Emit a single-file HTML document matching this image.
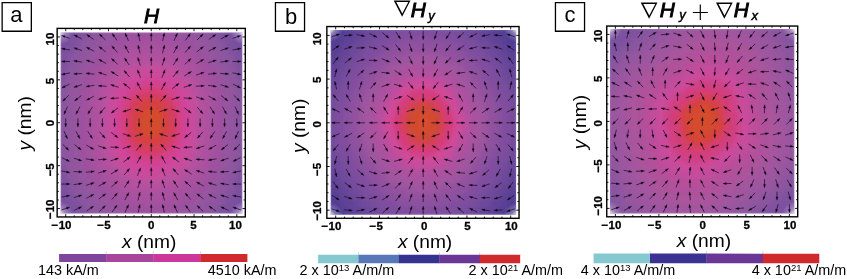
<!DOCTYPE html>
<html><head><meta charset="utf-8"><style>html,body{margin:0;padding:0;background:#fff;overflow:hidden}svg{display:block}</style></head>
<body><svg width="847" height="279" viewBox="0 0 847 279">
<style>
text{font-family:'Liberation Sans',sans-serif;fill:#000}
.tl{font-size:11.5px;font-weight:bold;stroke:#000;stroke-width:0.3px}
.ax{font-size:19.2px}
.cb{font-size:14.4px}
.lt{font-size:22px}
.ti{font-size:20.8px;font-style:italic;stroke:#000;stroke-width:0.95px}
.sub{font-size:13px;stroke-width:0.5px}
.pl{font-family:'DejaVu Sans',sans-serif;font-weight:200;font-size:24px}
.nab{font-family:IPAGothic,sans-serif;font-size:21.2px}
.sh{stroke:#1e0828;stroke-width:1.0;fill:none;stroke-opacity:0.72}
.hd{fill:#0a0010;stroke:#0a0010;stroke-width:0.3;stroke-linejoin:round}
</style>
<rect width="847" height="279" fill="#fff"/>
<defs>
<clipPath id="ca"><rect x="60.7" y="32.5" width="181.6" height="181"/></clipPath>
<filter id="fa" x="-0.1" y="-0.1" width="1.2" height="1.2"><feGaussianBlur stdDeviation="1.8"/></filter>
<clipPath id="cb"><rect x="330.75" y="29.9" width="185.35" height="184.9"/></clipPath>
<filter id="fb" x="-0.1" y="-0.1" width="1.2" height="1.2"><feGaussianBlur stdDeviation="1.8"/></filter>
<clipPath id="cc"><rect x="610" y="29" width="184.3" height="184.4"/></clipPath>
<filter id="fc" x="-0.1" y="-0.1" width="1.2" height="1.2"><feGaussianBlur stdDeviation="1.8"/></filter>
<radialGradient id="cw"><stop offset="0" stop-color="#fff" stop-opacity="0.8"/><stop offset="0.35" stop-color="#fff" stop-opacity="0.3"/><stop offset="1" stop-color="#fff" stop-opacity="0"/></radialGradient>
<linearGradient id="ew" x1="0" y1="0" x2="1" y2="0"><stop offset="0" stop-color="#fff" stop-opacity="0.1"/><stop offset="1" stop-color="#fff" stop-opacity="0"/></linearGradient>
<linearGradient id="ewv" x1="0" y1="0" x2="0" y2="1"><stop offset="0" stop-color="#fff" stop-opacity="0.1"/><stop offset="1" stop-color="#fff" stop-opacity="0"/></linearGradient><linearGradient id="ewv2" x1="0" y1="1" x2="0" y2="0"><stop offset="0" stop-color="#fff" stop-opacity="0.1"/><stop offset="1" stop-color="#fff" stop-opacity="0"/></linearGradient>
</defs>
<g clip-path="url(#ca)"><g filter="url(#fa)"><g transform="translate(48.59 19.79) scale(4.28 4.29)" shape-rendering="crispEdges"><path fill="#754e9f" d="M0 0h7v1h-7zM41 0h7v1h-7zM0 1h6v1h-6zM42 1h6v1h-6zM0 2h5v1h-5zM43 2h5v1h-5zM0 3h4v1h-4zM44 3h4v1h-4zM0 4h4v1h-4zM44 4h4v1h-4zM0 5h3v1h-3zM45 5h3v1h-3zM0 6h3v1h-3zM45 6h3v1h-3zM0 7h2v1h-2zM46 7h2v1h-2zM0 8h2v1h-2zM46 8h2v1h-2zM0 9h1v1h-1zM47 9h1v1h-1zM0 10h1v1h-1zM47 10h1v1h-1zM0 11h1v1h-1zM47 11h1v1h-1zM0 12h1v1h-1zM47 12h1v1h-1zM0 35h1v1h-1zM47 35h1v1h-1zM0 36h1v1h-1zM47 36h1v1h-1zM0 37h1v1h-1zM47 37h1v1h-1zM0 38h1v1h-1zM47 38h1v1h-1zM0 39h2v1h-2zM46 39h2v1h-2zM0 40h2v1h-2zM46 40h2v1h-2zM0 41h3v1h-3zM45 41h3v1h-3zM0 42h3v1h-3zM45 42h3v1h-3zM0 43h4v1h-4zM44 43h4v1h-4zM0 44h4v1h-4zM44 44h4v1h-4zM0 45h5v1h-5zM43 45h5v1h-5zM0 46h6v1h-6zM42 46h6v1h-6zM0 47h7v1h-7zM41 47h7v1h-7z"/><path fill="#784e9f" d="M7 0h2v1h-2zM39 0h2v1h-2zM6 1h2v1h-2zM40 1h2v1h-2zM5 2h2v1h-2zM41 2h2v1h-2zM4 3h2v1h-2zM42 3h2v1h-2zM4 4h1v1h-1zM43 4h1v1h-1zM3 5h1v1h-1zM44 5h1v1h-1zM3 6h1v1h-1zM44 6h1v1h-1zM2 7h1v1h-1zM45 7h1v1h-1zM2 8h1v1h-1zM45 8h1v1h-1zM1 9h2v1h-2zM45 9h2v1h-2zM1 10h1v1h-1zM46 10h1v1h-1zM1 11h1v1h-1zM46 11h1v1h-1zM1 12h1v1h-1zM46 12h1v1h-1zM0 13h1v1h-1zM47 13h1v1h-1zM0 14h1v1h-1zM47 14h1v1h-1zM0 15h1v1h-1zM47 15h1v1h-1zM0 16h1v1h-1zM47 16h1v1h-1zM0 17h1v1h-1zM47 17h1v1h-1zM0 18h1v1h-1zM47 18h1v1h-1zM0 19h1v1h-1zM47 19h1v1h-1zM0 20h1v1h-1zM47 20h1v1h-1zM0 21h1v1h-1zM47 21h1v1h-1zM0 22h1v1h-1zM47 22h1v1h-1zM0 23h1v1h-1zM47 23h1v1h-1zM0 24h1v1h-1zM47 24h1v1h-1zM0 25h1v1h-1zM47 25h1v1h-1zM0 26h1v1h-1zM47 26h1v1h-1zM0 27h1v1h-1zM47 27h1v1h-1zM0 28h1v1h-1zM47 28h1v1h-1zM0 29h1v1h-1zM47 29h1v1h-1zM0 30h1v1h-1zM47 30h1v1h-1zM0 31h1v1h-1zM47 31h1v1h-1zM0 32h1v1h-1zM47 32h1v1h-1zM0 33h1v1h-1zM47 33h1v1h-1zM0 34h1v1h-1zM47 34h1v1h-1zM1 35h1v1h-1zM46 35h1v1h-1zM1 36h1v1h-1zM46 36h1v1h-1zM1 37h1v1h-1zM46 37h1v1h-1zM1 38h2v1h-2zM45 38h2v1h-2zM2 39h1v1h-1zM45 39h1v1h-1zM2 40h1v1h-1zM45 40h1v1h-1zM3 41h1v1h-1zM44 41h1v1h-1zM3 42h1v1h-1zM44 42h1v1h-1zM4 43h1v1h-1zM43 43h1v1h-1zM4 44h2v1h-2zM42 44h2v1h-2zM5 45h2v1h-2zM41 45h2v1h-2zM6 46h2v1h-2zM40 46h2v1h-2zM7 47h2v1h-2zM39 47h2v1h-2z"/><path fill="#7b519f" d="M9 0h1v1h-1zM38 0h1v1h-1zM8 1h1v1h-1zM39 1h1v1h-1zM7 2h1v1h-1zM40 2h1v1h-1zM6 3h1v1h-1zM41 3h1v1h-1zM5 4h1v1h-1zM42 4h1v1h-1zM5 5h1v1h-1zM42 5h1v1h-1zM4 6h1v1h-1zM43 6h1v1h-1zM3 8h1v1h-1zM44 8h1v1h-1zM3 9h1v1h-1zM44 9h1v1h-1zM2 10h1v1h-1zM45 10h1v1h-1zM2 11h1v1h-1zM45 11h1v1h-1zM2 12h1v1h-1zM45 12h1v1h-1zM1 14h1v1h-1zM46 14h1v1h-1zM1 15h1v1h-1zM46 15h1v1h-1zM1 16h1v1h-1zM46 16h1v1h-1zM1 17h1v1h-1zM46 17h1v1h-1zM1 18h1v1h-1zM46 18h1v1h-1zM1 19h1v1h-1zM46 19h1v1h-1zM1 20h1v1h-1zM46 20h1v1h-1zM1 21h1v1h-1zM46 21h1v1h-1zM1 22h1v1h-1zM46 22h1v1h-1zM1 23h1v1h-1zM46 23h1v1h-1zM1 24h1v1h-1zM46 24h1v1h-1zM1 25h1v1h-1zM46 25h1v1h-1zM1 26h1v1h-1zM46 26h1v1h-1zM1 27h1v1h-1zM46 27h1v1h-1zM1 28h1v1h-1zM46 28h1v1h-1zM1 29h1v1h-1zM46 29h1v1h-1zM1 30h1v1h-1zM46 30h1v1h-1zM1 31h1v1h-1zM46 31h1v1h-1zM1 32h1v1h-1zM46 32h1v1h-1zM1 33h1v1h-1zM46 33h1v1h-1zM2 35h1v1h-1zM45 35h1v1h-1zM2 36h1v1h-1zM45 36h1v1h-1zM2 37h1v1h-1zM45 37h1v1h-1zM3 38h1v1h-1zM44 38h1v1h-1zM3 39h1v1h-1zM44 39h1v1h-1zM4 41h1v1h-1zM43 41h1v1h-1zM5 42h1v1h-1zM42 42h1v1h-1zM5 43h1v1h-1zM42 43h1v1h-1zM6 44h1v1h-1zM41 44h1v1h-1zM7 45h1v1h-1zM40 45h1v1h-1zM8 46h1v1h-1zM39 46h1v1h-1zM9 47h1v1h-1zM38 47h1v1h-1z"/><path fill="#7e519f" d="M10 0h1v1h-1zM37 0h1v1h-1zM9 1h1v1h-1zM38 1h1v1h-1zM8 2h1v1h-1zM39 2h1v1h-1zM7 3h1v1h-1zM40 3h1v1h-1zM6 4h1v1h-1zM41 4h1v1h-1zM5 6h1v1h-1zM42 6h1v1h-1zM4 7h1v1h-1zM43 7h1v1h-1zM3 10h1v1h-1zM44 10h1v1h-1zM2 13h1v1h-1zM45 13h1v1h-1zM2 14h1v1h-1zM45 14h1v1h-1zM2 33h1v1h-1zM45 33h1v1h-1zM2 34h1v1h-1zM45 34h1v1h-1zM3 37h1v1h-1zM44 37h1v1h-1zM4 40h1v1h-1zM43 40h1v1h-1zM5 41h1v1h-1zM42 41h1v1h-1zM6 43h1v1h-1zM41 43h1v1h-1zM7 44h1v1h-1zM40 44h1v1h-1zM8 45h1v1h-1zM39 45h1v1h-1zM9 46h1v1h-1zM38 46h1v1h-1zM10 47h1v1h-1zM37 47h1v1h-1z"/><path fill="#81519f" d="M11 0h1v1h-1zM36 0h1v1h-1zM10 1h1v1h-1zM37 1h1v1h-1zM6 5h1v1h-1zM41 5h1v1h-1zM4 8h1v1h-1zM43 8h1v1h-1zM3 11h1v1h-1zM44 11h1v1h-1zM2 15h1v1h-1zM45 15h1v1h-1zM2 16h1v1h-1zM45 16h1v1h-1zM2 17h1v1h-1zM45 17h1v1h-1zM2 30h1v1h-1zM45 30h1v1h-1zM2 31h1v1h-1zM45 31h1v1h-1zM2 32h1v1h-1zM45 32h1v1h-1zM3 36h1v1h-1zM44 36h1v1h-1zM4 39h1v1h-1zM43 39h1v1h-1zM6 42h1v1h-1zM41 42h1v1h-1zM10 46h1v1h-1zM37 46h1v1h-1zM11 47h1v1h-1zM36 47h1v1h-1z"/><path fill="#84519f" d="M12 0h1v1h-1zM35 0h1v1h-1zM9 2h1v1h-1zM38 2h1v1h-1zM8 3h1v1h-1zM39 3h1v1h-1zM7 4h1v1h-1zM40 4h1v1h-1zM6 6h1v1h-1zM41 6h1v1h-1zM5 7h1v1h-1zM42 7h1v1h-1zM4 9h1v1h-1zM43 9h1v1h-1zM3 12h1v1h-1zM44 12h1v1h-1zM3 13h1v1h-1zM44 13h1v1h-1zM2 18h1v1h-1zM45 18h1v1h-1zM2 19h1v1h-1zM45 19h1v1h-1zM2 20h1v1h-1zM45 20h1v1h-1zM2 21h1v1h-1zM45 21h1v1h-1zM2 22h1v1h-1zM45 22h1v1h-1zM2 23h1v1h-1zM45 23h1v1h-1zM2 24h1v1h-1zM45 24h1v1h-1zM2 25h1v1h-1zM45 25h1v1h-1zM2 26h1v1h-1zM45 26h1v1h-1zM2 27h1v1h-1zM45 27h1v1h-1zM2 28h1v1h-1zM45 28h1v1h-1zM2 29h1v1h-1zM45 29h1v1h-1zM3 34h1v1h-1zM44 34h1v1h-1zM3 35h1v1h-1zM44 35h1v1h-1zM4 38h1v1h-1zM43 38h1v1h-1zM5 40h1v1h-1zM42 40h1v1h-1zM6 41h1v1h-1zM41 41h1v1h-1zM7 43h1v1h-1zM40 43h1v1h-1zM8 44h1v1h-1zM39 44h1v1h-1zM9 45h1v1h-1zM38 45h1v1h-1zM12 47h1v1h-1zM35 47h1v1h-1z"/><path fill="#87549f" d="M13 0h1v1h-1zM34 0h1v1h-1zM11 1h1v1h-1zM36 1h1v1h-1zM10 2h1v1h-1zM37 2h1v1h-1zM9 3h1v1h-1zM38 3h1v1h-1zM8 4h1v1h-1zM39 4h1v1h-1zM7 5h1v1h-1zM40 5h1v1h-1zM5 8h1v1h-1zM42 8h1v1h-1zM4 11h1v1h-1zM43 11h1v1h-1zM3 14h1v1h-1zM44 14h1v1h-1zM3 15h1v1h-1zM44 15h1v1h-1zM3 32h1v1h-1zM44 32h1v1h-1zM3 33h1v1h-1zM44 33h1v1h-1zM4 36h1v1h-1zM43 36h1v1h-1zM5 39h1v1h-1zM42 39h1v1h-1zM7 42h1v1h-1zM40 42h1v1h-1zM8 43h1v1h-1zM39 43h1v1h-1zM9 44h1v1h-1zM38 44h1v1h-1zM10 45h1v1h-1zM37 45h1v1h-1zM11 46h1v1h-1zM36 46h1v1h-1zM13 47h1v1h-1zM34 47h1v1h-1z"/><path fill="#8a549f" d="M14 0h1v1h-1zM33 0h1v1h-1zM12 1h1v1h-1zM35 1h1v1h-1zM7 6h1v1h-1zM40 6h1v1h-1zM6 7h1v1h-1zM41 7h1v1h-1zM5 9h1v1h-1zM42 9h1v1h-1zM4 12h1v1h-1zM43 12h1v1h-1zM3 16h1v1h-1zM44 16h1v1h-1zM3 17h1v1h-1zM44 17h1v1h-1zM3 18h1v1h-1zM44 18h1v1h-1zM3 19h1v1h-1zM44 19h1v1h-1zM3 20h1v1h-1zM44 20h1v1h-1zM3 21h1v1h-1zM44 21h1v1h-1zM3 22h1v1h-1zM44 22h1v1h-1zM3 23h1v1h-1zM44 23h1v1h-1zM3 24h1v1h-1zM44 24h1v1h-1zM3 25h1v1h-1zM44 25h1v1h-1zM3 26h1v1h-1zM44 26h1v1h-1zM3 27h1v1h-1zM44 27h1v1h-1zM3 28h1v1h-1zM44 28h1v1h-1zM3 29h1v1h-1zM44 29h1v1h-1zM3 30h1v1h-1zM44 30h1v1h-1zM3 31h1v1h-1zM44 31h1v1h-1zM4 35h1v1h-1zM43 35h1v1h-1zM5 38h1v1h-1zM42 38h1v1h-1zM6 40h1v1h-1zM41 40h1v1h-1zM7 41h1v1h-1zM40 41h1v1h-1zM12 46h1v1h-1zM35 46h1v1h-1zM14 47h1v1h-1zM33 47h1v1h-1z"/><path fill="#8d549f" d="M15 0h2v1h-2zM31 0h2v1h-2zM13 1h1v1h-1zM34 1h1v1h-1zM11 2h2v1h-2zM35 2h2v1h-2zM10 3h2v1h-2zM36 3h2v1h-2zM9 4h1v1h-1zM38 4h1v1h-1zM8 5h1v1h-1zM39 5h1v1h-1zM8 6h1v1h-1zM39 6h1v1h-1zM7 7h1v1h-1zM40 7h1v1h-1zM6 8h1v1h-1zM41 8h1v1h-1zM6 9h1v1h-1zM41 9h1v1h-1zM5 10h1v1h-1zM42 10h1v1h-1zM5 11h1v1h-1zM42 11h1v1h-1zM4 13h1v1h-1zM43 13h1v1h-1zM4 14h1v1h-1zM43 14h1v1h-1zM4 15h1v1h-1zM43 15h1v1h-1zM4 32h1v1h-1zM43 32h1v1h-1zM4 33h1v1h-1zM43 33h1v1h-1zM4 34h1v1h-1zM43 34h1v1h-1zM5 36h1v1h-1zM42 36h1v1h-1zM5 37h1v1h-1zM42 37h1v1h-1zM6 38h1v1h-1zM41 38h1v1h-1zM6 39h1v1h-1zM41 39h1v1h-1zM7 40h1v1h-1zM40 40h1v1h-1zM8 41h1v1h-1zM39 41h1v1h-1zM8 42h1v1h-1zM39 42h1v1h-1zM9 43h1v1h-1zM38 43h1v1h-1zM10 44h2v1h-2zM36 44h2v1h-2zM11 45h2v1h-2zM35 45h2v1h-2zM13 46h1v1h-1zM34 46h1v1h-1zM15 47h2v1h-2zM31 47h2v1h-2z"/><path fill="#90549f" d="M17 0h3v1h-3zM28 0h3v1h-3zM14 1h3v1h-3zM31 1h3v1h-3zM13 2h2v1h-2zM33 2h2v1h-2zM12 3h1v1h-1zM35 3h1v1h-1zM10 4h2v1h-2zM36 4h2v1h-2zM9 5h2v1h-2zM37 5h2v1h-2zM9 6h1v1h-1zM38 6h1v1h-1zM8 7h1v1h-1zM39 7h1v1h-1zM7 8h1v1h-1zM40 8h1v1h-1zM7 9h1v1h-1zM40 9h1v1h-1zM6 10h1v1h-1zM41 10h1v1h-1zM6 11h1v1h-1zM41 11h1v1h-1zM5 12h1v1h-1zM42 12h1v1h-1zM5 13h1v1h-1zM42 13h1v1h-1zM5 14h1v1h-1zM42 14h1v1h-1zM4 16h1v1h-1zM43 16h1v1h-1zM4 17h1v1h-1zM43 17h1v1h-1zM4 18h1v1h-1zM43 18h1v1h-1zM4 19h1v1h-1zM43 19h1v1h-1zM4 20h1v1h-1zM43 20h1v1h-1zM4 21h1v1h-1zM43 21h1v1h-1zM4 22h1v1h-1zM43 22h1v1h-1zM4 23h1v1h-1zM43 23h1v1h-1zM4 24h1v1h-1zM43 24h1v1h-1zM4 25h1v1h-1zM43 25h1v1h-1zM4 26h1v1h-1zM43 26h1v1h-1zM4 27h1v1h-1zM43 27h1v1h-1zM4 28h1v1h-1zM43 28h1v1h-1zM4 29h1v1h-1zM43 29h1v1h-1zM4 30h1v1h-1zM43 30h1v1h-1zM4 31h1v1h-1zM43 31h1v1h-1zM5 33h1v1h-1zM42 33h1v1h-1zM5 34h1v1h-1zM42 34h1v1h-1zM5 35h1v1h-1zM42 35h1v1h-1zM6 36h1v1h-1zM41 36h1v1h-1zM6 37h1v1h-1zM41 37h1v1h-1zM7 38h1v1h-1zM40 38h1v1h-1zM7 39h1v1h-1zM40 39h1v1h-1zM8 40h1v1h-1zM39 40h1v1h-1zM9 41h1v1h-1zM38 41h1v1h-1zM9 42h2v1h-2zM37 42h2v1h-2zM10 43h2v1h-2zM36 43h2v1h-2zM12 44h1v1h-1zM35 44h1v1h-1zM13 45h2v1h-2zM33 45h2v1h-2zM14 46h3v1h-3zM31 46h3v1h-3zM17 47h3v1h-3zM28 47h3v1h-3z"/><path fill="#93549f" d="M20 0h8v1h-8zM17 1h2v1h-2zM29 1h2v1h-2zM15 2h2v1h-2zM31 2h2v1h-2zM13 3h2v1h-2zM33 3h2v1h-2zM12 4h1v1h-1zM35 4h1v1h-1zM11 5h1v1h-1zM36 5h1v1h-1zM10 6h1v1h-1zM37 6h1v1h-1zM9 7h1v1h-1zM38 7h1v1h-1zM8 8h1v1h-1zM39 8h1v1h-1zM8 9h1v1h-1zM39 9h1v1h-1zM7 10h1v1h-1zM40 10h1v1h-1zM6 12h1v1h-1zM41 12h1v1h-1zM6 13h1v1h-1zM41 13h1v1h-1zM5 15h1v1h-1zM42 15h1v1h-1zM5 16h1v1h-1zM42 16h1v1h-1zM5 17h1v1h-1zM42 17h1v1h-1zM5 18h1v1h-1zM42 18h1v1h-1zM5 19h1v1h-1zM42 19h1v1h-1zM5 20h1v1h-1zM42 20h1v1h-1zM5 21h1v1h-1zM42 21h1v1h-1zM5 22h1v1h-1zM42 22h1v1h-1zM5 23h1v1h-1zM42 23h1v1h-1zM5 24h1v1h-1zM42 24h1v1h-1zM5 25h1v1h-1zM42 25h1v1h-1zM5 26h1v1h-1zM42 26h1v1h-1zM5 27h1v1h-1zM42 27h1v1h-1zM5 28h1v1h-1zM42 28h1v1h-1zM5 29h1v1h-1zM42 29h1v1h-1zM5 30h1v1h-1zM42 30h1v1h-1zM5 31h1v1h-1zM42 31h1v1h-1zM5 32h1v1h-1zM42 32h1v1h-1zM6 34h1v1h-1zM41 34h1v1h-1zM6 35h1v1h-1zM41 35h1v1h-1zM7 37h1v1h-1zM40 37h1v1h-1zM8 38h1v1h-1zM39 38h1v1h-1zM8 39h1v1h-1zM39 39h1v1h-1zM9 40h1v1h-1zM38 40h1v1h-1zM10 41h1v1h-1zM37 41h1v1h-1zM11 42h1v1h-1zM36 42h1v1h-1zM12 43h1v1h-1zM35 43h1v1h-1zM13 44h2v1h-2zM33 44h2v1h-2zM15 45h2v1h-2zM31 45h2v1h-2zM17 46h2v1h-2zM29 46h2v1h-2zM20 47h8v1h-8z"/><path fill="#96549f" d="M19 1h10v1h-10zM17 2h2v1h-2zM29 2h2v1h-2zM15 3h2v1h-2zM31 3h2v1h-2zM13 4h2v1h-2zM33 4h2v1h-2zM12 5h1v1h-1zM35 5h1v1h-1zM11 6h1v1h-1zM36 6h1v1h-1zM10 7h1v1h-1zM37 7h1v1h-1zM9 8h1v1h-1zM38 8h1v1h-1zM9 9h1v1h-1zM38 9h1v1h-1zM8 10h1v1h-1zM39 10h1v1h-1zM7 11h1v1h-1zM40 11h1v1h-1zM7 12h1v1h-1zM40 12h1v1h-1zM7 13h1v1h-1zM40 13h1v1h-1zM6 14h1v1h-1zM41 14h1v1h-1zM6 15h1v1h-1zM41 15h1v1h-1zM6 16h1v1h-1zM41 16h1v1h-1zM6 17h1v1h-1zM41 17h1v1h-1zM6 18h1v1h-1zM41 18h1v1h-1zM6 29h1v1h-1zM41 29h1v1h-1zM6 30h1v1h-1zM41 30h1v1h-1zM6 31h1v1h-1zM41 31h1v1h-1zM6 32h1v1h-1zM41 32h1v1h-1zM6 33h1v1h-1zM41 33h1v1h-1zM7 34h1v1h-1zM40 34h1v1h-1zM7 35h1v1h-1zM40 35h1v1h-1zM7 36h1v1h-1zM40 36h1v1h-1zM8 37h1v1h-1zM39 37h1v1h-1zM9 38h1v1h-1zM38 38h1v1h-1zM9 39h1v1h-1zM38 39h1v1h-1zM10 40h1v1h-1zM37 40h1v1h-1zM11 41h1v1h-1zM36 41h1v1h-1zM12 42h1v1h-1zM35 42h1v1h-1zM13 43h2v1h-2zM33 43h2v1h-2zM15 44h2v1h-2zM31 44h2v1h-2zM17 45h2v1h-2zM29 45h2v1h-2zM19 46h10v1h-10z"/><path fill="#99549f" d="M19 2h4v1h-4zM25 2h4v1h-4zM17 3h1v1h-1zM30 3h1v1h-1zM15 4h1v1h-1zM32 4h1v1h-1zM13 5h1v1h-1zM34 5h1v1h-1zM12 6h1v1h-1zM35 6h1v1h-1zM11 7h1v1h-1zM36 7h1v1h-1zM10 8h1v1h-1zM37 8h1v1h-1zM9 10h1v1h-1zM38 10h1v1h-1zM8 11h1v1h-1zM39 11h1v1h-1zM8 12h1v1h-1zM39 12h1v1h-1zM7 14h1v1h-1zM40 14h1v1h-1zM7 15h1v1h-1zM40 15h1v1h-1zM6 19h1v1h-1zM41 19h1v1h-1zM6 20h1v1h-1zM41 20h1v1h-1zM6 21h1v1h-1zM41 21h1v1h-1zM6 22h1v1h-1zM41 22h1v1h-1zM6 23h1v1h-1zM41 23h1v1h-1zM6 24h1v1h-1zM41 24h1v1h-1zM6 25h1v1h-1zM41 25h1v1h-1zM6 26h1v1h-1zM41 26h1v1h-1zM6 27h1v1h-1zM41 27h1v1h-1zM6 28h1v1h-1zM41 28h1v1h-1zM7 32h1v1h-1zM40 32h1v1h-1zM7 33h1v1h-1zM40 33h1v1h-1zM8 35h1v1h-1zM39 35h1v1h-1zM8 36h1v1h-1zM39 36h1v1h-1zM9 37h1v1h-1zM38 37h1v1h-1zM10 39h1v1h-1zM37 39h1v1h-1zM11 40h1v1h-1zM36 40h1v1h-1zM12 41h1v1h-1zM35 41h1v1h-1zM13 42h1v1h-1zM34 42h1v1h-1zM15 43h1v1h-1zM32 43h1v1h-1zM17 44h1v1h-1zM30 44h1v1h-1zM19 45h4v1h-4zM25 45h4v1h-4z"/><path fill="#99519f" d="M23 2h2v1h-2zM18 3h1v1h-1zM29 3h1v1h-1zM16 4h1v1h-1zM31 4h1v1h-1zM14 5h1v1h-1zM33 5h1v1h-1zM10 9h1v1h-1zM37 9h1v1h-1zM7 16h1v1h-1zM40 16h1v1h-1zM7 31h1v1h-1zM40 31h1v1h-1zM10 38h1v1h-1zM37 38h1v1h-1zM14 42h1v1h-1zM33 42h1v1h-1zM16 43h1v1h-1zM31 43h1v1h-1zM18 44h1v1h-1zM29 44h1v1h-1zM23 45h2v1h-2z"/><path fill="#9c519f" d="M19 3h10v1h-10zM17 4h2v1h-2zM29 4h2v1h-2zM15 5h2v1h-2zM31 5h2v1h-2zM13 6h2v1h-2zM33 6h2v1h-2zM12 7h2v1h-2zM34 7h2v1h-2zM11 8h2v1h-2zM35 8h2v1h-2zM11 9h1v1h-1zM36 9h1v1h-1zM10 10h1v1h-1zM37 10h1v1h-1zM9 11h1v1h-1zM38 11h1v1h-1zM9 12h1v1h-1zM38 12h1v1h-1zM8 13h1v1h-1zM39 13h1v1h-1zM8 14h1v1h-1zM39 14h1v1h-1zM8 15h1v1h-1zM39 15h1v1h-1zM7 17h1v1h-1zM40 17h1v1h-1zM7 18h1v1h-1zM40 18h1v1h-1zM7 19h1v1h-1zM40 19h1v1h-1zM7 20h1v1h-1zM40 20h1v1h-1zM7 21h1v1h-1zM40 21h1v1h-1zM7 22h1v1h-1zM40 22h1v1h-1zM7 23h1v1h-1zM40 23h1v1h-1zM7 24h1v1h-1zM40 24h1v1h-1zM7 25h1v1h-1zM40 25h1v1h-1zM7 26h1v1h-1zM40 26h1v1h-1zM7 27h1v1h-1zM40 27h1v1h-1zM7 28h1v1h-1zM40 28h1v1h-1zM7 29h1v1h-1zM40 29h1v1h-1zM7 30h1v1h-1zM40 30h1v1h-1zM8 32h1v1h-1zM39 32h1v1h-1zM8 33h1v1h-1zM39 33h1v1h-1zM8 34h1v1h-1zM39 34h1v1h-1zM9 35h1v1h-1zM38 35h1v1h-1zM9 36h1v1h-1zM38 36h1v1h-1zM10 37h1v1h-1zM37 37h1v1h-1zM11 38h1v1h-1zM36 38h1v1h-1zM11 39h2v1h-2zM35 39h2v1h-2zM12 40h2v1h-2zM34 40h2v1h-2zM13 41h2v1h-2zM33 41h2v1h-2zM15 42h2v1h-2zM31 42h2v1h-2zM17 43h2v1h-2zM29 43h2v1h-2zM19 44h10v1h-10z"/><path fill="#9f519f" d="M19 4h4v1h-4zM25 4h4v1h-4zM17 5h1v1h-1zM30 5h1v1h-1zM15 6h1v1h-1zM32 6h1v1h-1zM14 7h1v1h-1zM33 7h1v1h-1zM13 8h1v1h-1zM34 8h1v1h-1zM12 9h1v1h-1zM35 9h1v1h-1zM11 10h1v1h-1zM36 10h1v1h-1zM10 11h1v1h-1zM37 11h1v1h-1zM9 13h1v1h-1zM38 13h1v1h-1zM9 14h1v1h-1zM38 14h1v1h-1zM8 16h1v1h-1zM39 16h1v1h-1zM8 17h1v1h-1zM39 17h1v1h-1zM8 18h1v1h-1zM39 18h1v1h-1zM8 19h1v1h-1zM39 19h1v1h-1zM8 20h1v1h-1zM39 20h1v1h-1zM8 21h1v1h-1zM39 21h1v1h-1zM8 22h1v1h-1zM39 22h1v1h-1zM8 23h1v1h-1zM39 23h1v1h-1zM8 24h1v1h-1zM39 24h1v1h-1zM8 25h1v1h-1zM39 25h1v1h-1zM8 26h1v1h-1zM39 26h1v1h-1zM8 27h1v1h-1zM39 27h1v1h-1zM8 28h1v1h-1zM39 28h1v1h-1zM8 29h1v1h-1zM39 29h1v1h-1zM8 30h1v1h-1zM39 30h1v1h-1zM8 31h1v1h-1zM39 31h1v1h-1zM9 33h1v1h-1zM38 33h1v1h-1zM9 34h1v1h-1zM38 34h1v1h-1zM10 36h1v1h-1zM37 36h1v1h-1zM11 37h1v1h-1zM36 37h1v1h-1zM12 38h1v1h-1zM35 38h1v1h-1zM13 39h1v1h-1zM34 39h1v1h-1zM14 40h1v1h-1zM33 40h1v1h-1zM15 41h1v1h-1zM32 41h1v1h-1zM17 42h1v1h-1zM30 42h1v1h-1zM19 43h4v1h-4zM25 43h4v1h-4z"/><path fill="#a2519f" d="M23 4h2v1h-2zM18 5h3v1h-3zM27 5h3v1h-3zM16 6h2v1h-2zM30 6h2v1h-2zM15 7h1v1h-1zM32 7h1v1h-1zM14 8h1v1h-1zM33 8h1v1h-1zM13 9h1v1h-1zM34 9h1v1h-1zM12 10h1v1h-1zM35 10h1v1h-1zM11 11h1v1h-1zM36 11h1v1h-1zM10 12h1v1h-1zM37 12h1v1h-1zM10 13h1v1h-1zM37 13h1v1h-1zM9 15h1v1h-1zM38 15h1v1h-1zM9 16h1v1h-1zM38 16h1v1h-1zM9 31h1v1h-1zM38 31h1v1h-1zM9 32h1v1h-1zM38 32h1v1h-1zM10 34h1v1h-1zM37 34h1v1h-1zM10 35h1v1h-1zM37 35h1v1h-1zM11 36h1v1h-1zM36 36h1v1h-1zM12 37h1v1h-1zM35 37h1v1h-1zM13 38h1v1h-1zM34 38h1v1h-1zM14 39h1v1h-1zM33 39h1v1h-1zM15 40h1v1h-1zM32 40h1v1h-1zM16 41h2v1h-2zM30 41h2v1h-2zM18 42h3v1h-3zM27 42h3v1h-3zM23 43h2v1h-2z"/><path fill="#7b4e9f" d="M4 5h1v1h-1zM43 5h1v1h-1zM3 7h1v1h-1zM44 7h1v1h-1zM1 13h1v1h-1zM46 13h1v1h-1zM1 34h1v1h-1zM46 34h1v1h-1zM3 40h1v1h-1zM44 40h1v1h-1zM4 42h1v1h-1zM43 42h1v1h-1z"/><path fill="#a5519f" d="M21 5h6v1h-6zM18 6h2v1h-2zM28 6h2v1h-2zM16 7h2v1h-2zM30 7h2v1h-2zM15 8h1v1h-1zM32 8h1v1h-1zM14 9h1v1h-1zM33 9h1v1h-1zM13 10h1v1h-1zM34 10h1v1h-1zM12 11h1v1h-1zM35 11h1v1h-1zM11 12h1v1h-1zM36 12h1v1h-1zM10 14h1v1h-1zM37 14h1v1h-1zM10 15h1v1h-1zM37 15h1v1h-1zM9 17h1v1h-1zM38 17h1v1h-1zM9 18h1v1h-1zM38 18h1v1h-1zM9 19h1v1h-1zM38 19h1v1h-1zM9 20h1v1h-1zM38 20h1v1h-1zM9 21h1v1h-1zM38 21h1v1h-1zM9 22h1v1h-1zM38 22h1v1h-1zM9 23h1v1h-1zM38 23h1v1h-1zM9 24h1v1h-1zM38 24h1v1h-1zM9 25h1v1h-1zM38 25h1v1h-1zM9 26h1v1h-1zM38 26h1v1h-1zM9 27h1v1h-1zM38 27h1v1h-1zM9 28h1v1h-1zM38 28h1v1h-1zM9 29h1v1h-1zM38 29h1v1h-1zM9 30h1v1h-1zM38 30h1v1h-1zM10 32h1v1h-1zM37 32h1v1h-1zM10 33h1v1h-1zM37 33h1v1h-1zM11 35h1v1h-1zM36 35h1v1h-1zM12 36h1v1h-1zM35 36h1v1h-1zM13 37h1v1h-1zM34 37h1v1h-1zM14 38h1v1h-1zM33 38h1v1h-1zM15 39h1v1h-1zM32 39h1v1h-1zM16 40h2v1h-2zM30 40h2v1h-2zM18 41h2v1h-2zM28 41h2v1h-2zM21 42h6v1h-6z"/><path fill="#a8519f" d="M20 6h8v1h-8zM18 7h1v1h-1zM29 7h1v1h-1zM16 8h1v1h-1zM31 8h1v1h-1zM15 9h1v1h-1zM32 9h1v1h-1zM14 10h1v1h-1zM33 10h1v1h-1zM13 11h1v1h-1zM34 11h1v1h-1zM12 12h1v1h-1zM35 12h1v1h-1zM11 13h1v1h-1zM36 13h1v1h-1zM11 14h1v1h-1zM36 14h1v1h-1zM10 16h1v1h-1zM37 16h1v1h-1zM10 17h1v1h-1zM37 17h1v1h-1zM10 18h1v1h-1zM37 18h1v1h-1zM10 29h1v1h-1zM37 29h1v1h-1zM10 30h1v1h-1zM37 30h1v1h-1zM10 31h1v1h-1zM37 31h1v1h-1zM11 33h1v1h-1zM36 33h1v1h-1zM11 34h1v1h-1zM36 34h1v1h-1zM12 35h1v1h-1zM35 35h1v1h-1zM13 36h1v1h-1zM34 36h1v1h-1zM14 37h1v1h-1zM33 37h1v1h-1zM15 38h1v1h-1zM32 38h1v1h-1zM16 39h1v1h-1zM31 39h1v1h-1zM18 40h1v1h-1zM29 40h1v1h-1zM20 41h8v1h-8z"/><path fill="#ab519f" d="M19 7h10v1h-10zM17 8h2v1h-2zM29 8h2v1h-2zM16 9h1v1h-1zM31 9h1v1h-1zM15 10h1v1h-1zM32 10h1v1h-1zM14 11h1v1h-1zM33 11h1v1h-1zM13 12h1v1h-1zM34 12h1v1h-1zM12 13h1v1h-1zM35 13h1v1h-1zM11 15h1v1h-1zM36 15h1v1h-1zM11 16h1v1h-1zM36 16h1v1h-1zM10 19h1v1h-1zM37 19h1v1h-1zM10 20h1v1h-1zM37 20h1v1h-1zM10 21h1v1h-1zM37 21h1v1h-1zM10 22h1v1h-1zM37 22h1v1h-1zM10 23h1v1h-1zM37 23h1v1h-1zM10 24h1v1h-1zM37 24h1v1h-1zM10 25h1v1h-1zM37 25h1v1h-1zM10 26h1v1h-1zM37 26h1v1h-1zM10 27h1v1h-1zM37 27h1v1h-1zM10 28h1v1h-1zM37 28h1v1h-1zM11 31h1v1h-1zM36 31h1v1h-1zM11 32h1v1h-1zM36 32h1v1h-1zM12 34h1v1h-1zM35 34h1v1h-1zM13 35h1v1h-1zM34 35h1v1h-1zM14 36h1v1h-1zM33 36h1v1h-1zM15 37h1v1h-1zM32 37h1v1h-1zM16 38h1v1h-1zM31 38h1v1h-1zM17 39h2v1h-2zM29 39h2v1h-2zM19 40h10v1h-10z"/><path fill="#ae519f" d="M19 8h3v1h-3zM26 8h3v1h-3zM17 9h2v1h-2zM29 9h2v1h-2zM16 10h1v1h-1zM31 10h1v1h-1zM15 11h1v1h-1zM32 11h1v1h-1zM14 12h1v1h-1zM33 12h1v1h-1zM13 13h1v1h-1zM34 13h1v1h-1zM12 14h1v1h-1zM35 14h1v1h-1zM12 15h1v1h-1zM35 15h1v1h-1zM11 17h1v1h-1zM36 17h1v1h-1zM11 18h1v1h-1zM36 18h1v1h-1zM11 19h1v1h-1zM36 19h1v1h-1zM11 20h1v1h-1zM36 20h1v1h-1zM11 21h1v1h-1zM36 21h1v1h-1zM11 22h1v1h-1zM36 22h1v1h-1zM11 23h1v1h-1zM36 23h1v1h-1zM11 24h1v1h-1zM36 24h1v1h-1zM11 25h1v1h-1zM36 25h1v1h-1zM11 26h1v1h-1zM36 26h1v1h-1zM11 27h1v1h-1zM36 27h1v1h-1zM11 28h1v1h-1zM36 28h1v1h-1zM11 29h1v1h-1zM36 29h1v1h-1zM11 30h1v1h-1zM36 30h1v1h-1zM12 32h1v1h-1zM35 32h1v1h-1zM12 33h1v1h-1zM35 33h1v1h-1zM13 34h1v1h-1zM34 34h1v1h-1zM14 35h1v1h-1zM33 35h1v1h-1zM15 36h1v1h-1zM32 36h1v1h-1zM16 37h1v1h-1zM31 37h1v1h-1zM17 38h2v1h-2zM29 38h2v1h-2zM19 39h3v1h-3zM26 39h3v1h-3z"/><path fill="#b1519f" d="M22 8h4v1h-4zM19 9h1v1h-1zM28 9h1v1h-1zM17 10h1v1h-1zM30 10h1v1h-1zM16 11h1v1h-1zM31 11h1v1h-1zM15 12h1v1h-1zM32 12h1v1h-1zM14 13h1v1h-1zM33 13h1v1h-1zM13 14h1v1h-1zM34 14h1v1h-1zM12 16h1v1h-1zM35 16h1v1h-1zM12 17h1v1h-1zM35 17h1v1h-1zM12 30h1v1h-1zM35 30h1v1h-1zM12 31h1v1h-1zM35 31h1v1h-1zM13 33h1v1h-1zM34 33h1v1h-1zM14 34h1v1h-1zM33 34h1v1h-1zM15 35h1v1h-1zM32 35h1v1h-1zM16 36h1v1h-1zM31 36h1v1h-1zM17 37h1v1h-1zM30 37h1v1h-1zM19 38h1v1h-1zM28 38h1v1h-1zM22 39h4v1h-4z"/><path fill="#b4519f" d="M20 9h3v1h-3zM25 9h3v1h-3zM18 10h1v1h-1zM29 10h1v1h-1zM13 15h1v1h-1zM34 15h1v1h-1zM12 18h1v1h-1zM35 18h1v1h-1zM12 19h1v1h-1zM35 19h1v1h-1zM12 28h1v1h-1zM35 28h1v1h-1zM12 29h1v1h-1zM35 29h1v1h-1zM13 32h1v1h-1zM34 32h1v1h-1zM18 37h1v1h-1zM29 37h1v1h-1zM20 38h3v1h-3zM25 38h3v1h-3z"/><path fill="#b7519f" d="M23 9h2v1h-2zM19 10h1v1h-1zM28 10h1v1h-1zM17 11h1v1h-1zM30 11h1v1h-1zM16 12h1v1h-1zM31 12h1v1h-1zM15 13h1v1h-1zM32 13h1v1h-1zM14 14h1v1h-1zM33 14h1v1h-1zM13 16h1v1h-1zM34 16h1v1h-1zM12 20h1v1h-1zM35 20h1v1h-1zM12 21h1v1h-1zM35 21h1v1h-1zM12 22h1v1h-1zM35 22h1v1h-1zM12 23h1v1h-1zM35 23h1v1h-1zM12 24h1v1h-1zM35 24h1v1h-1zM12 25h1v1h-1zM35 25h1v1h-1zM12 26h1v1h-1zM35 26h1v1h-1zM12 27h1v1h-1zM35 27h1v1h-1zM13 31h1v1h-1zM34 31h1v1h-1zM14 33h1v1h-1zM33 33h1v1h-1zM15 34h1v1h-1zM32 34h1v1h-1zM16 35h1v1h-1zM31 35h1v1h-1zM17 36h1v1h-1zM30 36h1v1h-1zM19 37h1v1h-1zM28 37h1v1h-1zM23 38h2v1h-2z"/><path fill="#87519f" d="M4 10h1v1h-1zM43 10h1v1h-1zM4 37h1v1h-1zM43 37h1v1h-1z"/><path fill="#ba519f" d="M20 10h2v1h-2zM26 10h2v1h-2zM18 11h1v1h-1zM29 11h1v1h-1zM14 15h1v1h-1zM33 15h1v1h-1zM13 17h1v1h-1zM34 17h1v1h-1zM13 18h1v1h-1zM34 18h1v1h-1zM13 29h1v1h-1zM34 29h1v1h-1zM13 30h1v1h-1zM34 30h1v1h-1zM14 32h1v1h-1zM33 32h1v1h-1zM18 36h1v1h-1zM29 36h1v1h-1zM20 37h2v1h-2zM26 37h2v1h-2z"/><path fill="#bd519f" d="M22 10h4v1h-4zM19 11h1v1h-1zM28 11h1v1h-1zM17 12h1v1h-1zM30 12h1v1h-1zM16 13h1v1h-1zM31 13h1v1h-1zM15 14h1v1h-1zM32 14h1v1h-1zM13 19h1v1h-1zM34 19h1v1h-1zM13 28h1v1h-1zM34 28h1v1h-1zM15 33h1v1h-1zM32 33h1v1h-1zM16 34h1v1h-1zM31 34h1v1h-1zM17 35h1v1h-1zM30 35h1v1h-1zM19 36h1v1h-1zM28 36h1v1h-1zM22 37h4v1h-4z"/><path fill="#c04e9f" d="M20 11h1v1h-1zM27 11h1v1h-1zM18 12h1v1h-1zM29 12h1v1h-1zM13 21h1v1h-1zM34 21h1v1h-1zM13 22h1v1h-1zM34 22h1v1h-1zM13 23h1v1h-1zM34 23h1v1h-1zM13 24h1v1h-1zM34 24h1v1h-1zM13 25h1v1h-1zM34 25h1v1h-1zM13 26h1v1h-1zM34 26h1v1h-1zM18 35h1v1h-1zM29 35h1v1h-1zM20 36h1v1h-1zM27 36h1v1h-1z"/><path fill="#c34e9c" d="M21 11h1v1h-1zM26 11h1v1h-1zM16 14h1v1h-1zM31 14h1v1h-1zM16 33h1v1h-1zM31 33h1v1h-1zM21 36h1v1h-1zM26 36h1v1h-1z"/><path fill="#c64e9c" d="M22 11h4v1h-4zM19 12h1v1h-1zM28 12h1v1h-1zM14 18h1v1h-1zM33 18h1v1h-1zM14 29h1v1h-1zM33 29h1v1h-1zM19 35h1v1h-1zM28 35h1v1h-1zM22 36h4v1h-4z"/><path fill="#c94b9c" d="M20 12h2v1h-2zM26 12h2v1h-2zM18 13h2v1h-2zM28 13h2v1h-2zM17 14h1v1h-1zM30 14h1v1h-1zM16 15h1v1h-1zM31 15h1v1h-1zM15 17h1v1h-1zM32 17h1v1h-1zM14 19h1v1h-1zM33 19h1v1h-1zM14 20h1v1h-1zM33 20h1v1h-1zM14 21h1v1h-1zM33 21h1v1h-1zM14 22h1v1h-1zM33 22h1v1h-1zM14 23h1v1h-1zM33 23h1v1h-1zM14 24h1v1h-1zM33 24h1v1h-1zM14 25h1v1h-1zM33 25h1v1h-1zM14 26h1v1h-1zM33 26h1v1h-1zM14 27h1v1h-1zM33 27h1v1h-1zM14 28h1v1h-1zM33 28h1v1h-1zM15 30h1v1h-1zM32 30h1v1h-1zM16 32h1v1h-1zM31 32h1v1h-1zM17 33h1v1h-1zM30 33h1v1h-1zM18 34h2v1h-2zM28 34h2v1h-2zM20 35h2v1h-2zM26 35h2v1h-2z"/><path fill="#cc489c" d="M22 12h4v1h-4zM20 13h2v1h-2zM26 13h2v1h-2zM18 14h1v1h-1zM29 14h1v1h-1zM17 15h1v1h-1zM30 15h1v1h-1zM16 16h1v1h-1zM31 16h1v1h-1zM16 17h1v1h-1zM31 17h1v1h-1zM15 18h1v1h-1zM32 18h1v1h-1zM15 19h1v1h-1zM32 19h1v1h-1zM15 20h1v1h-1zM32 20h1v1h-1zM15 27h1v1h-1zM32 27h1v1h-1zM15 28h1v1h-1zM32 28h1v1h-1zM15 29h1v1h-1zM32 29h1v1h-1zM16 30h1v1h-1zM31 30h1v1h-1zM16 31h1v1h-1zM31 31h1v1h-1zM17 32h1v1h-1zM30 32h1v1h-1zM18 33h1v1h-1zM29 33h1v1h-1zM20 34h2v1h-2zM26 34h2v1h-2zM22 35h4v1h-4z"/><path fill="#c34e9f" d="M17 13h1v1h-1zM30 13h1v1h-1zM15 15h1v1h-1zM32 15h1v1h-1zM14 17h1v1h-1zM33 17h1v1h-1zM14 30h1v1h-1zM33 30h1v1h-1zM15 32h1v1h-1zM32 32h1v1h-1zM17 34h1v1h-1zM30 34h1v1h-1z"/><path fill="#cf4599" d="M22 13h4v1h-4zM20 14h2v1h-2zM26 14h2v1h-2zM18 15h2v1h-2zM28 15h2v1h-2zM17 16h1v1h-1zM30 16h1v1h-1zM17 17h1v1h-1zM30 17h1v1h-1zM16 18h1v1h-1zM31 18h1v1h-1zM16 19h1v1h-1zM31 19h1v1h-1zM16 28h1v1h-1zM31 28h1v1h-1zM16 29h1v1h-1zM31 29h1v1h-1zM17 30h1v1h-1zM30 30h1v1h-1zM17 31h1v1h-1zM30 31h1v1h-1zM18 32h2v1h-2zM28 32h2v1h-2zM20 33h2v1h-2zM26 33h2v1h-2zM22 34h4v1h-4z"/><path fill="#cf459c" d="M19 14h1v1h-1zM28 14h1v1h-1zM15 21h1v1h-1zM32 21h1v1h-1zM15 22h1v1h-1zM32 22h1v1h-1zM15 23h1v1h-1zM32 23h1v1h-1zM15 24h1v1h-1zM32 24h1v1h-1zM15 25h1v1h-1zM32 25h1v1h-1zM15 26h1v1h-1zM32 26h1v1h-1zM19 33h1v1h-1zM28 33h1v1h-1z"/><path fill="#d24293" d="M22 14h4v1h-4zM16 21h1v1h-1zM31 21h1v1h-1zM16 22h1v1h-1zM31 22h1v1h-1zM16 23h1v1h-1zM31 23h1v1h-1zM16 24h1v1h-1zM31 24h1v1h-1zM16 25h1v1h-1zM31 25h1v1h-1zM16 26h1v1h-1zM31 26h1v1h-1zM22 33h4v1h-4z"/><path fill="#d24290" d="M20 15h1v1h-1zM27 15h1v1h-1zM17 18h1v1h-1zM30 18h1v1h-1zM17 29h1v1h-1zM30 29h1v1h-1zM20 32h1v1h-1zM27 32h1v1h-1z"/><path fill="#d2428a" d="M21 15h1v1h-1zM26 15h1v1h-1zM17 19h1v1h-1zM30 19h1v1h-1zM17 28h1v1h-1zM30 28h1v1h-1zM21 32h1v1h-1zM26 32h1v1h-1z"/><path fill="#d24287" d="M22 15h4v1h-4zM17 20h1v1h-1zM30 20h1v1h-1zM17 27h1v1h-1zM30 27h1v1h-1zM22 32h4v1h-4z"/><path fill="#bd4e9f" d="M14 16h1v1h-1zM33 16h1v1h-1zM13 20h1v1h-1zM34 20h1v1h-1zM13 27h1v1h-1zM34 27h1v1h-1zM14 31h1v1h-1zM33 31h1v1h-1z"/><path fill="#c64b9c" d="M15 16h1v1h-1zM32 16h1v1h-1zM15 31h1v1h-1zM32 31h1v1h-1z"/><path fill="#d24296" d="M18 16h1v1h-1zM29 16h1v1h-1zM16 20h1v1h-1zM31 20h1v1h-1zM16 27h1v1h-1zM31 27h1v1h-1zM18 31h1v1h-1zM29 31h1v1h-1z"/><path fill="#d2428d" d="M19 16h1v1h-1zM28 16h1v1h-1zM18 17h1v1h-1zM29 17h1v1h-1zM18 30h1v1h-1zM29 30h1v1h-1zM19 31h1v1h-1zM28 31h1v1h-1z"/><path fill="#d24284" d="M20 16h1v1h-1zM27 16h1v1h-1zM18 18h1v1h-1zM29 18h1v1h-1zM18 29h1v1h-1zM29 29h1v1h-1zM20 31h1v1h-1zM27 31h1v1h-1z"/><path fill="#d53f7e" d="M21 16h1v1h-1zM26 16h1v1h-1zM21 31h1v1h-1zM26 31h1v1h-1z"/><path fill="#d53f78" d="M22 16h1v1h-1zM25 16h1v1h-1zM22 31h1v1h-1zM25 31h1v1h-1z"/><path fill="#d53c75" d="M23 16h2v1h-2zM19 18h1v1h-1zM28 18h1v1h-1zM19 29h1v1h-1zM28 29h1v1h-1zM23 31h2v1h-2z"/><path fill="#d53f84" d="M19 17h1v1h-1zM28 17h1v1h-1zM17 21h1v1h-1zM30 21h1v1h-1zM17 26h1v1h-1zM30 26h1v1h-1zM19 30h1v1h-1zM28 30h1v1h-1z"/><path fill="#d53f75" d="M20 17h1v1h-1zM27 17h1v1h-1zM20 30h1v1h-1zM27 30h1v1h-1z"/><path fill="#d53c6c" d="M21 17h1v1h-1zM26 17h1v1h-1zM18 21h1v1h-1zM29 21h1v1h-1zM18 26h1v1h-1zM29 26h1v1h-1zM21 30h1v1h-1zM26 30h1v1h-1z"/><path fill="#d53c66" d="M22 17h1v1h-1zM25 17h1v1h-1zM20 18h1v1h-1zM27 18h1v1h-1zM20 29h1v1h-1zM27 29h1v1h-1zM22 30h1v1h-1zM25 30h1v1h-1z"/><path fill="#d53c63" d="M23 17h2v1h-2zM23 30h2v1h-2z"/><path fill="#d53c5d" d="M21 18h1v1h-1zM26 18h1v1h-1zM21 29h1v1h-1zM26 29h1v1h-1z"/><path fill="#d53f57" d="M22 18h1v1h-1zM25 18h1v1h-1zM19 22h1v1h-1zM28 22h1v1h-1zM19 25h1v1h-1zM28 25h1v1h-1zM22 29h1v1h-1zM25 29h1v1h-1z"/><path fill="#d53f51" d="M23 18h2v1h-2zM20 20h1v1h-1zM27 20h1v1h-1zM20 27h1v1h-1zM27 27h1v1h-1zM23 29h2v1h-2z"/><path fill="#d53f7b" d="M18 19h1v1h-1zM29 19h1v1h-1zM18 28h1v1h-1zM29 28h1v1h-1z"/><path fill="#d53c69" d="M19 19h1v1h-1zM28 19h1v1h-1zM18 22h1v1h-1zM29 22h1v1h-1zM18 23h1v1h-1zM29 23h1v1h-1zM18 24h1v1h-1zM29 24h1v1h-1zM18 25h1v1h-1zM29 25h1v1h-1zM19 28h1v1h-1zM28 28h1v1h-1z"/><path fill="#d53c5a" d="M20 19h1v1h-1zM27 19h1v1h-1zM19 21h1v1h-1zM28 21h1v1h-1zM19 26h1v1h-1zM28 26h1v1h-1zM20 28h1v1h-1zM27 28h1v1h-1z"/><path fill="#d53f4e" d="M21 19h1v1h-1zM26 19h1v1h-1zM21 28h1v1h-1zM26 28h1v1h-1z"/><path fill="#d53f45" d="M22 19h1v1h-1zM25 19h1v1h-1zM22 28h1v1h-1zM25 28h1v1h-1z"/><path fill="#d53f42" d="M23 19h2v1h-2zM21 20h1v1h-1zM26 20h1v1h-1zM20 22h1v1h-1zM27 22h1v1h-1zM20 23h1v1h-1zM27 23h1v1h-1zM20 24h1v1h-1zM27 24h1v1h-1zM20 25h1v1h-1zM27 25h1v1h-1zM21 27h1v1h-1zM26 27h1v1h-1zM23 28h2v1h-2z"/><path fill="#d53c72" d="M18 20h1v1h-1zM29 20h1v1h-1zM18 27h1v1h-1zM29 27h1v1h-1z"/><path fill="#d53c60" d="M19 20h1v1h-1zM28 20h1v1h-1zM19 27h1v1h-1zM28 27h1v1h-1z"/><path fill="#d5423c" d="M22 20h1v1h-1zM25 20h1v1h-1zM21 21h1v1h-1zM26 21h1v1h-1zM21 26h1v1h-1zM26 26h1v1h-1zM22 27h1v1h-1zM25 27h1v1h-1z"/><path fill="#d54539" d="M23 20h2v1h-2zM23 27h2v1h-2z"/><path fill="#d53f48" d="M20 21h1v1h-1zM27 21h1v1h-1zM20 26h1v1h-1zM27 26h1v1h-1z"/><path fill="#d54833" d="M22 21h1v1h-1zM25 21h1v1h-1zM21 23h1v1h-1zM26 23h1v1h-1zM21 24h1v1h-1zM26 24h1v1h-1zM22 26h1v1h-1zM25 26h1v1h-1z"/><path fill="#d54b2d" d="M23 21h2v1h-2zM22 22h4v1h-4zM22 23h4v1h-4zM22 24h4v1h-4zM22 25h4v1h-4zM23 26h2v1h-2z"/><path fill="#d53f81" d="M17 22h1v1h-1zM30 22h1v1h-1zM17 23h1v1h-1zM30 23h1v1h-1zM17 24h1v1h-1zM30 24h1v1h-1zM17 25h1v1h-1zM30 25h1v1h-1z"/><path fill="#d54536" d="M21 22h1v1h-1zM26 22h1v1h-1zM21 25h1v1h-1zM26 25h1v1h-1z"/><path fill="#d53f54" d="M19 23h1v1h-1zM28 23h1v1h-1zM19 24h1v1h-1zM28 24h1v1h-1z"/></g></g>
<rect x="60.7" y="32.5" width="2.2" height="181" fill="url(#ew)"/>
<rect x="240.1" y="32.5" width="2.2" height="181" fill="url(#ew)" transform="rotate(180 241.2 123)"/>
<rect x="60.7" y="32.5" width="181.6" height="2.2" fill="url(#ewv)"/>
<rect x="60.7" y="211.3" width="181.6" height="2.2" fill="url(#ewv2)"/>
<circle cx="60.7" cy="32.5" r="12" fill="url(#cw)"/>
<circle cx="242.3" cy="32.5" r="12" fill="url(#cw)"/>
<circle cx="60.7" cy="213.5" r="12" fill="url(#cw)"/>
<circle cx="242.3" cy="213.5" r="12" fill="url(#cw)"/>
</g>
<g clip-path="url(#cb)"><g filter="url(#fb)"><g transform="translate(318.2 17.92) scale(4.38 4.37)" shape-rendering="crispEdges"><path fill="#513c93" d="M0 0h8v1h-8zM40 0h8v1h-8zM0 1h7v1h-7zM41 1h7v1h-7zM0 2h6v1h-6zM42 2h6v1h-6zM0 3h6v1h-6zM42 3h6v1h-6zM0 4h5v1h-5zM43 4h5v1h-5zM0 5h4v1h-4zM44 5h4v1h-4zM0 6h3v1h-3zM45 6h3v1h-3zM0 7h3v1h-3zM45 7h3v1h-3zM0 8h2v1h-2zM46 8h2v1h-2zM0 9h2v1h-2zM46 9h2v1h-2zM0 10h1v1h-1zM47 10h1v1h-1zM0 37h1v1h-1zM47 37h1v1h-1zM0 38h2v1h-2zM46 38h2v1h-2zM0 39h2v1h-2zM46 39h2v1h-2zM0 40h3v1h-3zM45 40h3v1h-3zM0 41h3v1h-3zM45 41h3v1h-3zM0 42h4v1h-4zM44 42h4v1h-4zM0 43h5v1h-5zM43 43h5v1h-5zM0 44h6v1h-6zM42 44h6v1h-6zM0 45h6v1h-6zM42 45h6v1h-6zM0 46h7v1h-7zM41 46h7v1h-7zM0 47h8v1h-8zM40 47h8v1h-8z"/><path fill="#543c93" d="M8 0h1v1h-1zM39 0h1v1h-1zM7 1h1v1h-1zM40 1h1v1h-1zM6 2h1v1h-1zM41 2h1v1h-1zM4 5h1v1h-1zM43 5h1v1h-1zM3 6h1v1h-1zM44 6h1v1h-1zM2 8h1v1h-1zM45 8h1v1h-1zM1 10h1v1h-1zM46 10h1v1h-1zM0 11h1v1h-1zM47 11h1v1h-1zM0 12h1v1h-1zM47 12h1v1h-1zM0 35h1v1h-1zM47 35h1v1h-1zM0 36h1v1h-1zM47 36h1v1h-1zM1 37h1v1h-1zM46 37h1v1h-1zM2 39h1v1h-1zM45 39h1v1h-1zM3 41h1v1h-1zM44 41h1v1h-1zM4 42h1v1h-1zM43 42h1v1h-1zM6 45h1v1h-1zM41 45h1v1h-1zM7 46h1v1h-1zM40 46h1v1h-1zM8 47h1v1h-1zM39 47h1v1h-1z"/><path fill="#573f93" d="M9 0h1v1h-1zM38 0h1v1h-1zM8 1h1v1h-1zM39 1h1v1h-1zM7 2h1v1h-1zM40 2h1v1h-1zM6 3h1v1h-1zM41 3h1v1h-1zM5 4h1v1h-1zM42 4h1v1h-1zM4 6h1v1h-1zM43 6h1v1h-1zM3 7h1v1h-1zM44 7h1v1h-1zM2 9h1v1h-1zM45 9h1v1h-1zM1 11h1v1h-1zM46 11h1v1h-1zM0 13h1v1h-1zM47 13h1v1h-1zM0 34h1v1h-1zM47 34h1v1h-1zM1 36h1v1h-1zM46 36h1v1h-1zM2 38h1v1h-1zM45 38h1v1h-1zM3 40h1v1h-1zM44 40h1v1h-1zM4 41h1v1h-1zM43 41h1v1h-1zM5 43h1v1h-1zM42 43h1v1h-1zM6 44h1v1h-1zM41 44h1v1h-1zM7 45h1v1h-1zM40 45h1v1h-1zM8 46h1v1h-1zM39 46h1v1h-1zM9 47h1v1h-1zM38 47h1v1h-1z"/><path fill="#5a3f93" d="M10 0h1v1h-1zM37 0h1v1h-1zM5 5h1v1h-1zM42 5h1v1h-1zM3 8h1v1h-1zM44 8h1v1h-1zM2 10h1v1h-1zM45 10h1v1h-1zM0 14h1v1h-1zM47 14h1v1h-1zM0 33h1v1h-1zM47 33h1v1h-1zM2 37h1v1h-1zM45 37h1v1h-1zM3 39h1v1h-1zM44 39h1v1h-1zM5 42h1v1h-1zM42 42h1v1h-1zM10 47h1v1h-1zM37 47h1v1h-1z"/><path fill="#5d4296" d="M11 0h1v1h-1zM36 0h1v1h-1zM10 1h1v1h-1zM37 1h1v1h-1zM6 5h1v1h-1zM41 5h1v1h-1zM5 6h1v1h-1zM42 6h1v1h-1zM4 8h1v1h-1zM43 8h1v1h-1zM3 9h1v1h-1zM44 9h1v1h-1zM2 11h1v1h-1zM45 11h1v1h-1zM1 13h1v1h-1zM46 13h1v1h-1zM0 15h1v1h-1zM47 15h1v1h-1zM0 32h1v1h-1zM47 32h1v1h-1zM1 34h1v1h-1zM46 34h1v1h-1zM2 36h1v1h-1zM45 36h1v1h-1zM3 38h1v1h-1zM44 38h1v1h-1zM4 39h1v1h-1zM43 39h1v1h-1zM5 41h1v1h-1zM42 41h1v1h-1zM6 42h1v1h-1zM41 42h1v1h-1zM10 46h1v1h-1zM37 46h1v1h-1zM11 47h1v1h-1zM36 47h1v1h-1z"/><path fill="#604296" d="M12 0h1v1h-1zM35 0h1v1h-1zM9 2h1v1h-1zM38 2h1v1h-1zM8 3h1v1h-1zM39 3h1v1h-1zM7 4h1v1h-1zM40 4h1v1h-1zM5 7h1v1h-1zM42 7h1v1h-1zM3 10h1v1h-1zM44 10h1v1h-1zM2 12h1v1h-1zM45 12h1v1h-1zM1 14h1v1h-1zM46 14h1v1h-1zM0 16h1v1h-1zM47 16h1v1h-1zM0 17h1v1h-1zM47 17h1v1h-1zM0 30h1v1h-1zM47 30h1v1h-1zM0 31h1v1h-1zM47 31h1v1h-1zM1 33h1v1h-1zM46 33h1v1h-1zM2 35h1v1h-1zM45 35h1v1h-1zM3 37h1v1h-1zM44 37h1v1h-1zM5 40h1v1h-1zM42 40h1v1h-1zM7 43h1v1h-1zM40 43h1v1h-1zM8 44h1v1h-1zM39 44h1v1h-1zM9 45h1v1h-1zM38 45h1v1h-1zM12 47h1v1h-1zM35 47h1v1h-1z"/><path fill="#634596" d="M13 0h1v1h-1zM34 0h1v1h-1zM10 2h1v1h-1zM37 2h1v1h-1zM9 3h1v1h-1zM38 3h1v1h-1zM8 4h1v1h-1zM39 4h1v1h-1zM5 8h1v1h-1zM42 8h1v1h-1zM1 16h1v1h-1zM46 16h1v1h-1zM0 19h1v1h-1zM47 19h1v1h-1zM0 28h1v1h-1zM47 28h1v1h-1zM1 31h1v1h-1zM46 31h1v1h-1zM5 39h1v1h-1zM42 39h1v1h-1zM8 43h1v1h-1zM39 43h1v1h-1zM9 44h1v1h-1zM38 44h1v1h-1zM10 45h1v1h-1zM37 45h1v1h-1zM13 47h1v1h-1zM34 47h1v1h-1z"/><path fill="#664599" d="M14 0h1v1h-1zM33 0h1v1h-1zM12 1h1v1h-1zM35 1h1v1h-1zM11 2h1v1h-1zM36 2h1v1h-1zM10 3h1v1h-1zM37 3h1v1h-1zM9 4h1v1h-1zM38 4h1v1h-1zM8 5h1v1h-1zM39 5h1v1h-1zM7 6h1v1h-1zM40 6h1v1h-1zM6 7h1v1h-1zM41 7h1v1h-1zM5 9h1v1h-1zM42 9h1v1h-1zM4 11h1v1h-1zM43 11h1v1h-1zM3 12h1v1h-1zM44 12h1v1h-1zM2 14h1v1h-1zM45 14h1v1h-1zM2 15h1v1h-1zM45 15h1v1h-1zM1 17h1v1h-1zM46 17h1v1h-1zM0 20h1v1h-1zM47 20h1v1h-1zM0 21h1v1h-1zM47 21h1v1h-1zM0 22h1v1h-1zM47 22h1v1h-1zM0 23h1v1h-1zM47 23h1v1h-1zM0 24h1v1h-1zM47 24h1v1h-1zM0 25h1v1h-1zM47 25h1v1h-1zM0 26h1v1h-1zM47 26h1v1h-1zM0 27h1v1h-1zM47 27h1v1h-1zM1 30h1v1h-1zM46 30h1v1h-1zM2 32h1v1h-1zM45 32h1v1h-1zM2 33h1v1h-1zM45 33h1v1h-1zM3 35h1v1h-1zM44 35h1v1h-1zM4 36h1v1h-1zM43 36h1v1h-1zM5 38h1v1h-1zM42 38h1v1h-1zM6 40h1v1h-1zM41 40h1v1h-1zM7 41h1v1h-1zM40 41h1v1h-1zM8 42h1v1h-1zM39 42h1v1h-1zM9 43h1v1h-1zM38 43h1v1h-1zM10 44h1v1h-1zM37 44h1v1h-1zM11 45h1v1h-1zM36 45h1v1h-1zM12 46h1v1h-1zM35 46h1v1h-1zM14 47h1v1h-1zM33 47h1v1h-1z"/><path fill="#694599" d="M15 0h1v1h-1zM32 0h1v1h-1zM13 1h1v1h-1zM34 1h1v1h-1zM6 8h1v1h-1zM41 8h1v1h-1zM3 13h1v1h-1zM44 13h1v1h-1zM1 18h1v1h-1zM46 18h1v1h-1zM1 29h1v1h-1zM46 29h1v1h-1zM3 34h1v1h-1zM44 34h1v1h-1zM6 39h1v1h-1zM41 39h1v1h-1zM13 46h1v1h-1zM34 46h1v1h-1zM15 47h1v1h-1zM32 47h1v1h-1z"/><path fill="#694899" d="M16 0h1v1h-1zM31 0h1v1h-1zM12 2h1v1h-1zM35 2h1v1h-1zM7 7h1v1h-1zM40 7h1v1h-1zM5 10h1v1h-1zM42 10h1v1h-1zM4 12h1v1h-1zM43 12h1v1h-1zM3 14h1v1h-1zM44 14h1v1h-1zM2 16h1v1h-1zM45 16h1v1h-1zM1 19h1v1h-1zM46 19h1v1h-1zM1 28h1v1h-1zM46 28h1v1h-1zM2 31h1v1h-1zM45 31h1v1h-1zM3 33h1v1h-1zM44 33h1v1h-1zM4 35h1v1h-1zM43 35h1v1h-1zM5 37h1v1h-1zM42 37h1v1h-1zM7 40h1v1h-1zM40 40h1v1h-1zM12 45h1v1h-1zM35 45h1v1h-1zM16 47h1v1h-1zM31 47h1v1h-1z"/><path fill="#6c4899" d="M17 0h1v1h-1zM30 0h1v1h-1zM14 1h2v1h-2zM32 1h2v1h-2zM13 2h1v1h-1zM34 2h1v1h-1zM11 3h1v1h-1zM36 3h1v1h-1zM10 4h1v1h-1zM37 4h1v1h-1zM9 5h1v1h-1zM38 5h1v1h-1zM8 6h1v1h-1zM39 6h1v1h-1zM7 8h1v1h-1zM40 8h1v1h-1zM6 9h1v1h-1zM41 9h1v1h-1zM5 11h1v1h-1zM42 11h1v1h-1zM4 13h1v1h-1zM43 13h1v1h-1zM3 15h1v1h-1zM44 15h1v1h-1zM2 17h1v1h-1zM45 17h1v1h-1zM1 20h1v1h-1zM46 20h1v1h-1zM1 21h1v1h-1zM46 21h1v1h-1zM1 22h1v1h-1zM46 22h1v1h-1zM1 23h1v1h-1zM46 23h1v1h-1zM1 24h1v1h-1zM46 24h1v1h-1zM1 25h1v1h-1zM46 25h1v1h-1zM1 26h1v1h-1zM46 26h1v1h-1zM1 27h1v1h-1zM46 27h1v1h-1zM2 30h1v1h-1zM45 30h1v1h-1zM3 32h1v1h-1zM44 32h1v1h-1zM4 34h1v1h-1zM43 34h1v1h-1zM5 36h1v1h-1zM42 36h1v1h-1zM6 38h1v1h-1zM41 38h1v1h-1zM7 39h1v1h-1zM40 39h1v1h-1zM8 41h1v1h-1zM39 41h1v1h-1zM9 42h1v1h-1zM38 42h1v1h-1zM10 43h1v1h-1zM37 43h1v1h-1zM11 44h1v1h-1zM36 44h1v1h-1zM13 45h1v1h-1zM34 45h1v1h-1zM14 46h2v1h-2zM32 46h2v1h-2zM17 47h1v1h-1zM30 47h1v1h-1z"/><path fill="#6f4899" d="M18 0h1v1h-1zM29 0h1v1h-1zM12 3h1v1h-1zM35 3h1v1h-1zM8 7h1v1h-1zM39 7h1v1h-1zM2 18h1v1h-1zM45 18h1v1h-1zM2 29h1v1h-1zM45 29h1v1h-1zM8 40h1v1h-1zM39 40h1v1h-1zM12 44h1v1h-1zM35 44h1v1h-1zM18 47h1v1h-1zM29 47h1v1h-1z"/><path fill="#6f489c" d="M19 0h1v1h-1zM28 0h1v1h-1zM16 1h1v1h-1zM31 1h1v1h-1zM14 2h1v1h-1zM33 2h1v1h-1zM11 4h1v1h-1zM36 4h1v1h-1zM10 5h1v1h-1zM37 5h1v1h-1zM9 6h1v1h-1zM38 6h1v1h-1zM6 10h1v1h-1zM41 10h1v1h-1zM5 12h1v1h-1zM42 12h1v1h-1zM4 14h1v1h-1zM43 14h1v1h-1zM3 16h1v1h-1zM44 16h1v1h-1zM2 19h1v1h-1zM45 19h1v1h-1zM2 28h1v1h-1zM45 28h1v1h-1zM3 31h1v1h-1zM44 31h1v1h-1zM4 33h1v1h-1zM43 33h1v1h-1zM5 35h1v1h-1zM42 35h1v1h-1zM6 37h1v1h-1zM41 37h1v1h-1zM9 41h1v1h-1zM38 41h1v1h-1zM10 42h1v1h-1zM37 42h1v1h-1zM11 43h1v1h-1zM36 43h1v1h-1zM14 45h1v1h-1zM33 45h1v1h-1zM16 46h1v1h-1zM31 46h1v1h-1zM19 47h1v1h-1zM28 47h1v1h-1z"/><path fill="#6f4b9c" d="M20 0h1v1h-1zM27 0h1v1h-1zM7 9h1v1h-1zM40 9h1v1h-1zM2 20h1v1h-1zM45 20h1v1h-1zM2 27h1v1h-1zM45 27h1v1h-1zM7 38h1v1h-1zM40 38h1v1h-1zM20 47h1v1h-1zM27 47h1v1h-1z"/><path fill="#724b9c" d="M21 0h6v1h-6zM17 1h2v1h-2zM29 1h2v1h-2zM15 2h1v1h-1zM32 2h1v1h-1zM13 3h1v1h-1zM34 3h1v1h-1zM12 4h1v1h-1zM35 4h1v1h-1zM11 5h1v1h-1zM36 5h1v1h-1zM10 6h1v1h-1zM37 6h1v1h-1zM9 7h1v1h-1zM38 7h1v1h-1zM8 8h1v1h-1zM39 8h1v1h-1zM6 11h1v1h-1zM41 11h1v1h-1zM5 13h1v1h-1zM42 13h1v1h-1zM4 15h1v1h-1zM43 15h1v1h-1zM3 17h1v1h-1zM44 17h1v1h-1zM3 18h1v1h-1zM44 18h1v1h-1zM2 21h1v1h-1zM45 21h1v1h-1zM2 22h1v1h-1zM45 22h1v1h-1zM2 23h1v1h-1zM45 23h1v1h-1zM2 24h1v1h-1zM45 24h1v1h-1zM2 25h1v1h-1zM45 25h1v1h-1zM2 26h1v1h-1zM45 26h1v1h-1zM3 29h1v1h-1zM44 29h1v1h-1zM3 30h1v1h-1zM44 30h1v1h-1zM4 32h1v1h-1zM43 32h1v1h-1zM5 34h1v1h-1zM42 34h1v1h-1zM6 36h1v1h-1zM41 36h1v1h-1zM8 39h1v1h-1zM39 39h1v1h-1zM9 40h1v1h-1zM38 40h1v1h-1zM10 41h1v1h-1zM37 41h1v1h-1zM11 42h1v1h-1zM36 42h1v1h-1zM12 43h1v1h-1zM35 43h1v1h-1zM13 44h1v1h-1zM34 44h1v1h-1zM15 45h1v1h-1zM32 45h1v1h-1zM17 46h2v1h-2zM29 46h2v1h-2zM21 47h6v1h-6z"/><path fill="#5a3f96" d="M9 1h1v1h-1zM38 1h1v1h-1zM8 2h1v1h-1zM39 2h1v1h-1zM7 3h1v1h-1zM40 3h1v1h-1zM6 4h1v1h-1zM41 4h1v1h-1zM4 7h1v1h-1zM43 7h1v1h-1zM1 12h1v1h-1zM46 12h1v1h-1zM1 35h1v1h-1zM46 35h1v1h-1zM4 40h1v1h-1zM43 40h1v1h-1zM6 43h1v1h-1zM41 43h1v1h-1zM7 44h1v1h-1zM40 44h1v1h-1zM8 45h1v1h-1zM39 45h1v1h-1zM9 46h1v1h-1zM38 46h1v1h-1z"/><path fill="#634296" d="M11 1h1v1h-1zM36 1h1v1h-1zM7 5h1v1h-1zM40 5h1v1h-1zM6 6h1v1h-1zM41 6h1v1h-1zM4 9h1v1h-1zM43 9h1v1h-1zM3 11h1v1h-1zM44 11h1v1h-1zM2 13h1v1h-1zM45 13h1v1h-1zM1 15h1v1h-1zM46 15h1v1h-1zM0 18h1v1h-1zM47 18h1v1h-1zM0 29h1v1h-1zM47 29h1v1h-1zM1 32h1v1h-1zM46 32h1v1h-1zM2 34h1v1h-1zM45 34h1v1h-1zM3 36h1v1h-1zM44 36h1v1h-1zM4 38h1v1h-1zM43 38h1v1h-1zM6 41h1v1h-1zM41 41h1v1h-1zM7 42h1v1h-1zM40 42h1v1h-1zM11 46h1v1h-1zM36 46h1v1h-1z"/><path fill="#754b9c" d="M19 1h2v1h-2zM27 1h2v1h-2zM16 2h2v1h-2zM30 2h2v1h-2zM14 3h1v1h-1zM33 3h1v1h-1zM13 4h1v1h-1zM34 4h1v1h-1zM9 8h1v1h-1zM38 8h1v1h-1zM8 9h1v1h-1zM39 9h1v1h-1zM7 10h1v1h-1zM40 10h1v1h-1zM6 12h1v1h-1zM41 12h1v1h-1zM5 14h1v1h-1zM42 14h1v1h-1zM4 16h1v1h-1zM43 16h1v1h-1zM3 19h1v1h-1zM44 19h1v1h-1zM3 20h1v1h-1zM44 20h1v1h-1zM3 27h1v1h-1zM44 27h1v1h-1zM3 28h1v1h-1zM44 28h1v1h-1zM4 31h1v1h-1zM43 31h1v1h-1zM5 33h1v1h-1zM42 33h1v1h-1zM6 35h1v1h-1zM41 35h1v1h-1zM7 37h1v1h-1zM40 37h1v1h-1zM8 38h1v1h-1zM39 38h1v1h-1zM9 39h1v1h-1zM38 39h1v1h-1zM13 43h1v1h-1zM34 43h1v1h-1zM14 44h1v1h-1zM33 44h1v1h-1zM16 45h2v1h-2zM30 45h2v1h-2zM19 46h2v1h-2zM27 46h2v1h-2z"/><path fill="#784b9c" d="M21 1h1v1h-1zM26 1h1v1h-1zM7 11h1v1h-1zM40 11h1v1h-1zM7 36h1v1h-1zM40 36h1v1h-1zM21 46h1v1h-1zM26 46h1v1h-1z"/><path fill="#784e9c" d="M22 1h4v1h-4zM18 2h1v1h-1zM29 2h1v1h-1zM15 3h1v1h-1zM32 3h1v1h-1zM12 5h1v1h-1zM35 5h1v1h-1zM11 6h1v1h-1zM36 6h1v1h-1zM10 7h1v1h-1zM37 7h1v1h-1zM6 13h1v1h-1zM41 13h1v1h-1zM5 15h1v1h-1zM42 15h1v1h-1zM4 17h1v1h-1zM43 17h1v1h-1zM3 21h1v1h-1zM44 21h1v1h-1zM3 22h1v1h-1zM44 22h1v1h-1zM3 23h1v1h-1zM44 23h1v1h-1zM3 24h1v1h-1zM44 24h1v1h-1zM3 25h1v1h-1zM44 25h1v1h-1zM3 26h1v1h-1zM44 26h1v1h-1zM4 30h1v1h-1zM43 30h1v1h-1zM5 32h1v1h-1zM42 32h1v1h-1zM6 34h1v1h-1zM41 34h1v1h-1zM10 40h1v1h-1zM37 40h1v1h-1zM11 41h1v1h-1zM36 41h1v1h-1zM12 42h1v1h-1zM35 42h1v1h-1zM15 44h1v1h-1zM32 44h1v1h-1zM18 45h1v1h-1zM29 45h1v1h-1zM22 46h4v1h-4z"/><path fill="#7b4e9f" d="M19 2h10v1h-10zM17 3h1v1h-1zM30 3h1v1h-1zM15 4h1v1h-1zM32 4h1v1h-1zM13 5h1v1h-1zM34 5h1v1h-1zM12 6h1v1h-1zM35 6h1v1h-1zM11 7h1v1h-1zM36 7h1v1h-1zM10 8h1v1h-1zM37 8h1v1h-1zM9 9h1v1h-1zM38 9h1v1h-1zM8 11h1v1h-1zM39 11h1v1h-1zM7 12h1v1h-1zM40 12h1v1h-1zM7 13h1v1h-1zM40 13h1v1h-1zM6 14h1v1h-1zM41 14h1v1h-1zM6 15h1v1h-1zM41 15h1v1h-1zM5 16h1v1h-1zM42 16h1v1h-1zM5 17h1v1h-1zM42 17h1v1h-1zM4 19h1v1h-1zM43 19h1v1h-1zM4 20h1v1h-1zM43 20h1v1h-1zM4 27h1v1h-1zM43 27h1v1h-1zM4 28h1v1h-1zM43 28h1v1h-1zM5 30h1v1h-1zM42 30h1v1h-1zM5 31h1v1h-1zM42 31h1v1h-1zM6 32h1v1h-1zM41 32h1v1h-1zM6 33h1v1h-1zM41 33h1v1h-1zM7 34h1v1h-1zM40 34h1v1h-1zM7 35h1v1h-1zM40 35h1v1h-1zM8 36h1v1h-1zM39 36h1v1h-1zM9 38h1v1h-1zM38 38h1v1h-1zM10 39h1v1h-1zM37 39h1v1h-1zM11 40h1v1h-1zM36 40h1v1h-1zM12 41h1v1h-1zM35 41h1v1h-1zM13 42h1v1h-1zM34 42h1v1h-1zM15 43h1v1h-1zM32 43h1v1h-1zM17 44h1v1h-1zM30 44h1v1h-1zM19 45h10v1h-10z"/><path fill="#784e9f" d="M16 3h1v1h-1zM31 3h1v1h-1zM14 4h1v1h-1zM33 4h1v1h-1zM8 10h1v1h-1zM39 10h1v1h-1zM4 18h1v1h-1zM43 18h1v1h-1zM4 29h1v1h-1zM43 29h1v1h-1zM8 37h1v1h-1zM39 37h1v1h-1zM14 43h1v1h-1zM33 43h1v1h-1zM16 44h1v1h-1zM31 44h1v1h-1z"/><path fill="#7e4e9f" d="M18 3h2v1h-2zM28 3h2v1h-2zM16 4h1v1h-1zM31 4h1v1h-1zM14 5h1v1h-1zM33 5h1v1h-1zM13 6h1v1h-1zM34 6h1v1h-1zM12 7h1v1h-1zM35 7h1v1h-1zM11 8h1v1h-1zM36 8h1v1h-1zM10 9h1v1h-1zM37 9h1v1h-1zM9 10h1v1h-1zM38 10h1v1h-1zM8 12h1v1h-1zM39 12h1v1h-1zM7 14h1v1h-1zM40 14h1v1h-1zM6 16h1v1h-1zM41 16h1v1h-1zM5 18h1v1h-1zM42 18h1v1h-1zM5 19h1v1h-1zM42 19h1v1h-1zM4 21h1v1h-1zM43 21h1v1h-1zM4 22h1v1h-1zM43 22h1v1h-1zM4 23h1v1h-1zM43 23h1v1h-1zM4 24h1v1h-1zM43 24h1v1h-1zM4 25h1v1h-1zM43 25h1v1h-1zM4 26h1v1h-1zM43 26h1v1h-1zM5 28h1v1h-1zM42 28h1v1h-1zM5 29h1v1h-1zM42 29h1v1h-1zM6 31h1v1h-1zM41 31h1v1h-1zM7 33h1v1h-1zM40 33h1v1h-1zM8 35h1v1h-1zM39 35h1v1h-1zM9 37h1v1h-1zM38 37h1v1h-1zM10 38h1v1h-1zM37 38h1v1h-1zM11 39h1v1h-1zM36 39h1v1h-1zM12 40h1v1h-1zM35 40h1v1h-1zM13 41h1v1h-1zM34 41h1v1h-1zM14 42h1v1h-1zM33 42h1v1h-1zM16 43h1v1h-1zM31 43h1v1h-1zM18 44h2v1h-2zM28 44h2v1h-2z"/><path fill="#814e9f" d="M20 3h8v1h-8zM17 4h2v1h-2zM29 4h2v1h-2zM15 5h2v1h-2zM31 5h2v1h-2zM14 6h1v1h-1zM33 6h1v1h-1zM13 7h1v1h-1zM34 7h1v1h-1zM12 8h1v1h-1zM35 8h1v1h-1zM11 9h1v1h-1zM36 9h1v1h-1zM10 10h1v1h-1zM37 10h1v1h-1zM9 11h1v1h-1zM38 11h1v1h-1zM8 13h1v1h-1zM39 13h1v1h-1zM7 15h1v1h-1zM40 15h1v1h-1zM6 17h1v1h-1zM41 17h1v1h-1zM5 20h1v1h-1zM42 20h1v1h-1zM5 21h1v1h-1zM42 21h1v1h-1zM5 22h1v1h-1zM42 22h1v1h-1zM5 25h1v1h-1zM42 25h1v1h-1zM5 26h1v1h-1zM42 26h1v1h-1zM5 27h1v1h-1zM42 27h1v1h-1zM6 30h1v1h-1zM41 30h1v1h-1zM7 32h1v1h-1zM40 32h1v1h-1zM8 34h1v1h-1zM39 34h1v1h-1zM9 36h1v1h-1zM38 36h1v1h-1zM10 37h1v1h-1zM37 37h1v1h-1zM11 38h1v1h-1zM36 38h1v1h-1zM12 39h1v1h-1zM35 39h1v1h-1zM13 40h1v1h-1zM34 40h1v1h-1zM14 41h1v1h-1zM33 41h1v1h-1zM15 42h2v1h-2zM31 42h2v1h-2zM17 43h2v1h-2zM29 43h2v1h-2zM20 44h8v1h-8z"/><path fill="#844e9f" d="M19 4h3v1h-3zM26 4h3v1h-3zM17 5h1v1h-1zM30 5h1v1h-1zM15 6h1v1h-1zM32 6h1v1h-1zM14 7h1v1h-1zM33 7h1v1h-1zM11 10h1v1h-1zM36 10h1v1h-1zM10 11h1v1h-1zM37 11h1v1h-1zM9 12h1v1h-1zM38 12h1v1h-1zM9 13h1v1h-1zM38 13h1v1h-1zM8 14h1v1h-1zM39 14h1v1h-1zM7 16h1v1h-1zM40 16h1v1h-1zM6 18h1v1h-1zM41 18h1v1h-1zM6 19h1v1h-1zM41 19h1v1h-1zM5 23h1v1h-1zM42 23h1v1h-1zM5 24h1v1h-1zM42 24h1v1h-1zM6 28h1v1h-1zM41 28h1v1h-1zM6 29h1v1h-1zM41 29h1v1h-1zM7 31h1v1h-1zM40 31h1v1h-1zM8 33h1v1h-1zM39 33h1v1h-1zM9 34h1v1h-1zM38 34h1v1h-1zM9 35h1v1h-1zM38 35h1v1h-1zM10 36h1v1h-1zM37 36h1v1h-1zM11 37h1v1h-1zM36 37h1v1h-1zM14 40h1v1h-1zM33 40h1v1h-1zM15 41h1v1h-1zM32 41h1v1h-1zM17 42h1v1h-1zM30 42h1v1h-1zM19 43h3v1h-3zM26 43h3v1h-3z"/><path fill="#874e9f" d="M22 4h1v1h-1zM25 4h1v1h-1zM13 8h1v1h-1zM34 8h1v1h-1zM12 9h1v1h-1zM35 9h1v1h-1zM8 15h1v1h-1zM39 15h1v1h-1zM7 17h1v1h-1zM40 17h1v1h-1zM6 20h1v1h-1zM41 20h1v1h-1zM6 27h1v1h-1zM41 27h1v1h-1zM7 30h1v1h-1zM40 30h1v1h-1zM8 32h1v1h-1zM39 32h1v1h-1zM12 38h1v1h-1zM35 38h1v1h-1zM13 39h1v1h-1zM34 39h1v1h-1zM22 43h1v1h-1zM25 43h1v1h-1z"/><path fill="#87519f" d="M23 4h2v1h-2zM18 5h2v1h-2zM28 5h2v1h-2zM16 6h1v1h-1zM31 6h1v1h-1zM15 7h1v1h-1zM32 7h1v1h-1zM11 11h1v1h-1zM36 11h1v1h-1zM10 12h1v1h-1zM37 12h1v1h-1zM9 14h1v1h-1zM38 14h1v1h-1zM8 16h1v1h-1zM39 16h1v1h-1zM7 18h1v1h-1zM40 18h1v1h-1zM6 21h1v1h-1zM41 21h1v1h-1zM6 22h1v1h-1zM41 22h1v1h-1zM6 23h1v1h-1zM41 23h1v1h-1zM6 24h1v1h-1zM41 24h1v1h-1zM6 25h1v1h-1zM41 25h1v1h-1zM6 26h1v1h-1zM41 26h1v1h-1zM7 29h1v1h-1zM40 29h1v1h-1zM8 31h1v1h-1zM39 31h1v1h-1zM9 33h1v1h-1zM38 33h1v1h-1zM10 35h1v1h-1zM37 35h1v1h-1zM11 36h1v1h-1zM36 36h1v1h-1zM15 40h1v1h-1zM32 40h1v1h-1zM16 41h1v1h-1zM31 41h1v1h-1zM18 42h2v1h-2zM28 42h2v1h-2zM23 43h2v1h-2z"/><path fill="#8a519f" d="M20 5h8v1h-8zM17 6h2v1h-2zM29 6h2v1h-2zM16 7h1v1h-1zM31 7h1v1h-1zM14 8h1v1h-1zM33 8h1v1h-1zM13 9h1v1h-1zM34 9h1v1h-1zM12 10h1v1h-1zM35 10h1v1h-1zM10 13h1v1h-1zM37 13h1v1h-1zM9 15h1v1h-1zM38 15h1v1h-1zM8 17h1v1h-1zM39 17h1v1h-1zM7 19h1v1h-1zM40 19h1v1h-1zM7 20h1v1h-1zM40 20h1v1h-1zM7 27h1v1h-1zM40 27h1v1h-1zM7 28h1v1h-1zM40 28h1v1h-1zM8 30h1v1h-1zM39 30h1v1h-1zM9 32h1v1h-1zM38 32h1v1h-1zM10 34h1v1h-1zM37 34h1v1h-1zM12 37h1v1h-1zM35 37h1v1h-1zM13 38h1v1h-1zM34 38h1v1h-1zM14 39h1v1h-1zM33 39h1v1h-1zM16 40h1v1h-1zM31 40h1v1h-1zM17 41h2v1h-2zM29 41h2v1h-2zM20 42h8v1h-8z"/><path fill="#8d519f" d="M19 6h2v1h-2zM27 6h2v1h-2zM17 7h1v1h-1zM30 7h1v1h-1zM15 8h1v1h-1zM32 8h1v1h-1zM14 9h1v1h-1zM33 9h1v1h-1zM13 10h1v1h-1zM34 10h1v1h-1zM12 11h1v1h-1zM35 11h1v1h-1zM11 12h1v1h-1zM36 12h1v1h-1zM10 14h1v1h-1zM37 14h1v1h-1zM9 16h1v1h-1zM38 16h1v1h-1zM8 18h1v1h-1zM39 18h1v1h-1zM7 21h1v1h-1zM40 21h1v1h-1zM7 22h1v1h-1zM40 22h1v1h-1zM7 23h1v1h-1zM40 23h1v1h-1zM7 24h1v1h-1zM40 24h1v1h-1zM7 25h1v1h-1zM40 25h1v1h-1zM7 26h1v1h-1zM40 26h1v1h-1zM8 29h1v1h-1zM39 29h1v1h-1zM9 31h1v1h-1zM38 31h1v1h-1zM10 33h1v1h-1zM37 33h1v1h-1zM11 35h1v1h-1zM36 35h1v1h-1zM12 36h1v1h-1zM35 36h1v1h-1zM13 37h1v1h-1zM34 37h1v1h-1zM14 38h1v1h-1zM33 38h1v1h-1zM15 39h1v1h-1zM32 39h1v1h-1zM17 40h1v1h-1zM30 40h1v1h-1zM19 41h2v1h-2zM27 41h2v1h-2z"/><path fill="#90519f" d="M21 6h6v1h-6zM18 7h1v1h-1zM29 7h1v1h-1zM16 8h1v1h-1zM31 8h1v1h-1zM15 9h1v1h-1zM32 9h1v1h-1zM13 11h1v1h-1zM34 11h1v1h-1zM12 12h1v1h-1zM35 12h1v1h-1zM11 13h1v1h-1zM36 13h1v1h-1zM10 15h1v1h-1zM37 15h1v1h-1zM9 17h1v1h-1zM38 17h1v1h-1zM8 19h1v1h-1zM39 19h1v1h-1zM8 20h1v1h-1zM39 20h1v1h-1zM8 27h1v1h-1zM39 27h1v1h-1zM8 28h1v1h-1zM39 28h1v1h-1zM9 30h1v1h-1zM38 30h1v1h-1zM10 32h1v1h-1zM37 32h1v1h-1zM11 34h1v1h-1zM36 34h1v1h-1zM12 35h1v1h-1zM35 35h1v1h-1zM13 36h1v1h-1zM34 36h1v1h-1zM15 38h1v1h-1zM32 38h1v1h-1zM16 39h1v1h-1zM31 39h1v1h-1zM18 40h1v1h-1zM29 40h1v1h-1zM21 41h6v1h-6z"/><path fill="#93519f" d="M19 7h2v1h-2zM27 7h2v1h-2zM17 8h1v1h-1zM30 8h1v1h-1zM16 9h1v1h-1zM31 9h1v1h-1zM14 10h1v1h-1zM33 10h1v1h-1zM12 13h1v1h-1zM35 13h1v1h-1zM11 14h1v1h-1zM36 14h1v1h-1zM10 16h1v1h-1zM37 16h1v1h-1zM9 18h1v1h-1zM38 18h1v1h-1zM8 21h1v1h-1zM39 21h1v1h-1zM8 22h1v1h-1zM39 22h1v1h-1zM8 23h1v1h-1zM39 23h1v1h-1zM8 24h1v1h-1zM39 24h1v1h-1zM8 25h1v1h-1zM39 25h1v1h-1zM8 26h1v1h-1zM39 26h1v1h-1zM9 29h1v1h-1zM38 29h1v1h-1zM10 31h1v1h-1zM37 31h1v1h-1zM11 33h1v1h-1zM36 33h1v1h-1zM12 34h1v1h-1zM35 34h1v1h-1zM14 37h1v1h-1zM33 37h1v1h-1zM16 38h1v1h-1zM31 38h1v1h-1zM17 39h1v1h-1zM30 39h1v1h-1zM19 40h2v1h-2zM27 40h2v1h-2z"/><path fill="#96519f" d="M21 7h6v1h-6zM18 8h2v1h-2zM28 8h2v1h-2zM17 9h1v1h-1zM30 9h1v1h-1zM15 10h1v1h-1zM32 10h1v1h-1zM14 11h1v1h-1zM33 11h1v1h-1zM13 12h1v1h-1zM34 12h1v1h-1zM12 14h1v1h-1zM35 14h1v1h-1zM11 15h1v1h-1zM36 15h1v1h-1zM10 17h1v1h-1zM37 17h1v1h-1zM9 19h1v1h-1zM38 19h1v1h-1zM9 20h1v1h-1zM38 20h1v1h-1zM9 27h1v1h-1zM38 27h1v1h-1zM9 28h1v1h-1zM38 28h1v1h-1zM10 30h1v1h-1zM37 30h1v1h-1zM11 32h1v1h-1zM36 32h1v1h-1zM12 33h1v1h-1zM35 33h1v1h-1zM13 35h1v1h-1zM34 35h1v1h-1zM14 36h1v1h-1zM33 36h1v1h-1zM15 37h1v1h-1zM32 37h1v1h-1zM17 38h1v1h-1zM30 38h1v1h-1zM18 39h2v1h-2zM28 39h2v1h-2zM21 40h6v1h-6z"/><path fill="#99549f" d="M20 8h2v1h-2zM26 8h2v1h-2zM18 9h1v1h-1zM29 9h1v1h-1zM16 10h1v1h-1zM31 10h1v1h-1zM15 11h1v1h-1zM32 11h1v1h-1zM14 12h1v1h-1zM33 12h1v1h-1zM13 13h1v1h-1zM34 13h1v1h-1zM11 16h1v1h-1zM36 16h1v1h-1zM10 18h1v1h-1zM37 18h1v1h-1zM9 21h1v1h-1zM38 21h1v1h-1zM9 22h1v1h-1zM38 22h1v1h-1zM9 23h1v1h-1zM38 23h1v1h-1zM9 24h1v1h-1zM38 24h1v1h-1zM9 25h1v1h-1zM38 25h1v1h-1zM9 26h1v1h-1zM38 26h1v1h-1zM10 29h1v1h-1zM37 29h1v1h-1zM11 31h1v1h-1zM36 31h1v1h-1zM13 34h1v1h-1zM34 34h1v1h-1zM14 35h1v1h-1zM33 35h1v1h-1zM15 36h1v1h-1zM32 36h1v1h-1zM16 37h1v1h-1zM31 37h1v1h-1zM18 38h1v1h-1zM29 38h1v1h-1zM20 39h2v1h-2zM26 39h2v1h-2z"/><path fill="#9c549f" d="M22 8h4v1h-4zM19 9h1v1h-1zM28 9h1v1h-1zM17 10h1v1h-1zM30 10h1v1h-1zM13 14h1v1h-1zM34 14h1v1h-1zM12 15h1v1h-1zM35 15h1v1h-1zM11 17h1v1h-1zM36 17h1v1h-1zM10 19h1v1h-1zM37 19h1v1h-1zM10 20h1v1h-1zM37 20h1v1h-1zM10 27h1v1h-1zM37 27h1v1h-1zM10 28h1v1h-1zM37 28h1v1h-1zM11 30h1v1h-1zM36 30h1v1h-1zM12 32h1v1h-1zM35 32h1v1h-1zM13 33h1v1h-1zM34 33h1v1h-1zM17 37h1v1h-1zM30 37h1v1h-1zM19 38h1v1h-1zM28 38h1v1h-1zM22 39h4v1h-4z"/><path fill="#9f549f" d="M20 9h2v1h-2zM26 9h2v1h-2zM18 10h1v1h-1zM29 10h1v1h-1zM16 11h1v1h-1zM31 11h1v1h-1zM15 12h1v1h-1zM32 12h1v1h-1zM14 13h1v1h-1zM33 13h1v1h-1zM13 15h1v1h-1zM34 15h1v1h-1zM12 16h1v1h-1zM35 16h1v1h-1zM11 18h1v1h-1zM36 18h1v1h-1zM11 19h1v1h-1zM36 19h1v1h-1zM10 21h1v1h-1zM37 21h1v1h-1zM10 22h1v1h-1zM37 22h1v1h-1zM10 23h1v1h-1zM37 23h1v1h-1zM10 24h1v1h-1zM37 24h1v1h-1zM10 25h1v1h-1zM37 25h1v1h-1zM10 26h1v1h-1zM37 26h1v1h-1zM11 28h1v1h-1zM36 28h1v1h-1zM11 29h1v1h-1zM36 29h1v1h-1zM12 31h1v1h-1zM35 31h1v1h-1zM13 32h1v1h-1zM34 32h1v1h-1zM14 34h1v1h-1zM33 34h1v1h-1zM15 35h1v1h-1zM32 35h1v1h-1zM16 36h1v1h-1zM31 36h1v1h-1zM18 37h1v1h-1zM29 37h1v1h-1zM20 38h2v1h-2zM26 38h2v1h-2z"/><path fill="#a2549f" d="M22 9h4v1h-4zM19 10h1v1h-1zM28 10h1v1h-1zM17 11h1v1h-1zM30 11h1v1h-1zM16 12h1v1h-1zM31 12h1v1h-1zM15 13h1v1h-1zM32 13h1v1h-1zM14 14h1v1h-1zM33 14h1v1h-1zM13 16h1v1h-1zM34 16h1v1h-1zM12 17h1v1h-1zM35 17h1v1h-1zM12 18h1v1h-1zM35 18h1v1h-1zM11 20h1v1h-1zM36 20h1v1h-1zM11 27h1v1h-1zM36 27h1v1h-1zM12 29h1v1h-1zM35 29h1v1h-1zM12 30h1v1h-1zM35 30h1v1h-1zM13 31h1v1h-1zM34 31h1v1h-1zM14 33h1v1h-1zM33 33h1v1h-1zM15 34h1v1h-1zM32 34h1v1h-1zM16 35h1v1h-1zM31 35h1v1h-1zM17 36h1v1h-1zM30 36h1v1h-1zM19 37h1v1h-1zM28 37h1v1h-1zM22 38h4v1h-4z"/><path fill="#634599" d="M4 10h1v1h-1zM43 10h1v1h-1zM4 37h1v1h-1zM43 37h1v1h-1z"/><path fill="#a5549f" d="M20 10h3v1h-3zM25 10h3v1h-3zM18 11h1v1h-1zM29 11h1v1h-1zM17 12h1v1h-1zM30 12h1v1h-1zM16 13h1v1h-1zM31 13h1v1h-1zM15 14h1v1h-1zM32 14h1v1h-1zM14 15h1v1h-1zM33 15h1v1h-1zM13 17h1v1h-1zM34 17h1v1h-1zM12 19h1v1h-1zM35 19h1v1h-1zM11 21h1v1h-1zM36 21h1v1h-1zM11 22h1v1h-1zM36 22h1v1h-1zM11 23h1v1h-1zM36 23h1v1h-1zM11 24h1v1h-1zM36 24h1v1h-1zM11 25h1v1h-1zM36 25h1v1h-1zM11 26h1v1h-1zM36 26h1v1h-1zM12 28h1v1h-1zM35 28h1v1h-1zM13 30h1v1h-1zM34 30h1v1h-1zM14 32h1v1h-1zM33 32h1v1h-1zM15 33h1v1h-1zM32 33h1v1h-1zM16 34h1v1h-1zM31 34h1v1h-1zM17 35h1v1h-1zM30 35h1v1h-1zM18 36h1v1h-1zM29 36h1v1h-1zM20 37h3v1h-3zM25 37h3v1h-3z"/><path fill="#a8549f" d="M23 10h2v1h-2zM19 11h1v1h-1zM28 11h1v1h-1zM19 36h1v1h-1zM28 36h1v1h-1zM23 37h2v1h-2z"/><path fill="#a8519f" d="M20 11h1v1h-1zM27 11h1v1h-1zM18 12h1v1h-1zM29 12h1v1h-1zM14 16h1v1h-1zM33 16h1v1h-1zM13 18h1v1h-1zM34 18h1v1h-1zM12 20h1v1h-1zM35 20h1v1h-1zM12 27h1v1h-1zM35 27h1v1h-1zM13 29h1v1h-1zM34 29h1v1h-1zM14 31h1v1h-1zM33 31h1v1h-1zM18 35h1v1h-1zM29 35h1v1h-1zM20 36h1v1h-1zM27 36h1v1h-1z"/><path fill="#ab519f" d="M21 11h6v1h-6zM19 12h1v1h-1zM28 12h1v1h-1zM17 13h1v1h-1zM30 13h1v1h-1zM16 14h1v1h-1zM31 14h1v1h-1zM15 15h1v1h-1zM32 15h1v1h-1zM14 17h1v1h-1zM33 17h1v1h-1zM13 19h1v1h-1zM34 19h1v1h-1zM12 21h1v1h-1zM35 21h1v1h-1zM12 22h1v1h-1zM35 22h1v1h-1zM12 23h1v1h-1zM35 23h1v1h-1zM12 24h1v1h-1zM35 24h1v1h-1zM12 25h1v1h-1zM35 25h1v1h-1zM12 26h1v1h-1zM35 26h1v1h-1zM13 28h1v1h-1zM34 28h1v1h-1zM14 30h1v1h-1zM33 30h1v1h-1zM15 32h1v1h-1zM32 32h1v1h-1zM16 33h1v1h-1zM31 33h1v1h-1zM17 34h1v1h-1zM30 34h1v1h-1zM19 35h1v1h-1zM28 35h1v1h-1zM21 36h6v1h-6z"/><path fill="#ae519f" d="M20 12h1v1h-1zM27 12h1v1h-1zM18 13h1v1h-1zM29 13h1v1h-1zM17 14h1v1h-1zM30 14h1v1h-1zM16 15h1v1h-1zM31 15h1v1h-1zM15 16h1v1h-1zM32 16h1v1h-1zM14 18h1v1h-1zM33 18h1v1h-1zM13 20h1v1h-1zM34 20h1v1h-1zM13 27h1v1h-1zM34 27h1v1h-1zM14 29h1v1h-1zM33 29h1v1h-1zM15 31h1v1h-1zM32 31h1v1h-1zM16 32h1v1h-1zM31 32h1v1h-1zM17 33h1v1h-1zM30 33h1v1h-1zM18 34h1v1h-1zM29 34h1v1h-1zM20 35h1v1h-1zM27 35h1v1h-1z"/><path fill="#b1519f" d="M21 12h6v1h-6zM19 13h1v1h-1zM28 13h1v1h-1zM18 14h1v1h-1zM29 14h1v1h-1zM16 16h1v1h-1zM31 16h1v1h-1zM15 17h1v1h-1zM32 17h1v1h-1zM14 19h1v1h-1zM33 19h1v1h-1zM13 21h1v1h-1zM34 21h1v1h-1zM13 22h1v1h-1zM34 22h1v1h-1zM13 23h1v1h-1zM34 23h1v1h-1zM13 24h1v1h-1zM34 24h1v1h-1zM13 25h1v1h-1zM34 25h1v1h-1zM13 26h1v1h-1zM34 26h1v1h-1zM14 28h1v1h-1zM33 28h1v1h-1zM15 30h1v1h-1zM32 30h1v1h-1zM16 31h1v1h-1zM31 31h1v1h-1zM18 33h1v1h-1zM29 33h1v1h-1zM19 34h1v1h-1zM28 34h1v1h-1zM21 35h6v1h-6z"/><path fill="#b4519f" d="M20 13h1v1h-1zM27 13h1v1h-1zM17 15h1v1h-1zM30 15h1v1h-1zM15 18h1v1h-1zM32 18h1v1h-1zM14 20h1v1h-1zM33 20h1v1h-1zM14 27h1v1h-1zM33 27h1v1h-1zM15 29h1v1h-1zM32 29h1v1h-1zM17 32h1v1h-1zM30 32h1v1h-1zM20 34h1v1h-1zM27 34h1v1h-1z"/><path fill="#b74e9f" d="M21 13h1v1h-1zM26 13h1v1h-1zM16 17h1v1h-1zM31 17h1v1h-1zM14 21h1v1h-1zM33 21h1v1h-1zM14 26h1v1h-1zM33 26h1v1h-1zM16 30h1v1h-1zM31 30h1v1h-1zM21 34h1v1h-1zM26 34h1v1h-1z"/><path fill="#ba4e9f" d="M22 13h1v1h-1zM25 13h1v1h-1zM19 14h1v1h-1zM28 14h1v1h-1zM15 19h1v1h-1zM32 19h1v1h-1zM15 28h1v1h-1zM32 28h1v1h-1zM19 33h1v1h-1zM28 33h1v1h-1zM22 34h1v1h-1zM25 34h1v1h-1z"/><path fill="#bd4e9f" d="M23 13h2v1h-2zM18 15h1v1h-1zM29 15h1v1h-1zM17 16h1v1h-1zM30 16h1v1h-1zM14 22h1v1h-1zM33 22h1v1h-1zM14 25h1v1h-1zM33 25h1v1h-1zM17 31h1v1h-1zM30 31h1v1h-1zM18 32h1v1h-1zM29 32h1v1h-1zM23 34h2v1h-2z"/><path fill="#c04e9f" d="M20 14h1v1h-1zM27 14h1v1h-1zM14 23h1v1h-1zM33 23h1v1h-1zM14 24h1v1h-1zM33 24h1v1h-1zM20 33h1v1h-1zM27 33h1v1h-1z"/><path fill="#c64b9c" d="M21 14h1v1h-1zM26 14h1v1h-1zM19 15h1v1h-1zM28 15h1v1h-1zM18 16h1v1h-1zM29 16h1v1h-1zM17 17h1v1h-1zM30 17h1v1h-1zM15 21h1v1h-1zM32 21h1v1h-1zM15 26h1v1h-1zM32 26h1v1h-1zM17 30h1v1h-1zM30 30h1v1h-1zM18 31h1v1h-1zM29 31h1v1h-1zM19 32h1v1h-1zM28 32h1v1h-1zM21 33h1v1h-1zM26 33h1v1h-1z"/><path fill="#c94b9c" d="M22 14h4v1h-4zM20 15h1v1h-1zM27 15h1v1h-1zM16 19h1v1h-1zM31 19h1v1h-1zM15 22h1v1h-1zM32 22h1v1h-1zM15 25h1v1h-1zM32 25h1v1h-1zM16 28h1v1h-1zM31 28h1v1h-1zM20 32h1v1h-1zM27 32h1v1h-1zM22 33h4v1h-4z"/><path fill="#cf4b99" d="M21 15h2v1h-2zM25 15h2v1h-2zM17 19h1v1h-1zM30 19h1v1h-1zM16 21h1v1h-1zM31 21h1v1h-1zM16 26h1v1h-1zM31 26h1v1h-1zM17 28h1v1h-1zM30 28h1v1h-1zM21 32h2v1h-2zM25 32h2v1h-2z"/><path fill="#d24b99" d="M23 15h2v1h-2zM20 16h1v1h-1zM27 16h1v1h-1zM20 31h1v1h-1zM27 31h1v1h-1zM23 32h2v1h-2z"/><path fill="#cc4b99" d="M19 16h1v1h-1zM28 16h1v1h-1zM18 17h1v1h-1zM29 17h1v1h-1zM16 20h1v1h-1zM31 20h1v1h-1zM16 27h1v1h-1zM31 27h1v1h-1zM18 30h1v1h-1zM29 30h1v1h-1zM19 31h1v1h-1zM28 31h1v1h-1z"/><path fill="#d24590" d="M21 16h1v1h-1zM26 16h1v1h-1zM21 31h1v1h-1zM26 31h1v1h-1z"/><path fill="#d2428a" d="M22 16h1v1h-1zM25 16h1v1h-1zM18 19h1v1h-1zM29 19h1v1h-1zM17 21h1v1h-1zM30 21h1v1h-1zM17 26h1v1h-1zM30 26h1v1h-1zM18 28h1v1h-1zM29 28h1v1h-1zM22 31h1v1h-1zM25 31h1v1h-1z"/><path fill="#d23f87" d="M23 16h2v1h-2zM19 18h1v1h-1zM28 18h1v1h-1zM19 29h1v1h-1zM28 29h1v1h-1zM23 31h2v1h-2z"/><path fill="#d24893" d="M19 17h1v1h-1zM28 17h1v1h-1zM17 20h1v1h-1zM30 20h1v1h-1zM16 23h1v1h-1zM31 23h1v1h-1zM16 24h1v1h-1zM31 24h1v1h-1zM17 27h1v1h-1zM30 27h1v1h-1zM19 30h1v1h-1zM28 30h1v1h-1z"/><path fill="#d24287" d="M20 17h1v1h-1zM27 17h1v1h-1zM20 30h1v1h-1zM27 30h1v1h-1z"/><path fill="#d53c7e" d="M21 17h2v1h-2zM25 17h2v1h-2zM20 18h1v1h-1zM27 18h1v1h-1zM19 19h1v1h-1zM28 19h1v1h-1zM18 21h1v1h-1zM29 21h1v1h-1zM18 26h1v1h-1zM29 26h1v1h-1zM19 28h1v1h-1zM28 28h1v1h-1zM20 29h1v1h-1zM27 29h1v1h-1zM21 30h2v1h-2zM25 30h2v1h-2z"/><path fill="#d53c7b" d="M23 17h2v1h-2zM23 30h2v1h-2z"/><path fill="#c34b9f" d="M16 18h1v1h-1zM31 18h1v1h-1zM15 20h1v1h-1zM32 20h1v1h-1zM15 27h1v1h-1zM32 27h1v1h-1zM16 29h1v1h-1zM31 29h1v1h-1z"/><path fill="#cc4b9c" d="M17 18h1v1h-1zM30 18h1v1h-1zM15 23h1v1h-1zM32 23h1v1h-1zM15 24h1v1h-1zM32 24h1v1h-1zM17 29h1v1h-1zM30 29h1v1h-1z"/><path fill="#d24896" d="M18 18h1v1h-1zM29 18h1v1h-1zM16 22h1v1h-1zM31 22h1v1h-1zM16 25h1v1h-1zM31 25h1v1h-1zM18 29h1v1h-1zM29 29h1v1h-1z"/><path fill="#d53c75" d="M21 18h1v1h-1zM26 18h1v1h-1zM21 29h1v1h-1zM26 29h1v1h-1z"/><path fill="#d53f6c" d="M22 18h1v1h-1zM25 18h1v1h-1zM22 29h1v1h-1zM25 29h1v1h-1z"/><path fill="#d53f66" d="M23 18h2v1h-2zM23 29h2v1h-2z"/><path fill="#d53c72" d="M20 19h1v1h-1zM27 19h1v1h-1zM18 23h1v1h-1zM29 23h1v1h-1zM18 24h1v1h-1zM29 24h1v1h-1zM20 28h1v1h-1zM27 28h1v1h-1z"/><path fill="#d53f60" d="M21 19h1v1h-1zM26 19h1v1h-1zM20 20h1v1h-1zM27 20h1v1h-1zM19 22h1v1h-1zM28 22h1v1h-1zM19 25h1v1h-1zM28 25h1v1h-1zM20 27h1v1h-1zM27 27h1v1h-1zM21 28h1v1h-1zM26 28h1v1h-1z"/><path fill="#d53f54" d="M22 19h1v1h-1zM25 19h1v1h-1zM20 21h1v1h-1zM27 21h1v1h-1zM20 26h1v1h-1zM27 26h1v1h-1zM22 28h1v1h-1zM25 28h1v1h-1z"/><path fill="#d53f4e" d="M23 19h2v1h-2zM23 28h2v1h-2z"/><path fill="#d53c81" d="M18 20h1v1h-1zM29 20h1v1h-1zM17 23h1v1h-1zM30 23h1v1h-1zM17 24h1v1h-1zM30 24h1v1h-1zM18 27h1v1h-1zM29 27h1v1h-1z"/><path fill="#d53c78" d="M19 20h1v1h-1zM28 20h1v1h-1zM18 22h1v1h-1zM29 22h1v1h-1zM18 25h1v1h-1zM29 25h1v1h-1zM19 27h1v1h-1zM28 27h1v1h-1z"/><path fill="#d2424e" d="M21 20h1v1h-1zM26 20h1v1h-1zM21 27h1v1h-1zM26 27h1v1h-1z"/><path fill="#cf453c" d="M22 20h1v1h-1zM25 20h1v1h-1zM20 23h1v1h-1zM27 23h1v1h-1zM20 24h1v1h-1zM27 24h1v1h-1zM22 27h1v1h-1zM25 27h1v1h-1z"/><path fill="#cf4836" d="M23 20h2v1h-2zM23 27h2v1h-2z"/><path fill="#d53f69" d="M19 21h1v1h-1zM28 21h1v1h-1zM19 26h1v1h-1zM28 26h1v1h-1z"/><path fill="#cf4839" d="M21 21h1v1h-1zM26 21h1v1h-1zM21 26h1v1h-1zM26 26h1v1h-1z"/><path fill="#d24b30" d="M22 21h1v1h-1zM25 21h1v1h-1zM22 26h1v1h-1zM25 26h1v1h-1z"/><path fill="#d2482d" d="M23 21h2v1h-2zM22 22h1v1h-1zM25 22h1v1h-1zM21 23h1v1h-1zM26 23h1v1h-1zM21 24h1v1h-1zM26 24h1v1h-1zM22 25h1v1h-1zM25 25h1v1h-1zM23 26h2v1h-2z"/><path fill="#d53f84" d="M17 22h1v1h-1zM30 22h1v1h-1zM17 25h1v1h-1zM30 25h1v1h-1z"/><path fill="#d24542" d="M20 22h1v1h-1zM27 22h1v1h-1zM20 25h1v1h-1zM27 25h1v1h-1z"/><path fill="#cf4b30" d="M21 22h1v1h-1zM26 22h1v1h-1zM21 25h1v1h-1zM26 25h1v1h-1z"/><path fill="#d54b2d" d="M23 22h2v1h-2zM23 25h2v1h-2z"/><path fill="#d53f5a" d="M19 23h1v1h-1zM28 23h1v1h-1zM19 24h1v1h-1zM28 24h1v1h-1z"/><path fill="#d5482d" d="M22 23h1v1h-1zM25 23h1v1h-1zM22 24h1v1h-1zM25 24h1v1h-1z"/><path fill="#d84e2d" d="M23 23h2v1h-2zM23 24h2v1h-2z"/></g></g>
<rect x="330.75" y="29.9" width="2.2" height="184.9" fill="url(#ew)"/>
<rect x="513.9" y="29.9" width="2.2" height="184.9" fill="url(#ew)" transform="rotate(180 515 122.35)"/>
<rect x="330.75" y="29.9" width="185.35" height="2.2" fill="url(#ewv)"/>
<rect x="330.75" y="212.6" width="185.35" height="2.2" fill="url(#ewv2)"/>
<circle cx="330.75" cy="29.9" r="12" fill="url(#cw)"/>
<circle cx="516.1" cy="29.9" r="12" fill="url(#cw)"/>
<circle cx="330.75" cy="214.8" r="12" fill="url(#cw)"/>
<circle cx="516.1" cy="214.8" r="12" fill="url(#cw)"/>
</g>
<g clip-path="url(#cc)"><g filter="url(#fc)"><g transform="translate(598 17) scale(4.35 4.35)" shape-rendering="crispEdges"><path fill="#7b519f" d="M0 0h12v1h-12zM43 0h5v1h-5zM0 1h10v1h-10zM44 1h4v1h-4zM0 2h9v1h-9zM45 2h3v1h-3zM0 3h8v1h-8zM45 3h3v1h-3zM0 4h6v1h-6zM46 4h2v1h-2zM0 5h5v1h-5zM46 5h2v1h-2zM0 6h4v1h-4zM47 6h1v1h-1zM0 7h3v1h-3zM47 7h1v1h-1zM0 8h2v1h-2zM0 9h1v1h-1zM47 38h1v1h-1zM46 39h2v1h-2zM0 40h1v1h-1zM45 40h3v1h-3zM0 41h1v1h-1zM44 41h4v1h-4zM0 42h2v1h-2zM43 42h5v1h-5zM0 43h2v1h-2zM42 43h6v1h-6zM0 44h3v1h-3zM40 44h8v1h-8zM0 45h3v1h-3zM39 45h9v1h-9zM0 46h4v1h-4zM38 46h10v1h-10zM0 47h5v1h-5zM36 47h12v1h-12z"/><path fill="#7e519f" d="M12 0h1v1h-1zM42 0h1v1h-1zM10 1h2v1h-2zM43 1h1v1h-1zM9 2h1v1h-1zM44 2h1v1h-1zM8 3h1v1h-1zM6 4h1v1h-1zM45 4h1v1h-1zM5 5h1v1h-1zM4 6h1v1h-1zM46 6h1v1h-1zM3 7h1v1h-1zM2 8h1v1h-1zM47 8h1v1h-1zM1 9h1v1h-1zM47 9h1v1h-1zM0 10h1v1h-1zM47 37h1v1h-1zM0 38h1v1h-1zM46 38h1v1h-1zM0 39h1v1h-1zM45 39h1v1h-1zM44 40h1v1h-1zM1 41h1v1h-1zM43 41h1v1h-1zM42 42h1v1h-1zM2 43h1v1h-1zM41 43h1v1h-1zM39 44h1v1h-1zM3 45h1v1h-1zM38 45h1v1h-1zM4 46h1v1h-1zM36 46h2v1h-2zM5 47h1v1h-1zM35 47h1v1h-1z"/><path fill="#81519f" d="M13 0h1v1h-1zM41 0h1v1h-1zM12 1h1v1h-1zM42 1h1v1h-1zM10 2h1v1h-1zM43 2h1v1h-1zM9 3h1v1h-1zM44 3h1v1h-1zM7 4h1v1h-1zM44 4h1v1h-1zM6 5h1v1h-1zM45 5h1v1h-1zM5 6h1v1h-1zM45 6h1v1h-1zM4 7h1v1h-1zM46 7h1v1h-1zM3 8h1v1h-1zM46 8h1v1h-1zM2 9h1v1h-1zM1 10h1v1h-1zM47 10h1v1h-1zM0 11h1v1h-1zM47 11h1v1h-1zM0 12h1v1h-1zM47 12h1v1h-1zM0 35h1v1h-1zM47 35h1v1h-1zM0 36h1v1h-1zM47 36h1v1h-1zM0 37h1v1h-1zM46 37h1v1h-1zM45 38h1v1h-1zM1 39h1v1h-1zM44 39h1v1h-1zM1 40h1v1h-1zM43 40h1v1h-1zM2 41h1v1h-1zM42 41h1v1h-1zM2 42h1v1h-1zM41 42h1v1h-1zM3 43h1v1h-1zM40 43h1v1h-1zM3 44h1v1h-1zM38 44h1v1h-1zM4 45h1v1h-1zM37 45h1v1h-1zM5 46h1v1h-1zM35 46h1v1h-1zM6 47h1v1h-1zM34 47h1v1h-1z"/><path fill="#84519f" d="M14 0h1v1h-1zM40 0h1v1h-1zM11 2h1v1h-1zM42 2h1v1h-1zM43 3h1v1h-1zM8 4h1v1h-1zM7 5h1v1h-1zM46 9h1v1h-1zM1 11h1v1h-1zM47 13h1v1h-1zM47 14h1v1h-1zM0 33h1v1h-1zM0 34h1v1h-1zM46 36h1v1h-1zM1 38h1v1h-1zM40 42h1v1h-1zM39 43h1v1h-1zM4 44h1v1h-1zM5 45h1v1h-1zM36 45h1v1h-1zM7 47h1v1h-1zM33 47h1v1h-1z"/><path fill="#87549f" d="M15 0h1v1h-1zM39 0h1v1h-1zM14 1h1v1h-1zM40 1h1v1h-1zM12 2h1v1h-1zM41 2h1v1h-1zM11 3h1v1h-1zM42 3h1v1h-1zM10 4h1v1h-1zM8 5h1v1h-1zM43 5h1v1h-1zM7 6h1v1h-1zM44 6h1v1h-1zM6 7h1v1h-1zM44 7h1v1h-1zM4 8h1v1h-1zM45 8h1v1h-1zM3 9h1v1h-1zM45 9h1v1h-1zM2 11h1v1h-1zM1 12h1v1h-1zM46 12h1v1h-1zM1 13h1v1h-1zM46 13h1v1h-1zM0 14h1v1h-1zM46 14h1v1h-1zM0 15h1v1h-1zM47 17h1v1h-1zM47 18h1v1h-1zM47 19h1v1h-1zM47 20h1v1h-1zM0 27h1v1h-1zM0 28h1v1h-1zM0 29h1v1h-1zM0 30h1v1h-1zM47 32h1v1h-1zM1 33h1v1h-1zM47 33h1v1h-1zM1 34h1v1h-1zM46 34h1v1h-1zM1 35h1v1h-1zM46 35h1v1h-1zM45 36h1v1h-1zM2 38h1v1h-1zM44 38h1v1h-1zM2 39h1v1h-1zM43 39h1v1h-1zM3 40h1v1h-1zM41 40h1v1h-1zM3 41h1v1h-1zM40 41h1v1h-1zM4 42h1v1h-1zM39 42h1v1h-1zM37 43h1v1h-1zM5 44h1v1h-1zM36 44h1v1h-1zM6 45h1v1h-1zM35 45h1v1h-1zM7 46h1v1h-1zM33 46h1v1h-1zM8 47h1v1h-1zM32 47h1v1h-1z"/><path fill="#8a549f" d="M16 0h1v1h-1zM37 0h2v1h-2zM15 1h1v1h-1zM39 1h1v1h-1zM13 2h1v1h-1zM40 2h1v1h-1zM12 3h1v1h-1zM41 3h1v1h-1zM11 4h1v1h-1zM42 4h1v1h-1zM9 5h1v1h-1zM42 5h1v1h-1zM8 6h1v1h-1zM43 6h1v1h-1zM7 7h1v1h-1zM5 8h1v1h-1zM44 8h1v1h-1zM4 9h1v1h-1zM3 10h1v1h-1zM45 10h1v1h-1zM3 11h1v1h-1zM45 11h1v1h-1zM2 12h1v1h-1zM45 12h1v1h-1zM1 14h1v1h-1zM46 15h1v1h-1zM0 16h1v1h-1zM46 16h1v1h-1zM0 17h1v1h-1zM46 17h1v1h-1zM0 18h1v1h-1zM46 18h1v1h-1zM0 19h1v1h-1zM0 20h1v1h-1zM47 21h1v1h-1zM0 22h1v1h-1zM47 22h1v1h-1zM0 23h1v1h-1zM47 23h1v1h-1zM0 24h1v1h-1zM47 24h1v1h-1zM0 25h1v1h-1zM47 25h1v1h-1zM0 26h1v1h-1zM47 27h1v1h-1zM47 28h1v1h-1zM1 29h1v1h-1zM47 29h1v1h-1zM1 30h1v1h-1zM47 30h1v1h-1zM1 31h1v1h-1zM47 31h1v1h-1zM1 32h1v1h-1zM46 33h1v1h-1zM2 35h1v1h-1zM45 35h1v1h-1zM2 36h1v1h-1zM44 36h1v1h-1zM2 37h1v1h-1zM44 37h1v1h-1zM43 38h1v1h-1zM3 39h1v1h-1zM42 39h1v1h-1zM40 40h1v1h-1zM4 41h1v1h-1zM39 41h1v1h-1zM5 42h1v1h-1zM38 42h1v1h-1zM5 43h1v1h-1zM36 43h1v1h-1zM6 44h1v1h-1zM35 44h1v1h-1zM7 45h1v1h-1zM34 45h1v1h-1zM8 46h1v1h-1zM32 46h1v1h-1zM9 47h2v1h-2zM31 47h1v1h-1z"/><path fill="#8d549f" d="M17 0h2v1h-2zM36 0h1v1h-1zM16 1h1v1h-1zM38 1h1v1h-1zM14 2h2v1h-2zM39 2h1v1h-1zM13 3h1v1h-1zM40 3h1v1h-1zM12 4h1v1h-1zM41 4h1v1h-1zM10 5h1v1h-1zM9 6h1v1h-1zM42 6h1v1h-1zM8 7h1v1h-1zM43 7h1v1h-1zM6 8h1v1h-1zM43 8h1v1h-1zM5 9h1v1h-1zM44 9h1v1h-1zM4 10h1v1h-1zM44 10h1v1h-1zM44 11h1v1h-1zM3 12h1v1h-1zM2 13h1v1h-1zM45 13h1v1h-1zM2 14h1v1h-1zM45 14h1v1h-1zM1 15h1v1h-1zM45 15h1v1h-1zM1 16h1v1h-1zM45 16h1v1h-1zM1 17h1v1h-1zM46 19h1v1h-1zM46 20h1v1h-1zM0 21h1v1h-1zM46 21h1v1h-1zM46 22h1v1h-1zM1 25h1v1h-1zM1 26h1v1h-1zM47 26h1v1h-1zM1 27h1v1h-1zM1 28h1v1h-1zM46 30h1v1h-1zM2 31h1v1h-1zM46 31h1v1h-1zM2 32h1v1h-1zM46 32h1v1h-1zM2 33h1v1h-1zM45 33h1v1h-1zM2 34h1v1h-1zM45 34h1v1h-1zM44 35h1v1h-1zM3 36h1v1h-1zM3 37h1v1h-1zM43 37h1v1h-1zM3 38h1v1h-1zM42 38h1v1h-1zM4 39h1v1h-1zM41 39h1v1h-1zM4 40h1v1h-1zM39 40h1v1h-1zM5 41h1v1h-1zM38 41h1v1h-1zM37 42h1v1h-1zM6 43h1v1h-1zM35 43h1v1h-1zM7 44h1v1h-1zM34 44h1v1h-1zM8 45h1v1h-1zM32 45h2v1h-2zM9 46h1v1h-1zM31 46h1v1h-1zM11 47h1v1h-1zM29 47h2v1h-2z"/><path fill="#90579f" d="M19 0h1v1h-1zM34 0h1v1h-1zM36 1h1v1h-1zM16 2h1v1h-1zM13 4h1v1h-1zM12 5h1v1h-1zM41 6h1v1h-1zM9 7h1v1h-1zM43 10h1v1h-1zM3 13h1v1h-1zM44 13h1v1h-1zM44 14h1v1h-1zM2 15h1v1h-1zM45 19h1v1h-1zM1 20h1v1h-1zM45 20h1v1h-1zM1 21h1v1h-1zM46 26h1v1h-1zM2 27h1v1h-1zM46 27h1v1h-1zM2 28h1v1h-1zM45 32h1v1h-1zM3 33h1v1h-1zM3 34h1v1h-1zM44 34h1v1h-1zM4 37h1v1h-1zM38 40h1v1h-1zM6 41h1v1h-1zM35 42h1v1h-1zM34 43h1v1h-1zM31 45h1v1h-1zM11 46h1v1h-1zM13 47h1v1h-1zM28 47h1v1h-1z"/><path fill="#93579f" d="M20 0h2v1h-2zM32 0h2v1h-2zM18 1h2v1h-2zM35 1h1v1h-1zM17 2h1v1h-1zM36 2h2v1h-2zM15 3h1v1h-1zM38 3h1v1h-1zM14 4h1v1h-1zM39 4h1v1h-1zM13 5h1v1h-1zM40 5h1v1h-1zM11 6h1v1h-1zM10 7h1v1h-1zM41 7h1v1h-1zM8 8h1v1h-1zM42 8h1v1h-1zM7 9h1v1h-1zM42 9h1v1h-1zM6 10h1v1h-1zM5 11h1v1h-1zM43 11h1v1h-1zM4 12h1v1h-1zM43 12h1v1h-1zM4 13h1v1h-1zM3 14h1v1h-1zM3 15h1v1h-1zM44 15h1v1h-1zM2 16h1v1h-1zM44 16h1v1h-1zM2 17h1v1h-1zM44 17h1v1h-1zM2 18h1v1h-1zM44 18h1v1h-1zM2 19h1v1h-1zM45 21h1v1h-1zM45 22h1v1h-1zM2 23h1v1h-1zM45 23h1v1h-1zM2 24h1v1h-1zM45 24h1v1h-1zM2 25h1v1h-1zM2 26h1v1h-1zM45 28h1v1h-1zM3 29h1v1h-1zM45 29h1v1h-1zM3 30h1v1h-1zM45 30h1v1h-1zM3 31h1v1h-1zM45 31h1v1h-1zM3 32h1v1h-1zM44 32h1v1h-1zM44 33h1v1h-1zM43 34h1v1h-1zM4 35h1v1h-1zM43 35h1v1h-1zM4 36h1v1h-1zM42 36h1v1h-1zM41 37h1v1h-1zM5 38h1v1h-1zM40 38h1v1h-1zM5 39h1v1h-1zM39 39h1v1h-1zM6 40h1v1h-1zM37 40h1v1h-1zM36 41h1v1h-1zM7 42h1v1h-1zM34 42h1v1h-1zM8 43h1v1h-1zM33 43h1v1h-1zM9 44h1v1h-1zM32 44h1v1h-1zM10 45h2v1h-2zM30 45h1v1h-1zM12 46h1v1h-1zM28 46h2v1h-2zM14 47h2v1h-2zM26 47h2v1h-2z"/><path fill="#96579f" d="M22 0h4v1h-4zM29 0h3v1h-3zM20 1h1v1h-1zM33 1h2v1h-2zM18 2h1v1h-1zM35 2h1v1h-1zM16 3h1v1h-1zM37 3h1v1h-1zM15 4h1v1h-1zM38 4h1v1h-1zM14 5h1v1h-1zM39 5h1v1h-1zM12 6h1v1h-1zM40 6h1v1h-1zM11 7h1v1h-1zM40 7h1v1h-1zM9 8h1v1h-1zM41 8h1v1h-1zM8 9h1v1h-1zM7 10h1v1h-1zM42 10h1v1h-1zM6 11h1v1h-1zM42 11h1v1h-1zM5 12h1v1h-1zM43 13h1v1h-1zM4 14h1v1h-1zM43 14h1v1h-1zM43 15h1v1h-1zM3 16h1v1h-1zM3 17h1v1h-1zM44 19h1v1h-1zM2 20h1v1h-1zM44 20h1v1h-1zM2 21h1v1h-1zM44 21h1v1h-1zM2 22h1v1h-1zM45 25h1v1h-1zM3 26h1v1h-1zM45 26h1v1h-1zM3 27h1v1h-1zM45 27h1v1h-1zM3 28h1v1h-1zM44 30h1v1h-1zM44 31h1v1h-1zM4 32h1v1h-1zM4 33h1v1h-1zM43 33h1v1h-1zM4 34h1v1h-1zM42 35h1v1h-1zM5 36h1v1h-1zM41 36h1v1h-1zM5 37h1v1h-1zM40 37h1v1h-1zM39 38h1v1h-1zM6 39h1v1h-1zM38 39h1v1h-1zM7 40h1v1h-1zM36 40h1v1h-1zM7 41h1v1h-1zM35 41h1v1h-1zM8 42h1v1h-1zM33 42h1v1h-1zM9 43h1v1h-1zM32 43h1v1h-1zM10 44h1v1h-1zM31 44h1v1h-1zM12 45h1v1h-1zM29 45h1v1h-1zM13 46h2v1h-2zM27 46h1v1h-1zM16 47h3v1h-3zM22 47h4v1h-4z"/><path fill="#99579f" d="M26 0h3v1h-3zM21 1h3v1h-3zM30 1h3v1h-3zM19 2h2v1h-2zM33 2h2v1h-2zM17 3h2v1h-2zM35 3h2v1h-2zM16 4h1v1h-1zM37 4h1v1h-1zM15 5h1v1h-1zM38 5h1v1h-1zM13 6h1v1h-1zM39 6h1v1h-1zM12 7h1v1h-1zM10 8h2v1h-2zM40 8h1v1h-1zM9 9h1v1h-1zM41 9h1v1h-1zM8 10h1v1h-1zM41 10h1v1h-1zM7 11h1v1h-1zM6 12h1v1h-1zM42 12h1v1h-1zM5 13h1v1h-1zM42 13h1v1h-1zM5 14h1v1h-1zM4 15h1v1h-1zM4 16h1v1h-1zM43 16h1v1h-1zM43 17h1v1h-1zM3 18h1v1h-1zM43 18h1v1h-1zM3 19h1v1h-1zM43 19h1v1h-1zM3 20h1v1h-1zM3 21h1v1h-1zM3 22h1v1h-1zM44 22h1v1h-1zM3 23h1v1h-1zM44 23h1v1h-1zM3 24h1v1h-1zM44 24h1v1h-1zM3 25h1v1h-1zM44 25h1v1h-1zM44 26h1v1h-1zM44 27h1v1h-1zM4 28h1v1h-1zM44 28h1v1h-1zM4 29h1v1h-1zM44 29h1v1h-1zM4 30h1v1h-1zM4 31h1v1h-1zM43 31h1v1h-1zM43 32h1v1h-1zM42 33h1v1h-1zM5 34h1v1h-1zM42 34h1v1h-1zM5 35h1v1h-1zM41 35h1v1h-1zM40 36h1v1h-1zM6 37h1v1h-1zM39 37h1v1h-1zM6 38h1v1h-1zM38 38h1v1h-1zM7 39h1v1h-1zM36 39h2v1h-2zM35 40h1v1h-1zM8 41h1v1h-1zM34 41h1v1h-1zM9 42h1v1h-1zM32 42h1v1h-1zM10 43h1v1h-1zM31 43h1v1h-1zM11 44h2v1h-2zM29 44h2v1h-2zM13 45h2v1h-2zM27 45h2v1h-2zM15 46h3v1h-3zM24 46h3v1h-3zM19 47h3v1h-3z"/><path fill="#90549f" d="M35 0h1v1h-1zM17 1h1v1h-1zM37 1h1v1h-1zM38 2h1v1h-1zM14 3h1v1h-1zM39 3h1v1h-1zM40 4h1v1h-1zM11 5h1v1h-1zM41 5h1v1h-1zM10 6h1v1h-1zM42 7h1v1h-1zM7 8h1v1h-1zM6 9h1v1h-1zM43 9h1v1h-1zM5 10h1v1h-1zM4 11h1v1h-1zM44 12h1v1h-1zM45 17h1v1h-1zM1 18h1v1h-1zM45 18h1v1h-1zM1 19h1v1h-1zM1 22h1v1h-1zM1 23h1v1h-1zM46 23h1v1h-1zM1 24h1v1h-1zM46 24h1v1h-1zM46 25h1v1h-1zM46 28h1v1h-1zM2 29h1v1h-1zM46 29h1v1h-1zM2 30h1v1h-1zM3 35h1v1h-1zM43 36h1v1h-1zM42 37h1v1h-1zM4 38h1v1h-1zM41 38h1v1h-1zM40 39h1v1h-1zM5 40h1v1h-1zM37 41h1v1h-1zM6 42h1v1h-1zM36 42h1v1h-1zM7 43h1v1h-1zM8 44h1v1h-1zM33 44h1v1h-1zM9 45h1v1h-1zM10 46h1v1h-1zM30 46h1v1h-1zM12 47h1v1h-1z"/><path fill="#84549f" d="M13 1h1v1h-1zM41 1h1v1h-1zM10 3h1v1h-1zM9 4h1v1h-1zM43 4h1v1h-1zM44 5h1v1h-1zM6 6h1v1h-1zM5 7h1v1h-1zM45 7h1v1h-1zM2 10h1v1h-1zM46 10h1v1h-1zM46 11h1v1h-1zM0 13h1v1h-1zM47 15h1v1h-1zM47 16h1v1h-1zM0 31h1v1h-1zM0 32h1v1h-1zM47 34h1v1h-1zM1 36h1v1h-1zM1 37h1v1h-1zM45 37h1v1h-1zM2 40h1v1h-1zM42 40h1v1h-1zM41 41h1v1h-1zM3 42h1v1h-1zM4 43h1v1h-1zM38 43h1v1h-1zM37 44h1v1h-1zM6 46h1v1h-1zM34 46h1v1h-1z"/><path fill="#9c579f" d="M24 1h6v1h-6zM21 2h3v1h-3zM30 2h3v1h-3zM19 3h2v1h-2zM33 3h2v1h-2zM17 4h2v1h-2zM35 4h2v1h-2zM16 5h1v1h-1zM36 5h2v1h-2zM14 6h2v1h-2zM37 6h2v1h-2zM13 7h1v1h-1zM38 7h2v1h-2zM12 8h1v1h-1zM39 8h1v1h-1zM10 9h2v1h-2zM40 9h1v1h-1zM9 10h1v1h-1zM40 10h1v1h-1zM8 11h1v1h-1zM41 11h1v1h-1zM7 12h1v1h-1zM41 12h1v1h-1zM6 13h1v1h-1zM41 13h1v1h-1zM6 14h1v1h-1zM42 14h1v1h-1zM5 15h1v1h-1zM42 15h1v1h-1zM5 16h1v1h-1zM42 16h1v1h-1zM4 17h1v1h-1zM42 17h1v1h-1zM4 18h1v1h-1zM42 18h1v1h-1zM4 19h1v1h-1zM4 20h1v1h-1zM43 20h1v1h-1zM4 21h1v1h-1zM43 21h1v1h-1zM4 22h1v1h-1zM43 22h1v1h-1zM4 23h1v1h-1zM43 23h1v1h-1zM4 24h1v1h-1zM43 24h1v1h-1zM4 25h1v1h-1zM43 25h1v1h-1zM4 26h1v1h-1zM43 26h1v1h-1zM4 27h1v1h-1zM43 27h1v1h-1zM43 28h1v1h-1zM5 29h1v1h-1zM43 29h1v1h-1zM5 30h1v1h-1zM43 30h1v1h-1zM5 31h1v1h-1zM42 31h1v1h-1zM5 32h1v1h-1zM42 32h1v1h-1zM5 33h1v1h-1zM41 33h1v1h-1zM6 34h1v1h-1zM41 34h1v1h-1zM6 35h1v1h-1zM40 35h1v1h-1zM6 36h1v1h-1zM39 36h1v1h-1zM7 37h1v1h-1zM38 37h1v1h-1zM7 38h1v1h-1zM36 38h2v1h-2zM8 39h1v1h-1zM35 39h1v1h-1zM8 40h2v1h-2zM34 40h1v1h-1zM9 41h2v1h-2zM32 41h2v1h-2zM10 42h2v1h-2zM31 42h1v1h-1zM11 43h2v1h-2zM29 43h2v1h-2zM13 44h2v1h-2zM27 44h2v1h-2zM15 45h3v1h-3zM24 45h3v1h-3zM18 46h6v1h-6z"/><path fill="#9f579f" d="M24 2h6v1h-6zM21 3h2v1h-2zM30 3h3v1h-3zM19 4h1v1h-1zM33 4h2v1h-2zM17 5h2v1h-2zM35 5h1v1h-1zM16 6h1v1h-1zM36 6h1v1h-1zM14 7h2v1h-2zM37 7h1v1h-1zM13 8h1v1h-1zM38 8h1v1h-1zM12 9h1v1h-1zM39 9h1v1h-1zM10 10h2v1h-2zM39 10h1v1h-1zM9 11h1v1h-1zM40 11h1v1h-1zM8 12h1v1h-1zM40 12h1v1h-1zM7 13h1v1h-1zM7 14h1v1h-1zM41 14h1v1h-1zM6 15h1v1h-1zM41 15h1v1h-1zM41 16h1v1h-1zM5 17h1v1h-1zM41 17h1v1h-1zM5 18h1v1h-1zM5 19h1v1h-1zM42 19h1v1h-1zM42 20h1v1h-1zM42 21h1v1h-1zM42 22h1v1h-1zM42 23h1v1h-1zM5 24h1v1h-1zM5 25h1v1h-1zM5 26h1v1h-1zM5 27h1v1h-1zM5 28h1v1h-1zM42 28h1v1h-1zM42 29h1v1h-1zM6 30h1v1h-1zM42 30h1v1h-1zM6 31h1v1h-1zM6 32h1v1h-1zM41 32h1v1h-1zM6 33h1v1h-1zM40 33h1v1h-1zM40 34h1v1h-1zM7 35h1v1h-1zM39 35h1v1h-1zM7 36h1v1h-1zM38 36h1v1h-1zM8 37h1v1h-1zM36 37h2v1h-2zM8 38h1v1h-1zM35 38h1v1h-1zM9 39h1v1h-1zM34 39h1v1h-1zM10 40h1v1h-1zM32 40h2v1h-2zM11 41h1v1h-1zM31 41h1v1h-1zM12 42h1v1h-1zM29 42h2v1h-2zM13 43h2v1h-2zM28 43h1v1h-1zM15 44h3v1h-3zM25 44h2v1h-2zM18 45h6v1h-6z"/><path fill="#a2579f" d="M23 3h7v1h-7zM20 4h2v1h-2zM32 4h1v1h-1zM19 5h1v1h-1zM34 5h1v1h-1zM17 6h1v1h-1zM35 6h1v1h-1zM36 7h1v1h-1zM14 8h1v1h-1zM37 8h1v1h-1zM13 9h1v1h-1zM38 9h1v1h-1zM10 11h1v1h-1zM39 11h1v1h-1zM9 12h1v1h-1zM8 13h1v1h-1zM40 13h1v1h-1zM40 14h1v1h-1zM6 16h1v1h-1zM6 17h1v1h-1zM41 18h1v1h-1zM41 19h1v1h-1zM5 20h1v1h-1zM41 20h1v1h-1zM5 21h1v1h-1zM5 22h1v1h-1zM5 23h1v1h-1zM42 24h1v1h-1zM42 25h1v1h-1zM42 26h1v1h-1zM6 27h1v1h-1zM42 27h1v1h-1zM6 28h1v1h-1zM6 29h1v1h-1zM41 30h1v1h-1zM41 31h1v1h-1zM7 33h1v1h-1zM7 34h1v1h-1zM39 34h1v1h-1zM38 35h1v1h-1zM8 36h1v1h-1zM37 36h1v1h-1zM9 38h1v1h-1zM34 38h1v1h-1zM10 39h1v1h-1zM33 39h1v1h-1zM11 40h1v1h-1zM12 41h1v1h-1zM30 41h1v1h-1zM13 42h1v1h-1zM28 42h1v1h-1zM15 43h1v1h-1zM26 43h2v1h-2zM18 44h7v1h-7z"/><path fill="#a2549f" d="M22 4h1v1h-1zM30 4h2v1h-2zM33 5h1v1h-1zM18 6h1v1h-1zM16 7h1v1h-1zM15 8h1v1h-1zM12 10h1v1h-1zM38 10h1v1h-1zM11 11h1v1h-1zM39 12h1v1h-1zM8 14h1v1h-1zM7 15h1v1h-1zM40 15h1v1h-1zM40 16h1v1h-1zM6 18h1v1h-1zM41 21h1v1h-1zM41 22h1v1h-1zM6 25h1v1h-1zM6 26h1v1h-1zM41 29h1v1h-1zM7 31h1v1h-1zM7 32h1v1h-1zM40 32h1v1h-1zM39 33h1v1h-1zM8 35h1v1h-1zM36 36h1v1h-1zM9 37h1v1h-1zM35 37h1v1h-1zM32 39h1v1h-1zM31 40h1v1h-1zM29 41h1v1h-1zM14 42h1v1h-1zM16 43h2v1h-2zM25 43h1v1h-1z"/><path fill="#a5549f" d="M23 4h2v1h-2zM28 4h2v1h-2zM20 5h1v1h-1zM32 5h1v1h-1zM34 6h1v1h-1zM17 7h1v1h-1zM35 7h1v1h-1zM36 8h1v1h-1zM14 9h1v1h-1zM37 9h1v1h-1zM13 10h1v1h-1zM38 11h1v1h-1zM10 12h1v1h-1zM9 13h1v1h-1zM39 13h1v1h-1zM7 16h1v1h-1zM40 17h1v1h-1zM40 18h1v1h-1zM6 19h1v1h-1zM6 20h1v1h-1zM6 21h1v1h-1zM6 22h1v1h-1zM6 23h1v1h-1zM41 23h1v1h-1zM6 24h1v1h-1zM41 24h1v1h-1zM41 25h1v1h-1zM41 26h1v1h-1zM41 27h1v1h-1zM41 28h1v1h-1zM7 29h1v1h-1zM7 30h1v1h-1zM40 31h1v1h-1zM8 34h1v1h-1zM38 34h1v1h-1zM37 35h1v1h-1zM9 36h1v1h-1zM34 37h1v1h-1zM10 38h1v1h-1zM33 38h1v1h-1zM11 39h1v1h-1zM12 40h1v1h-1zM30 40h1v1h-1zM13 41h1v1h-1zM15 42h1v1h-1zM27 42h1v1h-1zM18 43h2v1h-2zM23 43h2v1h-2z"/><path fill="#a5549c" d="M25 4h3v1h-3zM21 5h2v1h-2zM30 5h2v1h-2zM19 6h1v1h-1zM33 6h1v1h-1zM18 7h1v1h-1zM34 7h1v1h-1zM16 8h1v1h-1zM15 9h1v1h-1zM36 9h1v1h-1zM37 10h1v1h-1zM12 11h1v1h-1zM11 12h1v1h-1zM38 12h1v1h-1zM10 13h1v1h-1zM9 14h1v1h-1zM39 14h1v1h-1zM8 15h1v1h-1zM39 15h1v1h-1zM7 17h1v1h-1zM7 18h1v1h-1zM40 19h1v1h-1zM40 20h1v1h-1zM40 21h1v1h-1zM7 26h1v1h-1zM7 27h1v1h-1zM7 28h1v1h-1zM40 29h1v1h-1zM40 30h1v1h-1zM8 32h1v1h-1zM39 32h1v1h-1zM8 33h1v1h-1zM38 33h1v1h-1zM37 34h1v1h-1zM9 35h1v1h-1zM36 35h1v1h-1zM35 36h1v1h-1zM10 37h1v1h-1zM11 38h1v1h-1zM32 38h1v1h-1zM31 39h1v1h-1zM13 40h1v1h-1zM29 40h1v1h-1zM14 41h1v1h-1zM28 41h1v1h-1zM16 42h2v1h-2zM25 42h2v1h-2zM20 43h3v1h-3z"/><path fill="#a8549c" d="M23 5h7v1h-7zM20 6h2v1h-2zM30 6h3v1h-3zM19 7h1v1h-1zM33 7h1v1h-1zM17 8h2v1h-2zM34 8h2v1h-2zM16 9h1v1h-1zM35 9h1v1h-1zM14 10h2v1h-2zM36 10h1v1h-1zM13 11h1v1h-1zM37 11h1v1h-1zM12 12h1v1h-1zM37 12h1v1h-1zM11 13h1v1h-1zM38 13h1v1h-1zM10 14h1v1h-1zM38 14h1v1h-1zM9 15h1v1h-1zM8 16h1v1h-1zM39 16h1v1h-1zM8 17h1v1h-1zM39 17h1v1h-1zM39 18h1v1h-1zM7 19h1v1h-1zM39 19h1v1h-1zM7 20h1v1h-1zM39 20h1v1h-1zM7 21h1v1h-1zM7 22h1v1h-1zM40 22h1v1h-1zM7 23h1v1h-1zM40 23h1v1h-1zM7 24h1v1h-1zM40 24h1v1h-1zM7 25h1v1h-1zM40 25h1v1h-1zM40 26h1v1h-1zM8 27h1v1h-1zM40 27h1v1h-1zM8 28h1v1h-1zM40 28h1v1h-1zM8 29h1v1h-1zM8 30h1v1h-1zM39 30h1v1h-1zM8 31h1v1h-1zM39 31h1v1h-1zM38 32h1v1h-1zM9 33h1v1h-1zM37 33h1v1h-1zM9 34h1v1h-1zM36 34h1v1h-1zM10 35h1v1h-1zM35 35h1v1h-1zM10 36h1v1h-1zM34 36h1v1h-1zM11 37h1v1h-1zM32 37h2v1h-2zM12 38h1v1h-1zM31 38h1v1h-1zM12 39h2v1h-2zM29 39h2v1h-2zM14 40h1v1h-1zM28 40h1v1h-1zM15 41h3v1h-3zM26 41h2v1h-2zM18 42h7v1h-7z"/><path fill="#ab549c" d="M22 6h8v1h-8zM20 7h2v1h-2zM31 7h2v1h-2zM19 8h1v1h-1zM33 8h1v1h-1zM17 9h1v1h-1zM34 9h1v1h-1zM16 10h1v1h-1zM35 10h1v1h-1zM14 11h1v1h-1zM36 11h1v1h-1zM13 12h1v1h-1zM12 13h1v1h-1zM37 13h1v1h-1zM11 14h1v1h-1zM10 15h1v1h-1zM38 15h1v1h-1zM9 16h1v1h-1zM38 16h1v1h-1zM9 17h1v1h-1zM38 17h1v1h-1zM8 18h1v1h-1zM38 18h1v1h-1zM8 19h1v1h-1zM8 20h1v1h-1zM8 21h1v1h-1zM39 21h1v1h-1zM8 22h1v1h-1zM39 22h1v1h-1zM8 23h1v1h-1zM39 23h1v1h-1zM8 24h1v1h-1zM39 24h1v1h-1zM8 25h1v1h-1zM39 25h1v1h-1zM8 26h1v1h-1zM39 26h1v1h-1zM39 27h1v1h-1zM39 28h1v1h-1zM9 29h1v1h-1zM39 29h1v1h-1zM9 30h1v1h-1zM38 30h1v1h-1zM9 31h1v1h-1zM38 31h1v1h-1zM9 32h1v1h-1zM37 32h1v1h-1zM36 33h1v1h-1zM10 34h1v1h-1zM35 34h1v1h-1zM34 35h1v1h-1zM11 36h1v1h-1zM33 36h1v1h-1zM12 37h1v1h-1zM31 37h1v1h-1zM13 38h1v1h-1zM30 38h1v1h-1zM14 39h1v1h-1zM28 39h1v1h-1zM15 40h2v1h-2zM26 40h2v1h-2zM18 41h8v1h-8z"/><path fill="#ae519c" d="M22 7h8v1h-8zM20 8h2v1h-2zM30 8h2v1h-2zM18 9h2v1h-2zM32 9h2v1h-2zM17 10h1v1h-1zM34 10h1v1h-1zM16 11h1v1h-1zM35 11h1v1h-1zM14 12h2v1h-2zM35 12h1v1h-1zM13 13h1v1h-1zM36 13h1v1h-1zM12 14h1v1h-1zM36 14h1v1h-1zM11 15h1v1h-1zM37 15h1v1h-1zM10 16h1v1h-1zM37 16h1v1h-1zM10 17h1v1h-1zM37 17h1v1h-1zM9 18h1v1h-1zM37 18h1v1h-1zM9 19h1v1h-1zM9 20h1v1h-1zM38 20h1v1h-1zM9 21h1v1h-1zM38 21h1v1h-1zM9 22h1v1h-1zM38 22h1v1h-1zM9 23h1v1h-1zM38 23h1v1h-1zM9 24h1v1h-1zM38 24h1v1h-1zM9 25h1v1h-1zM38 25h1v1h-1zM9 26h1v1h-1zM38 26h1v1h-1zM9 27h1v1h-1zM38 27h1v1h-1zM38 28h1v1h-1zM10 29h1v1h-1zM38 29h1v1h-1zM10 30h1v1h-1zM37 30h1v1h-1zM10 31h1v1h-1zM37 31h1v1h-1zM10 32h1v1h-1zM36 32h1v1h-1zM11 33h1v1h-1zM35 33h1v1h-1zM11 34h1v1h-1zM34 34h1v1h-1zM12 35h1v1h-1zM32 35h2v1h-2zM12 36h1v1h-1zM31 36h1v1h-1zM13 37h1v1h-1zM30 37h1v1h-1zM14 38h2v1h-2zM28 38h2v1h-2zM16 39h2v1h-2zM26 39h2v1h-2zM18 40h8v1h-8z"/><path fill="#ab519c" d="M30 7h1v1h-1zM32 8h1v1h-1zM15 11h1v1h-1zM36 12h1v1h-1zM37 14h1v1h-1zM38 19h1v1h-1zM9 28h1v1h-1zM10 33h1v1h-1zM11 35h1v1h-1zM32 36h1v1h-1zM15 39h1v1h-1zM17 40h1v1h-1z"/><path fill="#b1519c" d="M22 8h3v1h-3zM27 8h3v1h-3zM20 9h1v1h-1zM31 9h1v1h-1zM18 10h2v1h-2zM32 10h2v1h-2zM17 11h1v1h-1zM34 11h1v1h-1zM16 12h1v1h-1zM34 12h1v1h-1zM14 13h1v1h-1zM35 13h1v1h-1zM13 14h1v1h-1zM12 15h1v1h-1zM36 15h1v1h-1zM11 16h1v1h-1zM36 16h1v1h-1zM10 18h1v1h-1zM10 19h1v1h-1zM37 19h1v1h-1zM37 20h1v1h-1zM37 21h1v1h-1zM37 22h1v1h-1zM10 25h1v1h-1zM10 26h1v1h-1zM10 27h1v1h-1zM10 28h1v1h-1zM37 28h1v1h-1zM37 29h1v1h-1zM11 31h1v1h-1zM36 31h1v1h-1zM11 32h1v1h-1zM35 32h1v1h-1zM34 33h1v1h-1zM12 34h1v1h-1zM33 34h1v1h-1zM13 35h1v1h-1zM31 35h1v1h-1zM13 36h1v1h-1zM30 36h1v1h-1zM14 37h2v1h-2zM28 37h2v1h-2zM16 38h1v1h-1zM27 38h1v1h-1zM18 39h3v1h-3zM23 39h3v1h-3z"/><path fill="#b15199" d="M25 8h2v1h-2zM21 9h1v1h-1zM30 9h1v1h-1zM33 11h1v1h-1zM15 13h1v1h-1zM35 14h1v1h-1zM11 17h1v1h-1zM36 17h1v1h-1zM10 20h1v1h-1zM37 23h1v1h-1zM10 24h1v1h-1zM37 27h1v1h-1zM11 30h1v1h-1zM36 30h1v1h-1zM12 33h1v1h-1zM32 34h1v1h-1zM14 36h1v1h-1zM17 38h1v1h-1zM26 38h1v1h-1zM21 39h2v1h-2z"/><path fill="#b45199" d="M22 9h2v1h-2zM28 9h2v1h-2zM20 10h1v1h-1zM31 10h1v1h-1zM18 11h2v1h-2zM32 11h1v1h-1zM17 12h1v1h-1zM33 12h1v1h-1zM16 13h1v1h-1zM34 13h1v1h-1zM14 14h1v1h-1zM13 15h1v1h-1zM35 15h1v1h-1zM12 16h1v1h-1zM11 18h1v1h-1zM36 18h1v1h-1zM36 19h1v1h-1zM36 20h1v1h-1zM10 21h1v1h-1zM36 21h1v1h-1zM10 22h1v1h-1zM10 23h1v1h-1zM37 24h1v1h-1zM37 25h1v1h-1zM11 26h1v1h-1zM37 26h1v1h-1zM11 27h1v1h-1zM11 28h1v1h-1zM11 29h1v1h-1zM36 29h1v1h-1zM35 31h1v1h-1zM12 32h1v1h-1zM34 32h1v1h-1zM33 33h1v1h-1zM13 34h1v1h-1zM31 34h1v1h-1zM14 35h1v1h-1zM30 35h1v1h-1zM15 36h1v1h-1zM28 36h2v1h-2zM16 37h1v1h-1zM27 37h1v1h-1zM18 38h2v1h-2zM24 38h2v1h-2z"/><path fill="#b75199" d="M24 9h1v1h-1zM27 9h1v1h-1zM21 10h1v1h-1zM30 10h1v1h-1zM15 14h1v1h-1zM35 16h1v1h-1zM12 17h1v1h-1zM11 19h1v1h-1zM36 28h1v1h-1zM35 30h1v1h-1zM12 31h1v1h-1zM32 33h1v1h-1zM17 37h1v1h-1zM26 37h1v1h-1zM20 38h1v1h-1zM23 38h1v1h-1z"/><path fill="#b74e99" d="M25 9h2v1h-2zM29 10h1v1h-1zM31 11h1v1h-1zM18 12h1v1h-1zM17 13h1v1h-1zM33 13h1v1h-1zM34 14h1v1h-1zM14 15h1v1h-1zM13 16h1v1h-1zM35 17h1v1h-1zM11 20h1v1h-1zM36 22h1v1h-1zM36 23h1v1h-1zM11 24h1v1h-1zM11 25h1v1h-1zM36 27h1v1h-1zM12 30h1v1h-1zM34 31h1v1h-1zM33 32h1v1h-1zM13 33h1v1h-1zM14 34h1v1h-1zM30 34h1v1h-1zM29 35h1v1h-1zM16 36h1v1h-1zM18 37h1v1h-1zM21 38h2v1h-2z"/><path fill="#ba4e99" d="M22 10h1v1h-1zM20 11h1v1h-1zM32 12h1v1h-1zM34 15h1v1h-1zM12 18h1v1h-1zM35 18h1v1h-1zM11 21h1v1h-1zM11 22h1v1h-1zM11 23h1v1h-1zM36 24h1v1h-1zM36 25h1v1h-1zM36 26h1v1h-1zM12 29h1v1h-1zM35 29h1v1h-1zM13 32h1v1h-1zM15 35h1v1h-1zM27 36h1v1h-1zM25 37h1v1h-1z"/><path fill="#ba4e9c" d="M23 10h1v1h-1zM28 10h1v1h-1zM30 11h1v1h-1zM19 12h1v1h-1zM16 14h1v1h-1zM35 19h1v1h-1zM35 20h1v1h-1zM12 27h1v1h-1zM12 28h1v1h-1zM31 33h1v1h-1zM28 35h1v1h-1zM17 36h1v1h-1zM19 37h1v1h-1zM24 37h1v1h-1z"/><path fill="#bd4e9c" d="M24 10h4v1h-4zM21 11h1v1h-1zM29 11h1v1h-1zM31 12h1v1h-1zM18 13h1v1h-1zM32 13h1v1h-1zM17 14h1v1h-1zM33 14h1v1h-1zM15 15h1v1h-1zM14 16h1v1h-1zM34 16h1v1h-1zM13 17h1v1h-1zM34 17h1v1h-1zM12 19h1v1h-1zM12 20h1v1h-1zM35 21h1v1h-1zM35 22h1v1h-1zM12 25h1v1h-1zM12 26h1v1h-1zM35 27h1v1h-1zM35 28h1v1h-1zM13 30h1v1h-1zM34 30h1v1h-1zM13 31h1v1h-1zM33 31h1v1h-1zM32 32h1v1h-1zM14 33h1v1h-1zM30 33h1v1h-1zM15 34h1v1h-1zM29 34h1v1h-1zM16 35h1v1h-1zM18 36h1v1h-1zM26 36h1v1h-1zM20 37h4v1h-4z"/><path fill="#c04e9c" d="M22 11h2v1h-2zM27 11h2v1h-2zM20 12h1v1h-1zM30 12h1v1h-1zM19 13h1v1h-1zM31 13h1v1h-1zM32 14h1v1h-1zM16 15h1v1h-1zM33 15h1v1h-1zM15 16h1v1h-1zM14 17h1v1h-1zM13 18h1v1h-1zM34 18h1v1h-1zM34 19h1v1h-1zM12 21h1v1h-1zM12 22h1v1h-1zM12 23h1v1h-1zM35 23h1v1h-1zM12 24h1v1h-1zM35 24h1v1h-1zM35 25h1v1h-1zM35 26h1v1h-1zM13 28h1v1h-1zM13 29h1v1h-1zM34 29h1v1h-1zM33 30h1v1h-1zM32 31h1v1h-1zM14 32h1v1h-1zM31 32h1v1h-1zM15 33h1v1h-1zM16 34h1v1h-1zM28 34h1v1h-1zM17 35h1v1h-1zM27 35h1v1h-1zM19 36h2v1h-2zM24 36h2v1h-2z"/><path fill="#c34e9c" d="M24 11h3v1h-3zM21 12h1v1h-1zM29 12h1v1h-1zM20 13h1v1h-1zM18 14h1v1h-1zM17 15h1v1h-1zM32 15h1v1h-1zM33 16h1v1h-1zM33 17h1v1h-1zM13 19h1v1h-1zM13 20h1v1h-1zM34 20h1v1h-1zM34 21h1v1h-1zM34 22h1v1h-1zM13 25h1v1h-1zM13 26h1v1h-1zM13 27h1v1h-1zM34 27h1v1h-1zM34 28h1v1h-1zM14 30h1v1h-1zM14 31h1v1h-1zM15 32h1v1h-1zM30 32h1v1h-1zM29 33h1v1h-1zM27 34h1v1h-1zM18 35h1v1h-1zM26 35h1v1h-1zM21 36h3v1h-3z"/><path fill="#c64b9c" d="M22 12h2v1h-2zM27 12h2v1h-2zM30 13h1v1h-1zM19 14h1v1h-1zM31 14h1v1h-1zM16 16h1v1h-1zM15 17h1v1h-1zM33 18h1v1h-1zM13 21h1v1h-1zM13 22h1v1h-1zM13 23h1v1h-1zM34 23h1v1h-1zM13 24h1v1h-1zM34 24h1v1h-1zM34 25h1v1h-1zM34 26h1v1h-1zM14 29h1v1h-1zM32 30h1v1h-1zM31 31h1v1h-1zM16 33h1v1h-1zM28 33h1v1h-1zM17 34h1v1h-1zM19 35h2v1h-2zM24 35h2v1h-2z"/><path fill="#c94b9c" d="M24 12h3v1h-3zM21 13h1v1h-1zM29 13h1v1h-1zM20 14h1v1h-1zM30 14h1v1h-1zM18 15h1v1h-1zM31 15h1v1h-1zM17 16h1v1h-1zM32 16h1v1h-1zM16 17h1v1h-1zM32 17h1v1h-1zM15 18h1v1h-1zM14 19h1v1h-1zM33 19h1v1h-1zM33 20h1v1h-1zM33 21h1v1h-1zM14 26h1v1h-1zM14 27h1v1h-1zM14 28h1v1h-1zM33 28h1v1h-1zM32 29h1v1h-1zM15 30h1v1h-1zM31 30h1v1h-1zM15 31h1v1h-1zM30 31h1v1h-1zM16 32h1v1h-1zM29 32h1v1h-1zM17 33h1v1h-1zM27 33h1v1h-1zM18 34h1v1h-1zM26 34h1v1h-1zM21 35h3v1h-3z"/><path fill="#cc4b9c" d="M22 13h1v1h-1zM27 13h2v1h-2zM19 15h1v1h-1zM32 18h1v1h-1zM14 20h1v1h-1zM14 21h1v1h-1zM33 22h1v1h-1zM33 23h1v1h-1zM14 24h1v1h-1zM14 25h1v1h-1zM33 26h1v1h-1zM33 27h1v1h-1zM15 29h1v1h-1zM28 32h1v1h-1zM19 34h2v1h-2zM25 34h1v1h-1z"/><path fill="#cc4b99" d="M23 13h1v1h-1zM29 14h1v1h-1zM18 16h1v1h-1zM31 16h1v1h-1zM14 22h1v1h-1zM14 23h1v1h-1zM33 24h1v1h-1zM33 25h1v1h-1zM16 31h1v1h-1zM29 31h1v1h-1zM18 33h1v1h-1zM24 34h1v1h-1z"/><path fill="#cc4899" d="M24 13h1v1h-1zM26 13h1v1h-1zM21 14h1v1h-1zM30 15h1v1h-1zM15 19h1v1h-1zM32 19h1v1h-1zM15 28h1v1h-1zM32 28h1v1h-1zM17 32h1v1h-1zM26 33h1v1h-1zM21 34h1v1h-1zM23 34h1v1h-1z"/><path fill="#cc4896" d="M25 13h1v1h-1zM28 14h1v1h-1zM20 15h1v1h-1zM17 17h1v1h-1zM16 18h1v1h-1zM32 20h1v1h-1zM15 27h1v1h-1zM31 29h1v1h-1zM30 30h1v1h-1zM27 32h1v1h-1zM19 33h1v1h-1zM22 34h1v1h-1z"/><path fill="#cc4893" d="M22 14h1v1h-1zM19 16h1v1h-1zM31 17h1v1h-1zM15 20h1v1h-1zM32 21h1v1h-1zM15 26h1v1h-1zM32 27h1v1h-1zM16 30h1v1h-1zM28 31h1v1h-1zM25 33h1v1h-1z"/><path fill="#cf4590" d="M23 14h1v1h-1zM27 14h1v1h-1zM29 15h1v1h-1zM30 16h1v1h-1zM18 17h1v1h-1zM31 18h1v1h-1zM15 21h1v1h-1zM32 22h1v1h-1zM32 23h1v1h-1zM15 24h1v1h-1zM15 25h1v1h-1zM32 26h1v1h-1zM16 29h1v1h-1zM29 30h1v1h-1zM17 31h1v1h-1zM18 32h1v1h-1zM20 33h1v1h-1zM24 33h1v1h-1z"/><path fill="#cf458d" d="M24 14h3v1h-3zM21 15h1v1h-1zM17 18h1v1h-1zM16 19h1v1h-1zM15 22h1v1h-1zM15 23h1v1h-1zM32 24h1v1h-1zM32 25h1v1h-1zM31 28h1v1h-1zM30 29h1v1h-1zM26 32h1v1h-1zM21 33h3v1h-3z"/><path fill="#cf4287" d="M22 15h1v1h-1zM27 15h1v1h-1zM19 17h1v1h-1zM16 20h1v1h-1zM31 21h1v1h-1zM16 26h1v1h-1zM31 27h1v1h-1zM28 30h1v1h-1zM20 32h1v1h-1zM25 32h1v1h-1z"/><path fill="#cf3f84" d="M23 15h1v1h-1zM26 15h1v1h-1zM21 16h1v1h-1zM18 18h1v1h-1zM30 18h1v1h-1zM17 19h1v1h-1zM16 21h1v1h-1zM31 22h1v1h-1zM16 25h1v1h-1zM31 26h1v1h-1zM30 28h1v1h-1zM17 29h1v1h-1zM29 29h1v1h-1zM26 31h1v1h-1zM21 32h1v1h-1zM24 32h1v1h-1z"/><path fill="#cf3f81" d="M24 15h2v1h-2zM28 16h1v1h-1zM20 17h1v1h-1zM29 17h1v1h-1zM30 19h1v1h-1zM16 22h1v1h-1zM16 23h1v1h-1zM31 23h1v1h-1zM16 24h1v1h-1zM31 24h1v1h-1zM31 25h1v1h-1zM17 28h1v1h-1zM18 30h1v1h-1zM27 30h1v1h-1zM19 31h1v1h-1zM22 32h2v1h-2z"/><path fill="#cf428a" d="M28 15h1v1h-1zM20 16h1v1h-1zM29 16h1v1h-1zM30 17h1v1h-1zM31 19h1v1h-1zM31 20h1v1h-1zM16 27h1v1h-1zM16 28h1v1h-1zM17 30h1v1h-1zM18 31h1v1h-1zM27 31h1v1h-1zM19 32h1v1h-1z"/><path fill="#d23f7e" d="M22 16h1v1h-1zM27 16h1v1h-1zM19 18h1v1h-1zM18 19h1v1h-1zM17 20h1v1h-1zM30 20h1v1h-1zM17 27h1v1h-1zM30 27h1v1h-1zM29 28h1v1h-1zM28 29h1v1h-1zM20 31h1v1h-1zM25 31h1v1h-1z"/><path fill="#d23f7b" d="M23 16h1v1h-1zM26 16h1v1h-1zM21 17h1v1h-1zM28 17h1v1h-1zM29 18h1v1h-1zM17 21h1v1h-1zM30 21h1v1h-1zM30 22h1v1h-1zM17 25h1v1h-1zM17 26h1v1h-1zM30 26h1v1h-1zM18 29h1v1h-1zM19 30h1v1h-1zM26 30h1v1h-1zM21 31h1v1h-1zM24 31h1v1h-1z"/><path fill="#d23c7b" d="M24 16h2v1h-2zM22 31h2v1h-2z"/><path fill="#d23c78" d="M22 17h1v1h-1zM27 17h1v1h-1zM20 18h1v1h-1zM19 19h1v1h-1zM29 19h1v1h-1zM18 20h1v1h-1zM17 22h1v1h-1zM17 23h1v1h-1zM30 23h1v1h-1zM17 24h1v1h-1zM30 24h1v1h-1zM30 25h1v1h-1zM29 27h1v1h-1zM18 28h1v1h-1zM28 28h1v1h-1zM27 29h1v1h-1zM20 30h1v1h-1zM25 30h1v1h-1z"/><path fill="#d53c72" d="M23 17h1v1h-1zM18 21h1v1h-1zM29 21h1v1h-1zM18 26h1v1h-1zM29 26h1v1h-1zM24 30h1v1h-1z"/><path fill="#d53f6c" d="M24 17h1v1h-1zM28 19h1v1h-1zM19 28h1v1h-1zM23 30h1v1h-1z"/><path fill="#d53f6f" d="M25 17h1v1h-1zM20 19h1v1h-1zM29 22h1v1h-1zM18 25h1v1h-1zM27 28h1v1h-1zM22 30h1v1h-1z"/><path fill="#d53c75" d="M26 17h1v1h-1zM21 18h1v1h-1zM26 29h1v1h-1zM21 30h1v1h-1z"/><path fill="#c64e9c" d="M14 18h1v1h-1zM33 29h1v1h-1z"/><path fill="#d53f63" d="M22 18h1v1h-1zM18 23h1v1h-1zM29 24h1v1h-1zM25 29h1v1h-1z"/><path fill="#d53f57" d="M23 18h1v1h-1zM27 19h1v1h-1zM19 21h1v1h-1zM28 26h1v1h-1zM20 28h1v1h-1zM24 29h1v1h-1z"/><path fill="#d53f51" d="M24 18h1v1h-1zM28 22h1v1h-1zM19 25h1v1h-1zM23 29h1v1h-1z"/><path fill="#d53f54" d="M25 18h1v1h-1zM20 20h1v1h-1zM28 21h1v1h-1zM19 26h1v1h-1zM27 27h1v1h-1zM22 29h1v1h-1z"/><path fill="#d53f5a" d="M26 18h1v1h-1zM21 19h1v1h-1zM26 28h1v1h-1zM21 29h1v1h-1z"/><path fill="#d53f69" d="M27 18h1v1h-1zM19 20h1v1h-1zM29 23h1v1h-1zM18 24h1v1h-1zM28 27h1v1h-1zM20 29h1v1h-1z"/><path fill="#d23c75" d="M28 18h1v1h-1zM29 20h1v1h-1zM18 27h1v1h-1zM19 29h1v1h-1z"/><path fill="#d53f4b" d="M22 19h1v1h-1zM19 22h1v1h-1zM28 23h1v1h-1zM19 24h1v1h-1zM28 25h1v1h-1zM25 28h1v1h-1z"/><path fill="#d54242" d="M23 19h1v1h-1zM20 21h1v1h-1zM27 26h1v1h-1zM24 28h1v1h-1z"/><path fill="#d5423f" d="M24 19h2v1h-2zM27 21h1v1h-1zM20 26h1v1h-1zM22 28h2v1h-2z"/><path fill="#d53f48" d="M26 19h1v1h-1zM27 20h1v1h-1zM19 23h1v1h-1zM28 24h1v1h-1zM20 27h1v1h-1zM21 28h1v1h-1z"/><path fill="#d53f45" d="M21 20h1v1h-1zM26 27h1v1h-1z"/><path fill="#d54239" d="M22 20h1v1h-1zM26 20h1v1h-1zM27 22h1v1h-1zM20 25h1v1h-1zM21 27h1v1h-1zM25 27h1v1h-1z"/><path fill="#d54533" d="M23 20h1v1h-1zM25 20h1v1h-1zM26 21h1v1h-1zM21 26h1v1h-1zM22 27h1v1h-1zM24 27h1v1h-1z"/><path fill="#d54833" d="M24 20h1v1h-1zM23 27h1v1h-1z"/><path fill="#d53f5d" d="M28 20h1v1h-1zM19 27h1v1h-1z"/><path fill="#d54536" d="M21 21h1v1h-1zM20 23h1v1h-1zM27 24h1v1h-1zM26 26h1v1h-1z"/><path fill="#d54830" d="M22 21h1v1h-1zM21 22h1v1h-1zM26 22h1v1h-1zM21 25h1v1h-1zM26 25h1v1h-1zM25 26h1v1h-1z"/><path fill="#d5482d" d="M23 21h1v1h-1zM25 21h1v1h-1zM21 23h1v1h-1zM26 23h1v1h-1zM21 24h1v1h-1zM26 24h1v1h-1zM22 26h1v1h-1zM24 26h1v1h-1z"/><path fill="#d54b2d" d="M24 21h1v1h-1zM22 22h4v1h-4zM22 23h4v1h-4zM22 24h4v1h-4zM22 25h4v1h-4zM23 26h1v1h-1z"/><path fill="#d53f66" d="M18 22h1v1h-1zM29 25h1v1h-1z"/><path fill="#d54539" d="M20 22h1v1h-1zM27 23h1v1h-1zM20 24h1v1h-1zM27 25h1v1h-1z"/></g></g>
<rect x="610" y="29" width="2.2" height="184.4" fill="url(#ew)"/>
<rect x="792.1" y="29" width="2.2" height="184.4" fill="url(#ew)" transform="rotate(180 793.2 121.2)"/>
<rect x="610" y="29" width="184.3" height="2.2" fill="url(#ewv)"/>
<rect x="610" y="211.2" width="184.3" height="2.2" fill="url(#ewv2)"/>
<circle cx="610" cy="29" r="12" fill="url(#cw)"/>
<circle cx="794.3" cy="29" r="12" fill="url(#cw)"/>
<circle cx="610" cy="213.4" r="12" fill="url(#cw)"/>
<circle cx="794.3" cy="213.4" r="12" fill="url(#cw)"/>
</g>
<g clip-path="url(#ca)"><path class="sh" d="M61.62 209.91L67.41 207.98M61.47 197.07L67.47 195.97M61.4 184.08L67.5 184.02M61.49 170.93L67.46 172.14M61.84 157.62L67.32 160.32M62.62 144.26L66.99 148.52M63.95 131.08L66.43 136.65M65.7 118.45L65.7 124.55M67.45 106.57L64.97 112.14M68.78 95.23L64.41 99.49M69.56 84.08L64.08 86.77M69.91 72.87L63.94 74.08M70 61.51L63.9 61.45M69.93 49.98L63.93 48.88M69.78 38.31L63.99 36.38M74.06 210.45L79.54 207.76M73.84 197.65L79.63 195.72M73.67 184.7L79.7 183.76M73.63 171.54L79.72 171.88M73.84 158.16L79.63 160.09M74.53 144.62L79.34 148.37M75.91 131.21L78.76 136.6M77.92 118.45L77.92 124.55M79.93 106.69L77.08 112.08M81.32 95.6L76.5 99.34M82 84.62L76.21 86.55M82.21 73.48L76.12 73.82M82.17 62.13L76.14 61.19M82 50.57L76.21 48.64M81.78 38.85L76.31 36.16M86.61 211L91.62 207.52M86.33 198.28L91.74 195.46M86.06 185.4L91.85 183.47M85.87 172.28L91.93 171.57M85.89 158.86L91.92 159.8M86.4 145.14L91.71 148.15M87.79 131.41L91.13 136.51M90.14 118.45L90.14 124.55M92.49 106.89L89.16 112M93.88 96.12L88.58 99.12M94.39 85.32L88.36 86.26M94.41 74.22L88.35 73.51M94.22 62.82L88.44 60.9M93.95 51.2L88.55 48.37M93.67 39.4L88.66 35.92M99.29 211.55L103.65 207.29M98.97 198.93L103.79 195.19M98.62 186.16L103.93 183.15M98.28 173.14L104.07 171.21M98.07 159.76L104.16 159.42M98.28 145.9L104.07 147.83M99.57 131.74L103.54 136.37M102.36 118.45L102.36 124.55M105.16 107.23L101.19 111.86M106.44 96.88L100.66 98.8M106.66 86.22L100.57 85.88M106.44 75.08L100.66 73.15M106.11 63.58L100.8 60.58M105.76 51.85L100.94 48.1M105.44 39.95L101.08 35.69M112.1 212.06L115.63 207.08M111.79 199.56L115.76 194.93M111.41 186.93L115.92 182.82M110.96 174.09L116.1 170.81M110.51 160.88L116.29 158.95M110.29 147.03L116.38 147.36M111.19 132.37L116.01 136.11M114.59 118.45L114.59 124.55M117.98 107.85L113.16 111.6M118.88 98L112.79 98.34M118.67 87.34L112.88 85.41M118.21 76.04L113.07 72.75M117.76 64.36L113.26 60.25M117.38 52.47L113.41 47.84M117.07 40.46L113.55 35.48M125.05 212.48L127.54 206.91M124.8 200.09L127.65 194.7M124.46 187.64L127.79 182.53M124.01 175.04L127.98 170.41M123.41 162.16L128.23 158.42M122.73 148.62L128.51 146.7M122.73 133.65L128.51 135.58M126.81 118.45L126.81 124.55M130.89 109.13L125.1 111.06M130.89 99.6L125.1 97.67M130.2 88.62L125.39 84.87M129.61 76.99L125.64 72.35M129.16 65.07L125.82 59.96M128.82 53.01L125.96 47.62M128.56 40.88L126.07 35.31M138.12 212.75L139.41 206.79M137.97 200.46L139.47 194.55M137.77 188.15L139.56 182.31M137.48 175.79L139.68 170.1M137.02 163.32L139.87 157.93M136.23 150.53L140.2 145.9M134.95 136.37L140.74 134.44M139.03 118.45L139.03 124.55M143.11 111.85L137.32 109.92M141.83 101.5L137.86 96.87M141.04 89.78L138.19 84.39M140.58 77.73L138.38 72.04M140.29 65.58L138.5 59.74M140.09 53.38L138.59 47.46M139.94 41.15L138.65 35.19M151.25 212.85L151.25 206.75M151.25 200.59L151.25 194.49M151.25 188.34L151.25 182.24M151.25 176.08L151.25 169.98M151.25 163.82L151.25 157.72M151.25 151.56L151.25 145.46M151.25 139.31L151.25 133.21M151.25 127.05L151.25 120.95M151.25 114.79L151.25 108.69M151.25 102.54L151.25 96.44M151.25 90.28L151.25 84.18M151.25 78.02L151.25 71.92M151.25 65.76L151.25 59.66M151.25 53.51L151.25 47.41M151.25 41.25L151.25 35.15M164.38 212.75L163.09 206.79M164.53 200.46L163.03 194.55M164.73 188.15L162.94 182.31M165.02 175.79L162.82 170.1M165.48 163.32L162.63 157.93M166.27 150.53L162.3 145.9M167.55 136.37L161.76 134.44M163.47 118.45L163.47 124.55M159.39 111.85L165.18 109.92M160.67 101.5L164.64 96.87M161.46 89.78L164.31 84.39M161.92 77.73L164.12 72.04M162.21 65.58L164 59.74M162.41 53.38L163.91 47.46M162.56 41.15L163.85 35.19M177.45 212.48L174.96 206.91M177.7 200.09L174.85 194.7M178.04 187.64L174.71 182.53M178.49 175.04L174.52 170.41M179.09 162.16L174.27 158.42M179.77 148.62L173.99 146.7M179.77 133.65L173.99 135.58M175.69 118.45L175.69 124.55M171.61 109.13L177.4 111.06M171.61 99.6L177.4 97.67M172.3 88.62L177.11 84.87M172.89 76.99L176.86 72.35M173.34 65.07L176.68 59.96M173.68 53.01L176.54 47.62M173.94 40.88L176.43 35.31M190.4 212.06L186.87 207.08M190.71 199.56L186.74 194.93M191.09 186.93L186.58 182.82M191.54 174.09L186.4 170.81M191.99 160.88L186.21 158.95M192.21 147.03L186.12 147.36M191.31 132.37L186.49 136.11M187.91 118.45L187.91 124.55M184.52 107.85L189.34 111.6M183.62 98L189.71 98.34M183.83 87.34L189.62 85.41M184.29 76.04L189.43 72.75M184.74 64.36L189.24 60.25M185.12 52.47L189.09 47.84M185.43 40.46L188.95 35.48M203.21 211.55L198.85 207.29M203.53 198.93L198.71 195.19M203.88 186.16L198.57 183.15M204.22 173.14L198.43 171.21M204.43 159.76L198.34 159.42M204.22 145.9L198.43 147.83M202.93 131.74L198.96 136.37M200.14 118.45L200.14 124.55M197.34 107.23L201.31 111.86M196.06 96.88L201.84 98.8M195.84 86.22L201.93 85.88M196.06 75.08L201.84 73.15M196.39 63.58L201.7 60.58M196.74 51.85L201.56 48.1M197.06 39.95L201.42 35.69M215.89 211L210.88 207.52M216.17 198.28L210.76 195.46M216.44 185.4L210.65 183.47M216.63 172.28L210.57 171.57M216.61 158.86L210.58 159.8M216.1 145.14L210.79 148.15M214.71 131.41L211.37 136.51M212.36 118.45L212.36 124.55M210.01 106.89L213.34 112M208.62 96.12L213.92 99.12M208.11 85.32L214.14 86.26M208.09 74.22L214.15 73.51M208.28 62.82L214.06 60.9M208.55 51.2L213.95 48.37M208.83 39.4L213.84 35.92M228.44 210.45L222.96 207.76M228.66 197.65L222.87 195.72M228.83 184.7L222.8 183.76M228.87 171.54L222.78 171.88M228.66 158.16L222.87 160.09M227.97 144.62L223.16 148.37M226.59 131.21L223.74 136.6M224.58 118.45L224.58 124.55M222.57 106.69L225.42 112.08M221.18 95.6L226 99.34M220.5 84.62L226.29 86.55M220.29 73.48L226.38 73.82M220.33 62.13L226.36 61.19M220.5 50.57L226.29 48.64M220.72 38.85L226.19 36.16M240.88 209.91L235.09 207.98M241.03 197.07L235.03 195.97M241.1 184.08L235 184.02M241.01 170.93L235.04 172.14M240.66 157.62L235.18 160.32M239.88 144.26L235.51 148.52M238.55 131.08L236.07 136.65M236.8 118.45L236.8 124.55M235.05 106.57L237.53 112.14M233.72 95.23L238.09 99.49M232.94 84.08L238.42 86.77M232.59 72.87L238.56 74.08M232.5 61.51L238.6 61.45M232.57 49.98L238.57 48.88M232.72 38.31L238.51 36.38"/><path class="hd" d="M69.78 207.19L66.96 209.18L66.33 207.29ZM69.93 195.52L66.86 197.1L66.5 195.13ZM70 183.99L66.71 185.03L66.69 183.03ZM69.91 172.63L66.48 172.96L66.88 171ZM69.56 161.42L66.16 160.86L67.04 159.07ZM68.78 150.27L65.72 148.68L67.11 147.25ZM67.45 138.93L65.19 136.33L67.02 135.51ZM65.7 127.05L64.7 123.75L66.7 123.75ZM63.95 114.42L64.38 111L66.21 111.81ZM62.62 101.24L64.29 98.22L65.68 99.65ZM61.84 87.88L64.36 85.52L65.24 87.32ZM61.49 74.57L64.52 72.94L64.92 74.9ZM61.4 61.42L64.71 60.45L64.69 62.45ZM61.47 48.43L64.9 48.04L64.54 50.01ZM61.62 35.59L65.07 35.69L64.44 37.58ZM81.78 206.65L79.26 209.01L78.38 207.21ZM82 194.93L79.19 196.93L78.55 195.03ZM82.17 183.37L79.06 184.87L78.76 182.89ZM82.21 172.02L78.86 172.83L78.98 170.84ZM82 160.88L78.55 160.79L79.19 158.89ZM81.32 149.9L78.1 148.67L79.32 147.09ZM79.93 138.81L77.51 136.36L79.27 135.42ZM77.92 127.05L76.92 123.75L78.92 123.75ZM75.91 114.29L76.57 110.91L78.34 111.84ZM74.53 100.88L76.52 98.06L77.75 99.64ZM73.84 87.34L76.66 85.35L77.29 87.24ZM73.63 73.96L76.87 72.78L76.98 74.78ZM73.67 60.8L77.09 60.32L76.78 62.3ZM73.84 47.85L77.29 47.94L76.66 49.84ZM74.06 35.05L77.47 35.61L76.58 37.41ZM93.67 206.1L91.53 208.8L90.39 207.16ZM93.95 194.3L91.49 196.72L90.57 194.94ZM94.22 182.68L91.41 184.67L90.78 182.77ZM94.41 171.28L91.25 172.66L91.02 170.67ZM94.39 160.18L90.98 160.66L91.28 158.69ZM93.88 149.38L90.52 148.63L91.51 146.89ZM92.49 138.61L89.85 136.39L91.53 135.3ZM90.14 127.05L89.14 123.75L91.14 123.75ZM87.79 114.09L88.76 110.78L90.43 111.88ZM86.4 100.36L88.78 97.86L89.77 99.6ZM85.89 86.64L89 85.14L89.31 87.12ZM85.87 73.22L89.27 72.61L89.03 74.6ZM86.06 60.1L89.51 60.2L88.88 62.1ZM86.33 47.22L89.72 47.86L88.79 49.63ZM86.61 34.5L89.89 35.56L88.75 37.2ZM105.44 205.55L103.78 208.57L102.38 207.14ZM105.76 193.65L103.77 196.47L102.54 194.89ZM106.11 181.92L103.73 184.41L102.74 182.67ZM106.44 170.42L103.63 172.41L103 170.51ZM106.66 159.28L103.42 160.46L103.31 158.47ZM106.44 148.62L103 148.53L103.63 146.63ZM105.16 138.27L102.26 136.42L103.77 135.12ZM102.36 127.05L101.36 123.75L103.36 123.75ZM99.57 113.76L100.95 110.6L102.47 111.9ZM98.28 99.6L101.1 97.6L101.73 99.5ZM98.07 85.74L101.42 84.92L101.31 86.92ZM98.28 72.36L101.73 72.46L101.1 74.35ZM98.62 59.34L101.99 60.1L101 61.84ZM98.97 46.57L102.19 47.8L100.96 49.38ZM99.29 33.95L102.35 35.54L100.95 36.97ZM117.07 205.04L115.98 208.31L114.35 207.16ZM117.38 193.03L116 196.18L114.48 194.88ZM117.76 181.14L116 184.1L114.65 182.62ZM118.21 169.46L115.97 172.08L114.89 170.4ZM118.67 158.16L115.85 160.15L115.22 158.26ZM118.88 147.5L115.53 148.32L115.64 146.32ZM117.98 137.65L114.76 136.41L115.99 134.83ZM114.59 127.05L113.59 123.75L115.59 123.75ZM111.19 113.13L113.18 110.32L114.41 111.9ZM110.29 98.47L113.53 97.29L113.64 99.29ZM110.51 84.62L113.95 84.71L113.32 86.61ZM110.96 71.41L114.28 72.34L113.2 74.03ZM111.41 58.57L114.52 60.05L113.17 61.53ZM111.79 45.94L114.69 47.8L113.18 49.1ZM112.1 33.44L114.82 35.56L113.19 36.71ZM128.56 204.62L128.13 208.04L126.3 207.23ZM128.82 192.49L128.16 195.88L126.39 194.94ZM129.16 180.43L128.19 183.74L126.52 182.65ZM129.61 168.51L128.22 171.67L126.7 170.37ZM130.2 156.88L128.21 159.7L126.98 158.12ZM130.89 145.9L128.07 147.9L127.44 146ZM130.89 136.37L127.44 136.27L128.07 134.37ZM126.81 127.05L125.81 123.75L127.81 123.75ZM122.73 111.85L125.54 109.86L126.17 111.76ZM122.73 96.88L126.17 96.97L125.54 98.87ZM123.41 83.34L126.63 84.58L125.4 86.15ZM124.01 70.46L126.92 72.31L125.4 73.61ZM124.46 57.86L127.1 60.08L125.42 61.17ZM124.8 45.41L127.22 47.86L125.46 48.79ZM125.05 33.02L127.31 35.63L125.49 36.44ZM139.94 204.35L140.22 207.78L138.26 207.36ZM140.09 192.12L140.24 195.57L138.3 195.08ZM140.29 179.92L140.28 183.37L138.37 182.79ZM140.58 167.77L140.32 171.21L138.46 170.49ZM141.04 155.72L140.38 159.11L138.61 158.17ZM141.83 144L140.44 147.16L138.92 145.85ZM143.11 133.65L140.29 135.64L139.66 133.74ZM139.03 127.05L138.03 123.75L140.03 123.75ZM134.95 109.13L138.4 109.23L137.76 111.13ZM136.23 94.97L139.14 96.83L137.62 98.13ZM137.02 82.18L139.44 84.63L137.68 85.56ZM137.48 69.71L139.6 72.43L137.74 73.15ZM137.77 57.35L139.69 60.22L137.78 60.8ZM137.97 45.04L139.75 47.99L137.81 48.48ZM138.12 32.75L139.79 35.76L137.84 36.18ZM151.25 204.25L152.25 207.55L150.25 207.55ZM151.25 191.99L152.25 195.29L150.25 195.29ZM151.25 179.74L152.25 183.04L150.25 183.04ZM151.25 167.48L152.25 170.78L150.25 170.78ZM151.25 155.22L152.25 158.52L150.25 158.52ZM151.25 142.96L152.25 146.26L150.25 146.26ZM151.25 130.71L152.25 134.01L150.25 134.01ZM151.25 118.45L152.25 121.75L150.25 121.75ZM151.25 106.19L152.25 109.49L150.25 109.49ZM151.25 93.94L152.25 97.24L150.25 97.24ZM151.25 81.68L152.25 84.98L150.25 84.98ZM151.25 69.42L152.25 72.72L150.25 72.72ZM151.25 57.16L152.25 60.46L150.25 60.46ZM151.25 44.91L152.25 48.21L150.25 48.21ZM151.25 32.65L152.25 35.95L150.25 35.95ZM162.56 204.35L164.24 207.36L162.28 207.78ZM162.41 192.12L164.2 195.08L162.26 195.57ZM162.21 179.92L164.13 182.79L162.22 183.37ZM161.92 167.77L164.04 170.49L162.18 171.21ZM161.46 155.72L163.89 158.17L162.12 159.11ZM160.67 144L163.58 145.85L162.06 147.16ZM159.39 133.65L162.84 133.74L162.21 135.64ZM163.47 127.05L162.47 123.75L164.47 123.75ZM167.55 109.13L164.74 111.13L164.1 109.23ZM166.27 94.97L164.88 98.13L163.36 96.83ZM165.48 82.18L164.82 85.56L163.06 84.63ZM165.02 69.71L164.76 73.15L162.9 72.43ZM164.73 57.35L164.72 60.8L162.81 60.22ZM164.53 45.04L164.69 48.48L162.75 47.99ZM164.38 32.75L164.66 36.18L162.71 35.76ZM173.94 204.62L176.2 207.23L174.37 208.04ZM173.68 192.49L176.11 194.94L174.34 195.88ZM173.34 180.43L175.98 182.65L174.31 183.74ZM172.89 168.51L175.8 170.37L174.28 171.67ZM172.3 156.88L175.52 158.12L174.29 159.7ZM171.61 145.9L175.06 146L174.43 147.9ZM171.61 136.37L174.43 134.37L175.06 136.27ZM175.69 127.05L174.69 123.75L176.69 123.75ZM179.77 111.85L176.33 111.76L176.96 109.86ZM179.77 96.88L176.96 98.87L176.33 96.97ZM179.09 83.34L177.1 86.15L175.87 84.58ZM178.49 70.46L177.1 73.61L175.58 72.31ZM178.04 57.86L177.08 61.17L175.4 60.08ZM177.7 45.41L177.04 48.79L175.28 47.86ZM177.45 33.02L177.01 36.44L175.19 35.63ZM185.43 205.04L188.15 207.16L186.52 208.31ZM185.12 193.03L188.02 194.88L186.5 196.18ZM184.74 181.14L187.85 182.62L186.5 184.1ZM184.29 169.46L187.61 170.4L186.53 172.08ZM183.83 158.16L187.28 158.26L186.65 160.15ZM183.62 147.5L186.86 146.32L186.97 148.32ZM184.52 137.65L186.51 134.83L187.74 136.41ZM187.91 127.05L186.91 123.75L188.91 123.75ZM191.31 113.13L188.09 111.9L189.32 110.32ZM192.21 98.47L188.86 99.29L188.97 97.29ZM191.99 84.62L189.18 86.61L188.55 84.71ZM191.54 71.41L189.3 74.03L188.22 72.34ZM191.09 58.57L189.33 61.53L187.98 60.05ZM190.71 45.94L189.32 49.1L187.81 47.8ZM190.4 33.44L189.31 36.71L187.68 35.56ZM197.06 205.55L200.12 207.14L198.72 208.57ZM196.74 193.65L199.96 194.89L198.73 196.47ZM196.39 181.92L199.76 182.67L198.77 184.41ZM196.06 170.42L199.5 170.51L198.87 172.41ZM195.84 159.28L199.19 158.47L199.08 160.46ZM196.06 148.62L198.87 146.63L199.5 148.53ZM197.34 138.27L198.73 135.12L200.24 136.42ZM200.14 127.05L199.14 123.75L201.14 123.75ZM202.93 113.76L200.03 111.9L201.55 110.6ZM204.22 99.6L200.77 99.5L201.4 97.6ZM204.43 85.74L201.19 86.92L201.08 84.92ZM204.22 72.36L201.4 74.35L200.77 72.46ZM203.88 59.34L201.5 61.84L200.51 60.1ZM203.53 46.57L201.54 49.38L200.31 47.8ZM203.21 33.95L201.55 36.97L200.15 35.54ZM208.83 206.1L212.11 207.16L210.97 208.8ZM208.55 194.3L211.93 194.94L211.01 196.72ZM208.28 182.68L211.72 182.77L211.09 184.67ZM208.09 171.28L211.48 170.67L211.25 172.66ZM208.11 160.18L211.22 158.69L211.52 160.66ZM208.62 149.38L210.99 146.89L211.98 148.63ZM210.01 138.61L210.97 135.3L212.65 136.39ZM212.36 127.05L211.36 123.75L213.36 123.75ZM214.71 114.09L212.07 111.88L213.74 110.78ZM216.1 100.36L212.73 99.6L213.72 97.86ZM216.61 86.64L213.19 87.12L213.5 85.14ZM216.63 73.22L213.47 74.6L213.23 72.61ZM216.44 60.1L213.62 62.1L212.99 60.2ZM216.17 47.22L213.71 49.63L212.78 47.86ZM215.89 34.5L213.75 37.2L212.61 35.56ZM220.72 206.65L224.12 207.21L223.24 209.01ZM220.5 194.93L223.95 195.03L223.31 196.93ZM220.33 183.37L223.74 182.89L223.44 184.87ZM220.29 172.02L223.52 170.84L223.64 172.83ZM220.5 160.88L223.31 158.89L223.95 160.79ZM221.18 149.9L223.18 147.09L224.4 148.67ZM222.57 138.81L223.23 135.42L224.99 136.36ZM224.58 127.05L223.58 123.75L225.58 123.75ZM226.59 114.29L224.16 111.84L225.93 110.91ZM227.97 100.88L224.75 99.64L225.98 98.06ZM228.66 87.34L225.21 87.24L225.84 85.35ZM228.87 73.96L225.52 74.78L225.63 72.78ZM228.83 60.8L225.72 62.3L225.41 60.32ZM228.66 47.85L225.84 49.84L225.21 47.94ZM228.44 35.05L225.92 37.41L225.03 35.61ZM232.72 207.19L236.17 207.29L235.54 209.18ZM232.57 195.52L236 195.13L235.64 197.1ZM232.5 183.99L235.81 183.03L235.79 185.03ZM232.59 172.63L235.62 171L236.02 172.96ZM232.94 161.42L235.46 159.07L236.34 160.86ZM233.72 150.27L235.39 147.25L236.78 148.68ZM235.05 138.93L235.48 135.51L237.31 136.33ZM236.8 127.05L235.8 123.75L237.8 123.75ZM238.55 114.42L236.29 111.81L238.12 111ZM239.88 101.24L236.82 99.65L238.21 98.22ZM240.66 87.88L237.26 87.32L238.14 85.52ZM241.01 74.57L237.58 74.9L237.98 72.94ZM241.1 61.42L237.81 62.45L237.79 60.45ZM241.03 48.43L237.96 50.01L237.6 48.04ZM240.88 35.59L238.06 37.58L237.43 35.69Z"/></g>
<rect x="57.15" y="28.4" width="188.15" height="188.55" fill="none" stroke="#000" stroke-width="1.4"/>
<path d="M65.7 216.95v-2.8M65.7 28.4v2.8M57.15 208.55h2.8M245.3 208.55h-2.8M74.25 216.95v-1.7M74.25 28.4v1.7M57.15 199.97h1.7M245.3 199.97h-1.7M82.81 216.95v-1.7M82.81 28.4v1.7M57.15 191.39h1.7M245.3 191.39h-1.7M91.37 216.95v-1.7M91.37 28.4v1.7M57.15 182.81h1.7M245.3 182.81h-1.7M99.92 216.95v-1.7M99.92 28.4v1.7M57.15 174.23h1.7M245.3 174.23h-1.7M108.47 216.95v-2.8M108.47 28.4v2.8M57.15 165.65h2.8M245.3 165.65h-2.8M117.03 216.95v-1.7M117.03 28.4v1.7M57.15 157.07h1.7M245.3 157.07h-1.7M125.59 216.95v-1.7M125.59 28.4v1.7M57.15 148.49h1.7M245.3 148.49h-1.7M134.14 216.95v-1.7M134.14 28.4v1.7M57.15 139.91h1.7M245.3 139.91h-1.7M142.69 216.95v-1.7M142.69 28.4v1.7M57.15 131.33h1.7M245.3 131.33h-1.7M151.25 216.95v-2.8M151.25 28.4v2.8M57.15 122.75h2.8M245.3 122.75h-2.8M159.81 216.95v-1.7M159.81 28.4v1.7M57.15 114.17h1.7M245.3 114.17h-1.7M168.36 216.95v-1.7M168.36 28.4v1.7M57.15 105.59h1.7M245.3 105.59h-1.7M176.91 216.95v-1.7M176.91 28.4v1.7M57.15 97.01h1.7M245.3 97.01h-1.7M185.47 216.95v-1.7M185.47 28.4v1.7M57.15 88.43h1.7M245.3 88.43h-1.7M194.03 216.95v-2.8M194.03 28.4v2.8M57.15 79.85h2.8M245.3 79.85h-2.8M202.58 216.95v-1.7M202.58 28.4v1.7M57.15 71.27h1.7M245.3 71.27h-1.7M211.13 216.95v-1.7M211.13 28.4v1.7M57.15 62.69h1.7M245.3 62.69h-1.7M219.69 216.95v-1.7M219.69 28.4v1.7M57.15 54.11h1.7M245.3 54.11h-1.7M228.25 216.95v-1.7M228.25 28.4v1.7M57.15 45.53h1.7M245.3 45.53h-1.7M236.8 216.95v-2.8M236.8 28.4v2.8M57.15 36.95h2.8M245.3 36.95h-2.8" stroke="#000" stroke-width="0.9" fill="none"/>
<g clip-path="url(#cb)"><path class="sh" d="M331.62 208.84L337.41 210.77M332.14 195.3L337.19 198.72M333.15 181.77L336.77 186.68M334.74 168.55L336.1 174.5M336.68 156.07L335.29 162.01M338.45 144.46L334.55 149.16M339.61 133.49L334.06 136.04M340 122.8L333.9 122.8M339.61 112.11L334.06 109.56M338.45 101.14L334.55 96.44M336.68 89.53L335.29 83.59M334.74 77.05L336.1 71.1M333.15 63.83L336.77 58.92M332.14 50.3L337.19 46.88M331.62 36.76L337.41 34.83M343.91 209.89L350 210.33M344.12 196.35L349.91 198.28M344.77 182.64L349.64 186.31M346.12 168.98L349.07 174.32M348.2 155.96L348.2 162.06M350.41 144.08L347.27 149.31M351.96 133.21L346.62 136.16M352.5 122.8L346.4 122.8M351.96 112.39L346.62 109.44M350.41 101.52L347.27 96.29M348.2 89.64L348.2 83.54M346.12 76.62L349.07 71.28M344.77 62.96L349.64 59.29M344.12 49.25L349.91 47.32M343.91 35.71L350 35.27M356.47 211L362.47 209.87M356.4 197.58L362.5 197.77M356.62 183.87L362.41 185.8M357.48 169.9L362.05 173.93M359.38 156.16L361.25 161.97M362.07 143.7L360.13 149.48M364.23 132.83L359.22 136.31M365 122.8L358.9 122.8M364.23 112.77L359.22 109.29M362.07 101.9L360.13 96.12M359.38 89.44L361.25 83.63M357.48 75.7L362.05 71.67M356.62 61.73L362.41 59.8M356.4 48.02L362.5 47.83M356.47 34.6L362.47 35.73M369.33 212.08L374.82 209.41M369.06 198.88L374.93 197.23M368.9 185.36L375 185.18M369.12 171.38L374.91 173.31M370.34 157.04L374.4 161.6M373.2 143.47L373.2 149.57M376.3 132.31L371.9 136.53M377.5 122.8L371.4 122.8M376.3 113.29L371.9 109.07M373.2 102.13L373.2 96.03M370.34 88.56L374.4 84M369.12 74.22L374.91 72.29M368.9 60.24L375 60.42M369.06 46.72L374.93 48.37M369.33 33.52L374.82 36.19M382.48 213.05L387.05 209.01M382.12 200.1L387.2 196.72M381.74 186.9L387.36 184.53M381.43 173.26L387.49 172.53M381.62 158.9L387.41 160.83M383.62 144.01L386.57 149.35M387.91 131.6L384.77 136.83M390 122.8L383.9 122.8M387.91 114L384.77 108.77M383.62 101.59L386.57 96.25M381.62 86.7L387.41 84.77M381.43 72.34L387.49 73.07M381.74 58.7L387.36 61.07M382.12 45.5L387.2 48.88M382.48 32.55L387.05 36.59M395.89 213.83L399.17 208.68M395.56 201.11L399.31 196.29M395.14 188.25L399.48 183.96M394.62 175.13L399.7 171.74M394.06 161.42L399.93 159.77M394.12 146.41L399.91 148.34M398.2 130.99L398.2 137.09M402.5 122.8L396.4 122.8M398.2 114.61L398.2 108.51M394.12 99.19L399.91 97.26M394.06 84.18L399.93 85.83M394.62 70.47L399.7 73.86M395.14 57.35L399.48 61.64M395.56 44.49L399.31 49.31M395.89 31.77L399.17 36.92M409.49 214.33L411.21 208.47M409.3 201.78L411.29 196.01M409.03 189.19L411.4 183.57M408.65 176.52L411.56 171.16M408.06 163.65L411.81 158.84M407.12 150.16L412.2 146.77M406.62 133.93L412.41 135.85M415 122.8L408.9 122.8M406.62 111.67L412.41 109.75M407.12 95.44L412.2 98.83M408.06 81.95L411.81 86.76M408.65 69.08L411.56 74.44M409.03 56.41L411.4 62.03M409.3 43.82L411.29 49.59M409.49 31.27L411.21 37.13M423.2 214.5L423.2 208.4M423.2 202.01L423.2 195.91M423.2 189.53L423.2 183.43M423.2 177.04L423.2 170.94M423.2 164.56L423.2 158.46M423.2 152.07L423.2 145.97M423.2 139.59L423.2 133.49M423.2 127.1L423.2 121M423.2 106.01L423.2 112.11M423.2 93.53L423.2 99.63M423.2 81.04L423.2 87.14M423.2 68.56L423.2 74.66M423.2 56.07L423.2 62.17M423.2 43.59L423.2 49.69M423.2 31.1L423.2 37.2M436.91 214.33L435.19 208.47M437.1 201.78L435.11 196.01M437.37 189.19L435 183.57M437.75 176.52L434.84 171.16M438.34 163.65L434.59 158.84M439.28 150.16L434.2 146.77M439.78 133.93L433.99 135.85M431.4 122.8L437.5 122.8M439.78 111.67L433.99 109.75M439.28 95.44L434.2 98.83M438.34 81.95L434.59 86.76M437.75 69.08L434.84 74.44M437.37 56.41L435 62.03M437.1 43.82L435.11 49.59M436.91 31.27L435.19 37.13M450.51 213.83L447.23 208.68M450.84 201.11L447.09 196.29M451.26 188.25L446.92 183.96M451.78 175.13L446.7 171.74M452.34 161.42L446.47 159.77M452.28 146.41L446.49 148.34M448.2 130.99L448.2 137.09M443.9 122.8L450 122.8M448.2 114.61L448.2 108.51M452.28 99.19L446.49 97.26M452.34 84.18L446.47 85.83M451.78 70.47L446.7 73.86M451.26 57.35L446.92 61.64M450.84 44.49L447.09 49.31M450.51 31.77L447.23 36.92M463.92 213.05L459.35 209.01M464.28 200.1L459.2 196.72M464.66 186.9L459.04 184.53M464.97 173.26L458.91 172.53M464.78 158.9L458.99 160.83M462.78 144.01L459.83 149.35M458.49 131.6L461.63 136.83M456.4 122.8L462.5 122.8M458.49 114L461.63 108.77M462.78 101.59L459.83 96.25M464.78 86.7L458.99 84.77M464.97 72.34L458.91 73.07M464.66 58.7L459.04 61.07M464.28 45.5L459.2 48.88M463.92 32.55L459.35 36.59M477.07 212.08L471.58 209.41M477.34 198.88L471.47 197.23M477.5 185.36L471.4 185.18M477.28 171.38L471.49 173.31M476.06 157.04L472 161.6M473.2 143.47L473.2 149.57M470.1 132.31L474.5 136.53M468.9 122.8L475 122.8M470.1 113.29L474.5 109.07M473.2 102.13L473.2 96.03M476.06 88.56L472 84M477.28 74.22L471.49 72.29M477.5 60.24L471.4 60.42M477.34 46.72L471.47 48.37M477.07 33.52L471.58 36.19M489.93 211L483.93 209.87M490 197.58L483.9 197.77M489.78 183.87L483.99 185.8M488.92 169.9L484.35 173.93M487.02 156.16L485.15 161.97M484.33 143.7L486.27 149.48M482.17 132.83L487.18 136.31M481.4 122.8L487.5 122.8M482.17 112.77L487.18 109.29M484.33 101.9L486.27 96.12M487.02 89.44L485.15 83.63M488.92 75.7L484.35 71.67M489.78 61.73L483.99 59.8M490 48.02L483.9 47.83M489.93 34.6L483.93 35.73M502.49 209.89L496.4 210.33M502.28 196.35L496.49 198.28M501.63 182.64L496.76 186.31M500.28 168.98L497.33 174.32M498.2 155.96L498.2 162.06M495.99 144.08L499.13 149.31M494.44 133.21L499.78 136.16M493.9 122.8L500 122.8M494.44 112.39L499.78 109.44M495.99 101.52L499.13 96.29M498.2 89.64L498.2 83.54M500.28 76.62L497.33 71.28M501.63 62.96L496.76 59.29M502.28 49.25L496.49 47.32M502.49 35.71L496.4 35.27M514.78 208.84L508.99 210.77M514.26 195.3L509.21 198.72M513.25 181.77L509.63 186.68M511.66 168.55L510.3 174.5M509.72 156.07L511.11 162.01M507.95 144.46L511.85 149.16M506.79 133.49L512.34 136.04M506.4 122.8L512.5 122.8M506.79 112.11L512.34 109.56M507.95 101.14L511.85 96.44M509.72 89.53L511.11 83.59M511.66 77.05L510.3 71.1M513.25 63.83L509.63 58.92M514.26 50.3L509.21 46.88M514.78 36.76L508.99 34.83"/><path class="hd" d="M339.78 211.56L336.33 211.46L336.96 209.57ZM339.26 200.12L335.97 199.1L337.09 197.45ZM338.25 188.69L335.49 186.63L337.1 185.44ZM336.66 176.94L334.95 173.94L336.9 173.5ZM334.72 164.44L334.5 161L336.44 161.46ZM332.95 151.08L334.29 147.9L335.83 149.18ZM331.79 137.08L334.37 134.8L335.21 136.61ZM331.4 122.8L334.7 121.8L334.7 123.8ZM331.79 108.52L335.21 108.99L334.37 110.8ZM332.95 94.52L335.83 96.42L334.29 97.7ZM334.72 81.16L336.44 84.14L334.5 84.6ZM336.66 68.66L336.9 72.1L334.95 71.66ZM338.25 56.91L337.1 60.16L335.49 58.97ZM339.26 45.48L337.09 48.15L335.97 46.5ZM339.78 34.04L336.96 36.03L336.33 34.14ZM352.49 210.51L349.12 211.27L349.27 209.28ZM352.28 199.07L348.83 198.98L349.46 197.08ZM351.63 187.82L348.4 186.63L349.6 185.03ZM350.28 176.51L347.81 174.1L349.56 173.13ZM348.2 164.56L347.2 161.26L349.2 161.26ZM345.99 151.46L346.83 148.11L348.54 149.14ZM344.44 137.36L346.84 134.89L347.81 136.64ZM343.9 122.8L347.2 121.8L347.2 123.8ZM344.44 108.24L347.81 108.96L346.84 110.71ZM345.99 94.14L348.54 96.46L346.83 97.49ZM348.2 81.04L349.2 84.34L347.2 84.34ZM350.28 69.09L349.56 72.47L347.81 71.5ZM351.63 57.78L349.6 60.57L348.4 58.97ZM352.28 46.53L349.46 48.52L348.83 46.62ZM352.49 35.09L349.27 36.32L349.12 34.33ZM364.93 209.4L361.87 211L361.5 209.03ZM365 197.84L361.67 198.74L361.73 196.74ZM364.78 186.59L361.33 186.49L361.96 184.6ZM363.92 175.59L360.79 174.15L362.11 172.65ZM362.02 164.35L360.05 161.52L361.96 160.9ZM359.33 151.85L359.43 148.4L361.33 149.04ZM357.17 137.74L359.31 135.04L360.45 136.68ZM356.4 122.8L359.7 121.8L359.7 123.8ZM357.17 107.86L360.45 108.92L359.31 110.56ZM359.33 93.75L361.33 96.56L359.43 97.2ZM362.02 81.25L361.96 84.7L360.05 84.08ZM363.92 70.01L362.11 72.95L360.79 71.45ZM364.78 59.01L361.96 61L361.33 59.11ZM365 47.76L361.73 48.86L361.67 46.86ZM364.93 36.2L361.5 36.57L361.87 34.6ZM377.07 208.32L374.54 210.66L373.66 208.86ZM377.34 196.55L374.43 198.41L373.89 196.48ZM377.5 185.1L374.23 186.2L374.17 184.2ZM377.28 174.1L373.83 174.01L374.46 172.11ZM376.06 163.47L373.12 161.67L374.61 160.34ZM373.2 152.07L372.2 148.77L374.2 148.77ZM370.1 138.26L371.79 135.26L373.17 136.7ZM368.9 122.8L372.2 121.8L372.2 123.8ZM370.1 107.34L373.17 108.9L371.79 110.34ZM373.2 93.53L374.2 96.83L372.2 96.83ZM376.06 82.13L374.61 85.26L373.12 83.93ZM377.28 71.5L374.46 73.49L373.83 71.59ZM377.5 60.5L374.17 61.4L374.23 59.4ZM377.34 49.05L373.89 49.12L374.43 47.19ZM377.07 37.28L373.66 36.74L374.54 34.94ZM388.92 207.35L387.11 210.29L385.79 208.79ZM389.28 195.33L387.09 197.99L385.98 196.33ZM389.66 183.56L387.01 185.76L386.23 183.92ZM389.97 172.23L386.81 173.62L386.57 171.63ZM389.78 161.62L386.33 161.52L386.96 159.62ZM387.78 151.53L385.31 149.13L387.06 148.16ZM383.49 138.97L384.33 135.63L386.04 136.66ZM381.4 122.8L384.7 121.8L384.7 123.8ZM383.49 106.63L386.04 108.94L384.33 109.97ZM387.78 94.07L387.06 97.44L385.31 96.47ZM389.78 83.98L386.96 85.98L386.33 84.08ZM389.97 73.37L386.57 73.97L386.81 71.98ZM389.66 62.04L386.23 61.68L387.01 59.84ZM389.28 50.27L385.98 49.27L387.09 47.61ZM388.92 38.25L385.79 36.81L387.11 35.31ZM400.51 206.57L399.58 209.89L397.89 208.82ZM400.84 194.32L399.6 197.54L398.02 196.31ZM401.26 182.2L399.61 185.24L398.21 183.81ZM401.78 170.36L399.59 173.02L398.48 171.36ZM402.34 159.09L399.43 160.95L398.89 159.02ZM402.28 149.13L398.83 149.04L399.46 147.14ZM398.2 139.59L397.2 136.29L399.2 136.29ZM393.9 122.8L397.2 121.8L397.2 123.8ZM398.2 106.01L399.2 109.31L397.2 109.31ZM402.28 96.47L399.46 98.46L398.83 96.56ZM402.34 86.51L398.89 86.58L399.43 84.65ZM401.78 75.24L398.48 74.24L399.59 72.58ZM401.26 63.4L398.21 61.79L399.61 60.36ZM400.84 51.28L398.02 49.29L399.6 48.06ZM400.51 39.03L397.89 36.78L399.58 35.71ZM411.91 206.07L411.94 209.52L410.02 208.96ZM412.1 193.65L411.97 197.1L410.08 196.44ZM412.37 181.27L412.01 184.7L410.17 183.92ZM412.75 168.96L412.06 172.34L410.3 171.39ZM413.34 156.86L412.1 160.08L410.52 158.85ZM414.28 145.39L412.09 148.05L410.98 146.38ZM414.78 136.65L411.33 136.55L411.96 134.65ZM406.4 122.8L409.7 121.8L409.7 123.8ZM414.78 108.95L411.96 110.95L411.33 109.05ZM414.28 100.21L410.98 99.22L412.09 97.55ZM413.34 88.74L410.52 86.75L412.1 85.52ZM412.75 76.64L410.3 74.21L412.06 73.26ZM412.37 64.33L410.17 61.68L412.01 60.9ZM412.1 51.95L410.08 49.16L411.97 48.5ZM411.91 39.53L410.02 36.64L411.94 36.08ZM423.2 205.9L424.2 209.2L422.2 209.2ZM423.2 193.41L424.2 196.71L422.2 196.71ZM423.2 180.93L424.2 184.23L422.2 184.23ZM423.2 168.44L424.2 171.74L422.2 171.74ZM423.2 155.96L424.2 159.26L422.2 159.26ZM423.2 143.47L424.2 146.77L422.2 146.77ZM423.2 130.99L424.2 134.29L422.2 134.29ZM423.2 118.5L424.2 121.8L422.2 121.8ZM423.2 114.61L422.2 111.31L424.2 111.31ZM423.2 102.13L422.2 98.83L424.2 98.83ZM423.2 89.64L422.2 86.34L424.2 86.34ZM423.2 77.16L422.2 73.86L424.2 73.86ZM423.2 64.67L422.2 61.37L424.2 61.37ZM423.2 52.19L422.2 48.89L424.2 48.89ZM423.2 39.7L422.2 36.4L424.2 36.4ZM434.49 206.07L436.38 208.96L434.46 209.52ZM434.3 193.65L436.32 196.44L434.43 197.1ZM434.03 181.27L436.23 183.92L434.39 184.7ZM433.65 168.96L436.1 171.39L434.34 172.34ZM433.06 156.86L435.88 158.85L434.3 160.08ZM432.12 145.39L435.42 146.38L434.31 148.05ZM431.62 136.65L434.44 134.65L435.07 136.55ZM440 122.8L436.7 123.8L436.7 121.8ZM431.62 108.95L435.07 109.05L434.44 110.95ZM432.12 100.21L434.31 97.55L435.42 99.22ZM433.06 88.74L434.3 85.52L435.88 86.75ZM433.65 76.64L434.34 73.26L436.1 74.21ZM434.03 64.33L434.39 60.9L436.23 61.68ZM434.3 51.95L434.43 48.5L436.32 49.16ZM434.49 39.53L434.46 36.08L436.38 36.64ZM445.89 206.57L448.51 208.82L446.82 209.89ZM445.56 194.32L448.38 196.31L446.8 197.54ZM445.14 182.2L448.19 183.81L446.79 185.24ZM444.62 170.36L447.92 171.36L446.81 173.02ZM444.06 159.09L447.51 159.02L446.97 160.95ZM444.12 149.13L446.94 147.14L447.57 149.04ZM448.2 139.59L447.2 136.29L449.2 136.29ZM452.5 122.8L449.2 123.8L449.2 121.8ZM448.2 106.01L449.2 109.31L447.2 109.31ZM444.12 96.47L447.57 96.56L446.94 98.46ZM444.06 86.51L446.97 84.65L447.51 86.58ZM444.62 75.24L446.81 72.58L447.92 74.24ZM445.14 63.4L446.79 60.36L448.19 61.79ZM445.56 51.28L446.8 48.06L448.38 49.29ZM445.89 39.03L446.82 35.71L448.51 36.78ZM457.48 207.35L460.61 208.79L459.29 210.29ZM457.12 195.33L460.42 196.33L459.31 197.99ZM456.74 183.56L460.17 183.92L459.39 185.76ZM456.43 172.23L459.83 171.63L459.59 173.62ZM456.62 161.62L459.44 159.62L460.07 161.52ZM458.62 151.53L459.34 148.16L461.09 149.13ZM462.91 138.97L460.36 136.66L462.07 135.63ZM465 122.8L461.7 123.8L461.7 121.8ZM462.91 106.63L462.07 109.97L460.36 108.94ZM458.62 94.07L461.09 96.47L459.34 97.44ZM456.62 83.98L460.07 84.08L459.44 85.98ZM456.43 73.37L459.59 71.98L459.83 73.97ZM456.74 62.04L459.39 59.84L460.17 61.68ZM457.12 50.27L459.31 47.61L460.42 49.27ZM457.48 38.25L459.29 35.31L460.61 36.81ZM469.33 208.32L472.74 208.86L471.86 210.66ZM469.06 196.55L472.51 196.48L471.97 198.41ZM468.9 185.1L472.23 184.2L472.17 186.2ZM469.12 174.1L471.94 172.11L472.57 174.01ZM470.34 163.47L471.79 160.34L473.28 161.67ZM473.2 152.07L472.2 148.77L474.2 148.77ZM476.3 138.26L473.23 136.7L474.61 135.26ZM477.5 122.8L474.2 123.8L474.2 121.8ZM476.3 107.34L474.61 110.34L473.23 108.9ZM473.2 93.53L474.2 96.83L472.2 96.83ZM470.34 82.13L473.28 83.93L471.79 85.26ZM469.12 71.5L472.57 71.59L471.94 73.49ZM468.9 60.5L472.17 59.4L472.23 61.4ZM469.06 49.05L471.97 47.19L472.51 49.12ZM469.33 37.28L471.86 34.94L472.74 36.74ZM481.47 209.4L484.9 209.03L484.53 211ZM481.4 197.84L484.67 196.74L484.73 198.74ZM481.62 186.59L484.44 184.6L485.07 186.49ZM482.48 175.59L484.29 172.65L485.61 174.15ZM484.38 164.35L484.44 160.9L486.35 161.52ZM487.07 151.85L485.07 149.04L486.97 148.4ZM489.23 137.74L485.95 136.68L487.09 135.04ZM490 122.8L486.7 123.8L486.7 121.8ZM489.23 107.86L487.09 110.56L485.95 108.92ZM487.07 93.75L486.97 97.2L485.07 96.56ZM484.38 81.25L486.35 84.08L484.44 84.7ZM482.48 70.01L485.61 71.45L484.29 72.95ZM481.62 59.01L485.07 59.11L484.44 61ZM481.4 47.76L484.73 46.86L484.67 48.86ZM481.47 36.2L484.53 34.6L484.9 36.57ZM493.91 210.51L497.13 209.28L497.28 211.27ZM494.12 199.07L496.94 197.08L497.57 198.98ZM494.77 187.82L496.8 185.03L498 186.63ZM496.12 176.51L496.84 173.13L498.59 174.1ZM498.2 164.56L497.2 161.26L499.2 161.26ZM500.41 151.46L497.86 149.14L499.57 148.11ZM501.96 137.36L498.59 136.64L499.56 134.89ZM502.5 122.8L499.2 123.8L499.2 121.8ZM501.96 108.24L499.56 110.71L498.59 108.96ZM500.41 94.14L499.57 97.49L497.86 96.46ZM498.2 81.04L499.2 84.34L497.2 84.34ZM496.12 69.09L498.59 71.5L496.84 72.47ZM494.77 57.78L498 58.97L496.8 60.57ZM494.12 46.53L497.57 46.62L496.94 48.52ZM493.91 35.09L497.28 34.33L497.13 36.32ZM506.62 211.56L509.44 209.57L510.07 211.46ZM507.14 200.12L509.31 197.45L510.43 199.1ZM508.15 188.69L509.3 185.44L510.91 186.63ZM509.74 176.94L509.5 173.5L511.45 173.94ZM511.68 164.44L509.96 161.46L511.9 161ZM513.45 151.08L510.57 149.18L512.11 147.9ZM514.61 137.08L511.19 136.61L512.03 134.8ZM515 122.8L511.7 123.8L511.7 121.8ZM514.61 108.52L512.03 110.8L511.19 108.99ZM513.45 94.52L512.11 97.7L510.57 96.42ZM511.68 81.16L511.9 84.6L509.96 84.14ZM509.74 68.66L511.45 71.66L509.5 72.1ZM508.15 56.91L510.91 58.97L509.3 60.16ZM507.14 45.48L510.43 46.5L509.31 48.15ZM506.62 34.04L510.07 34.14L509.44 36.03Z"/></g>
<rect x="326.85" y="26.55" width="192.2" height="191.75" fill="none" stroke="#000" stroke-width="1.4"/>
<path d="M335.7 218.3v-2.8M335.7 26.55v2.8M326.85 210.2h2.8M519.05 210.2h-2.8M344.45 218.3v-1.7M344.45 26.55v1.7M326.85 201.46h1.7M519.05 201.46h-1.7M353.2 218.3v-1.7M353.2 26.55v1.7M326.85 192.72h1.7M519.05 192.72h-1.7M361.95 218.3v-1.7M361.95 26.55v1.7M326.85 183.98h1.7M519.05 183.98h-1.7M370.7 218.3v-1.7M370.7 26.55v1.7M326.85 175.24h1.7M519.05 175.24h-1.7M379.45 218.3v-2.8M379.45 26.55v2.8M326.85 166.5h2.8M519.05 166.5h-2.8M388.2 218.3v-1.7M388.2 26.55v1.7M326.85 157.76h1.7M519.05 157.76h-1.7M396.95 218.3v-1.7M396.95 26.55v1.7M326.85 149.02h1.7M519.05 149.02h-1.7M405.7 218.3v-1.7M405.7 26.55v1.7M326.85 140.28h1.7M519.05 140.28h-1.7M414.45 218.3v-1.7M414.45 26.55v1.7M326.85 131.54h1.7M519.05 131.54h-1.7M423.2 218.3v-2.8M423.2 26.55v2.8M326.85 122.8h2.8M519.05 122.8h-2.8M431.95 218.3v-1.7M431.95 26.55v1.7M326.85 114.06h1.7M519.05 114.06h-1.7M440.7 218.3v-1.7M440.7 26.55v1.7M326.85 105.32h1.7M519.05 105.32h-1.7M449.45 218.3v-1.7M449.45 26.55v1.7M326.85 96.58h1.7M519.05 96.58h-1.7M458.2 218.3v-1.7M458.2 26.55v1.7M326.85 87.84h1.7M519.05 87.84h-1.7M466.95 218.3v-2.8M466.95 26.55v2.8M326.85 79.1h2.8M519.05 79.1h-2.8M475.7 218.3v-1.7M475.7 26.55v1.7M326.85 70.36h1.7M519.05 70.36h-1.7M484.45 218.3v-1.7M484.45 26.55v1.7M326.85 61.62h1.7M519.05 61.62h-1.7M493.2 218.3v-1.7M493.2 26.55v1.7M326.85 52.88h1.7M519.05 52.88h-1.7M501.95 218.3v-1.7M501.95 26.55v1.7M326.85 44.14h1.7M519.05 44.14h-1.7M510.7 218.3v-2.8M510.7 26.55v2.8M326.85 35.4h2.8M519.05 35.4h-2.8" stroke="#000" stroke-width="0.9" fill="none"/>
<g clip-path="url(#cc)"><path class="sh" d="M611.32 209.76L617.11 207.83M611.14 196.54L617.18 195.74M611.12 183.09L617.19 183.73M611.45 169.41L617.05 171.83M612.39 155.62L616.66 159.97M614.16 142.14L615.92 147.98M616.49 129.67L614.95 135.57M618.44 118.36L614.13 122.67M619.48 107.61L613.69 109.54M619.69 96.87L613.61 96.41M619.32 85.89L613.76 83.37M618.57 74.59L614.07 70.47M617.59 62.96L614.48 57.71M616.5 50.99L614.94 45.09M615.4 38.7L615.4 32.6M624.06 210.47L629.41 207.54M623.75 197.33L629.54 195.4M623.55 183.95L629.62 183.37M623.61 170.27L629.59 171.47M624.25 156.3L629.33 159.68M625.91 142.41L628.63 147.87M628.53 129.59L627.54 135.6M630.87 118.36L626.56 122.67M631.99 107.9L626.09 109.42M632.05 97.39L626.06 96.19M631.41 86.5L626.33 83.12M630.36 75.16L626.77 70.23M629.11 63.36L627.29 57.54M627.83 51.13L627.83 45.03M626.64 38.53L628.32 32.67M636.96 211.16L641.64 207.24M636.55 198.15L641.81 195.06M636.18 184.9L641.96 182.97M635.96 171.3L642.06 171.04M636.2 157.25L641.95 159.29M637.53 142.93L641.4 147.65M640.4 129.53L640.2 135.63M643.3 118.36L638.98 122.67M644.51 108.31L638.48 109.25M644.28 98.05L638.57 95.91M643.24 87.21L639.01 82.82M641.8 75.7L639.61 70.01M640.26 63.56L640.26 57.46M638.86 50.89L640.84 45.13M637.75 37.89L641.31 32.94M650.06 211.81L653.78 206.97M649.59 198.96L653.98 194.72M649.08 185.89L654.19 182.56M648.61 172.47L654.39 170.55M648.39 158.51L654.48 158.76M649.11 143.87L654.18 147.26M652.01 129.58L652.97 135.61M655.73 118.36L651.41 122.67M656.99 108.89L650.89 109M656.26 98.93L651.19 95.54M654.61 87.96L651.88 82.5M652.69 75.99L652.69 69.89M650.98 63.2L653.4 57.61M649.75 49.97L653.91 45.51M649 36.62L654.23 33.47M663.37 212.33L665.85 206.76M662.9 199.66L666.04 194.43M662.34 186.83L666.28 182.17M661.68 173.71L666.55 170.03M661.03 160.05L666.82 158.12M660.9 145.41L666.88 146.61M663.19 129.98L665.92 135.44M668.15 118.36L663.84 122.67M669.33 109.81L663.35 108.62M667.65 100.02L664.05 95.09M665.11 88.41L665.11 82.31M662.94 75.4L666.02 70.13M661.63 61.78L666.57 58.2M661.03 48.19L666.82 46.26M660.83 34.82L666.91 34.22M676.88 212.65L677.82 206.62M676.5 200.14L677.98 194.23M676 187.56L678.19 181.86M675.33 174.8L678.47 169.57M674.45 161.67L678.84 157.44M673.46 147.62L679.25 145.69M673.97 131.44L679.04 134.83M680.58 118.36L676.27 122.67M681.12 111.36L676.05 107.97M677.54 100.84L677.54 94.74M674.61 87.26L678.77 82.8M673.46 73.05L679.25 71.12M673.24 59.29L679.34 59.24M673.33 45.99L679.31 47.18M673.49 32.96L679.24 35M690.57 212.66L689.72 206.62M690.35 200.25L689.81 194.18M690.05 187.84L689.94 181.74M689.61 175.4L690.12 169.32M688.93 162.86L690.41 156.94M687.76 149.94L690.9 144.71M685.89 135.19L691.68 133.26M693.01 118.36L688.7 122.67M689.97 113.27L689.97 107.17M685.89 97.9L691.68 95.97M685.75 83.27L691.74 84.47M686.09 69.83L691.6 72.46M686.39 56.87L691.47 60.26M686.63 44.12L691.37 47.96M686.81 31.49L691.3 35.62M704.32 212.25L701.6 206.79M704.32 199.82L701.6 194.36M704.32 187.39L701.6 181.93M704.32 174.96L701.6 169.5M704.32 162.53L701.6 157.08M704.32 150.1L701.6 144.65M704.32 137.67L701.6 132.22M702.4 125.7L702.4 119.6M700.48 105.13L703.2 110.58M700.48 92.7L703.2 98.15M700.48 80.27L703.2 85.72M700.48 67.84L703.2 73.3M700.48 55.41L703.2 60.87M700.48 42.98L703.2 48.44M700.48 30.55L703.2 36.01M717.99 211.31L713.5 207.18M718.17 198.68L713.43 194.84M718.41 185.93L713.33 182.54M718.71 172.97L713.2 170.34M719.05 159.53L713.06 158.33M718.91 144.9L713.12 146.83M714.83 129.53L714.83 135.63M711.79 124.44L716.1 120.13M718.91 107.61L713.12 109.54M717.04 92.86L713.9 98.09M715.87 79.94L714.39 85.86M715.19 67.4L714.68 73.48M714.75 54.96L714.86 61.06M714.45 42.55L714.99 48.62M714.23 30.14L715.08 36.18M731.31 209.84L725.56 207.8M731.47 196.81L725.49 195.62M731.56 183.51L725.46 183.56M731.34 169.75L725.55 171.68M730.19 155.54L726.03 160M727.26 141.96L727.26 148.06M723.68 131.44L728.75 134.83M724.22 124.44L728.53 120.13M730.83 111.36L725.76 107.97M731.34 95.18L725.55 97.11M730.35 81.13L725.96 85.36M729.47 68L726.33 73.23M728.8 55.24L726.61 60.94M728.3 42.66L726.82 48.57M727.92 30.15L726.98 36.18M743.97 207.98L737.89 208.58M743.77 194.61L737.98 196.54M743.17 181.02L738.23 184.6M741.86 167.4L738.78 172.67M739.69 154.39L739.69 160.49M737.15 142.78L740.75 147.71M735.47 132.99L741.45 134.18M736.65 124.44L740.96 120.13M741.61 112.82L738.88 107.36M743.9 97.39L737.92 96.19M743.77 82.75L737.98 84.68M743.12 69.09L738.25 72.77M742.46 55.97L738.52 60.63M741.9 43.14L738.76 48.37M741.43 30.47L738.95 36.04M755.8 206.18L750.57 209.33M755.05 192.83L750.89 197.29M753.82 179.6L751.4 185.19M752.11 166.81L752.11 172.91M750.19 154.84L752.92 160.3M748.54 143.87L753.61 147.26M747.81 133.91L753.91 133.8M749.07 124.44L753.39 120.13M752.79 113.22L751.83 107.19M755.69 98.93L750.62 95.54M756.41 84.29L750.32 84.04M756.19 70.33L750.41 72.25M755.72 56.91L750.61 60.24M755.21 43.84L750.82 48.08M754.74 30.99L751.02 35.83M767.05 204.91L763.49 209.86M765.94 191.91L763.96 197.67M764.54 179.24L764.54 185.34M763 167.1L765.19 172.79M761.56 155.59L765.79 159.98M760.52 144.75L766.23 146.89M760.29 134.49L766.32 133.55M761.5 124.44L765.82 120.13M764.4 113.27L764.6 107.17M767.27 99.87L763.4 95.15M768.6 85.55L762.85 83.51M768.84 71.5L762.74 71.76M768.62 57.9L762.84 59.83M768.25 44.65L762.99 47.74M767.84 31.64L763.16 35.56M778.16 204.27L776.48 210.13M776.97 191.67L776.97 197.77M775.69 179.44L777.51 185.26M774.44 167.64L778.03 172.57M773.39 156.3L778.47 159.68M772.75 145.41L778.74 146.61M772.81 134.9L778.71 133.38M773.93 124.44L778.24 120.13M776.27 113.21L777.26 107.2M778.89 100.39L776.17 94.93M780.55 86.5L775.47 83.12M781.19 72.53L775.21 71.33M781.25 58.85L775.18 59.43M781.05 45.47L775.26 47.4M780.74 32.33L775.39 35.26M789.4 204.1L789.4 210.2M788.3 191.81L789.86 197.71M787.21 179.84L790.32 185.09M786.23 168.21L790.73 172.33M785.48 156.91L791.04 159.43M785.11 145.93L791.19 146.39M785.32 135.19L791.11 133.26M786.36 124.44L790.67 120.13M788.31 113.13L789.85 107.23M790.64 100.66L788.88 94.82M792.41 87.18L788.14 82.83M793.35 73.39L787.75 70.97M793.68 59.71L787.61 59.07M793.66 46.26L787.62 47.06M793.48 33.04L787.69 34.97"/><path class="hd" d="M619.48 207.04L616.66 209.03L616.03 207.14ZM619.66 195.41L616.52 196.83L616.26 194.85ZM619.68 183.99L616.29 184.64L616.5 182.65ZM619.35 172.81L615.92 172.43L616.71 170.59ZM618.41 161.75L615.39 160.1L616.81 158.7ZM616.64 150.38L614.73 147.5L616.65 146.93ZM614.31 137.99L614.18 134.54L616.12 135.05ZM612.36 124.44L613.99 121.4L615.4 122.81ZM611.32 110.33L614.14 108.34L614.77 110.24ZM611.11 96.22L614.48 95.47L614.33 97.46ZM611.48 82.34L614.9 82.79L614.08 84.61ZM612.23 68.78L615.34 70.27L613.99 71.75ZM613.21 55.56L615.75 57.89L614.03 58.91ZM614.3 42.67L616.11 45.61L614.18 46.12ZM615.4 30.1L616.4 33.4L614.4 33.4ZM631.6 206.33L629.19 208.8L628.23 207.04ZM631.91 194.61L629.09 196.6L628.46 194.71ZM632.11 183.13L628.92 184.44L628.73 182.45ZM632.05 171.96L628.61 172.29L629.01 170.33ZM631.41 161.07L628.11 160.07L629.22 158.41ZM629.75 150.1L627.38 147.6L629.17 146.7ZM627.13 138.07L626.68 134.65L628.65 134.98ZM624.79 124.44L626.41 121.4L627.83 122.81ZM623.66 110.04L626.61 108.25L627.11 110.19ZM623.61 95.7L627.04 95.37L626.65 97.33ZM624.25 81.73L627.55 82.73L626.44 84.39ZM625.3 68.21L628.05 70.29L626.43 71.47ZM626.54 55.15L628.48 58L626.58 58.6ZM627.83 42.53L628.83 45.83L626.83 45.83ZM629.01 30.27L629.07 33.71L627.14 33.16ZM643.55 205.64L641.67 208.52L640.38 206.99ZM643.96 193.79L641.63 196.33L640.61 194.6ZM644.34 182.18L641.52 184.18L640.89 182.28ZM644.55 170.93L641.3 172.07L641.21 170.07ZM644.31 160.12L640.87 159.96L641.53 158.08ZM642.99 149.58L640.12 147.66L641.66 146.4ZM640.11 138.13L639.22 134.79L641.22 134.86ZM637.22 124.44L638.84 121.4L640.26 122.81ZM636.01 109.64L639.11 108.14L639.42 110.11ZM636.23 95.03L639.67 95.26L638.97 97.13ZM637.27 81.02L640.28 82.7L638.84 84.09ZM638.71 67.67L640.83 70.39L638.97 71.11ZM640.26 54.96L641.26 58.26L639.26 58.26ZM641.66 42.76L641.53 46.21L639.64 45.56ZM642.76 30.91L641.65 34.17L640.03 33ZM655.31 204.99L654.09 208.22L652.5 207ZM655.78 192.99L654.1 196L652.71 194.56ZM656.29 181.2L654.07 183.83L652.98 182.16ZM656.77 169.75L653.95 171.75L653.32 169.85ZM656.98 158.86L653.64 159.73L653.73 157.73ZM656.26 148.64L652.96 147.64L654.07 145.98ZM653.36 138.07L651.86 134.97L653.83 134.66ZM649.65 124.44L651.27 121.4L652.69 122.81ZM648.39 109.05L651.67 107.99L651.7 109.99ZM649.11 94.16L652.41 95.16L651.3 96.82ZM650.76 80.27L653.13 82.77L651.34 83.67ZM652.69 67.39L653.69 70.69L651.69 70.69ZM654.39 55.31L654 58.74L652.16 57.94ZM655.62 43.69L654.1 46.78L652.64 45.42ZM656.37 32.18L654.06 34.74L653.03 33.03ZM666.86 204.47L666.43 207.89L664.61 207.08ZM667.33 192.28L666.49 195.63L664.77 194.6ZM667.89 180.26L666.52 183.42L665 182.13ZM668.55 168.52L666.51 171.31L665.31 169.71ZM669.19 157.33L666.38 159.32L665.75 157.42ZM669.33 147.1L665.9 147.43L666.29 145.47ZM667.04 137.67L664.67 135.17L666.46 134.28ZM662.07 124.44L663.7 121.4L665.11 122.81ZM660.9 108.13L664.33 107.79L663.94 109.76ZM662.58 93.07L665.33 95.15L663.72 96.32ZM665.11 79.81L666.11 83.11L664.11 83.11ZM667.29 67.98L666.48 71.33L664.76 70.32ZM668.6 56.73L666.51 59.48L665.34 57.86ZM669.19 45.47L666.38 47.46L665.75 45.56ZM669.39 33.98L666.21 35.3L666.01 33.31ZM678.2 204.15L678.68 207.57L676.71 207.26ZM678.59 191.8L678.76 195.24L676.82 194.76ZM679.09 179.53L678.84 182.97L676.97 182.25ZM679.76 167.43L678.91 170.77L677.2 169.74ZM680.64 155.7L678.96 158.71L677.57 157.27ZM681.62 144.9L678.81 146.89L678.18 144.99ZM681.12 136.21L677.82 135.22L678.93 133.55ZM674.5 124.44L676.13 121.4L677.54 122.81ZM673.97 106.59L677.27 107.58L676.16 109.25ZM677.54 92.24L678.54 95.54L676.54 95.54ZM680.48 80.97L678.96 84.07L677.5 82.7ZM681.62 70.33L678.81 72.32L678.18 70.42ZM681.84 59.22L678.55 60.25L678.53 58.25ZM681.76 47.67L678.33 48.01L678.72 46.04ZM681.6 35.84L678.15 35.68L678.82 33.79ZM689.38 204.14L690.82 207.27L688.84 207.55ZM689.59 191.69L690.88 194.89L688.89 195.06ZM689.89 179.24L690.95 182.53L688.95 182.56ZM690.33 166.83L691.05 170.2L689.06 170.03ZM691.01 154.51L691.18 157.96L689.24 157.47ZM692.18 142.57L691.34 145.91L689.63 144.89ZM694.05 132.47L691.24 134.46L690.6 132.56ZM686.93 124.44L688.56 121.4L689.97 122.81ZM689.97 104.67L690.97 107.97L688.97 107.97ZM694.05 95.18L691.24 97.18L690.6 95.28ZM694.19 84.96L690.76 85.29L691.15 83.33ZM693.85 73.54L690.44 73.02L691.3 71.21ZM693.55 61.64L690.25 60.64L691.36 58.98ZM693.31 49.53L690.12 48.23L691.38 46.68ZM693.13 37.31L690.03 35.81L691.38 34.34ZM700.48 204.55L702.85 207.06L701.06 207.95ZM700.48 192.13L702.85 194.63L701.06 195.52ZM700.48 179.7L702.85 182.2L701.06 183.1ZM700.48 167.27L702.85 169.77L701.06 170.67ZM700.48 154.84L702.85 157.34L701.06 158.24ZM700.48 142.41L702.85 144.92L701.06 145.81ZM700.48 129.98L702.85 132.49L701.06 133.38ZM702.4 117.1L703.4 120.4L701.4 120.4ZM704.32 112.82L701.95 110.31L703.74 109.42ZM704.32 100.39L701.95 97.88L703.74 96.99ZM704.32 87.96L701.95 85.46L703.74 84.56ZM704.32 75.53L701.95 73.03L703.74 72.13ZM704.32 63.1L701.95 60.6L703.74 59.7ZM704.32 50.67L701.95 48.17L703.74 47.28ZM704.32 38.25L701.95 35.74L703.74 34.85ZM711.67 205.49L714.77 206.99L713.42 208.46ZM711.49 193.27L714.68 194.57L713.42 196.12ZM711.25 181.16L714.55 182.16L713.44 183.82ZM710.95 169.26L714.36 169.78L713.5 171.59ZM710.61 157.84L714.04 157.51L713.65 159.47ZM710.75 147.62L713.56 145.62L714.2 147.52ZM714.83 138.13L713.83 134.83L715.83 134.83ZM717.87 118.36L716.24 121.4L714.83 119.99ZM710.75 110.33L713.56 108.34L714.2 110.24ZM712.62 100.23L713.46 96.89L715.17 97.91ZM713.79 88.29L713.62 84.84L715.56 85.33ZM714.47 75.97L713.75 72.6L715.74 72.77ZM714.91 63.56L713.85 60.27L715.85 60.24ZM715.21 51.11L713.92 47.91L715.91 47.74ZM715.42 38.66L713.98 35.53L715.96 35.25ZM723.2 206.96L726.65 207.12L725.98 209.01ZM723.04 195.13L726.47 194.79L726.08 196.76ZM722.96 183.58L726.25 182.55L726.27 184.55ZM723.18 172.47L725.99 170.48L726.62 172.38ZM724.32 161.83L725.84 158.73L727.3 160.1ZM727.26 150.56L726.26 147.26L728.26 147.26ZM730.83 136.21L727.53 135.22L728.64 133.55ZM730.3 118.36L728.67 121.4L727.26 119.99ZM723.68 106.59L726.98 107.58L725.87 109.25ZM723.18 97.9L725.99 95.91L726.62 97.81ZM724.16 87.1L725.84 84.09L727.23 85.53ZM725.04 75.37L725.89 72.03L727.6 73.06ZM725.71 63.27L725.96 59.83L727.83 60.55ZM726.21 51L726.04 47.56L727.98 48.04ZM726.6 38.65L726.12 35.23L728.09 35.54ZM735.41 208.82L738.59 207.5L738.79 209.49ZM735.61 197.33L738.42 195.34L739.05 197.24ZM736.2 186.07L738.29 183.32L739.46 184.94ZM737.51 174.82L738.32 171.47L740.04 172.48ZM739.69 162.99L738.69 159.69L740.69 159.69ZM742.22 149.73L739.47 147.65L741.08 146.48ZM743.9 134.67L740.47 135.01L740.86 133.04ZM742.73 118.36L741.1 121.4L739.69 119.99ZM737.76 105.13L740.13 107.63L738.34 108.52ZM735.47 95.7L738.9 95.37L738.51 97.33ZM735.61 85.47L738.42 83.48L739.05 85.38ZM736.25 74.28L738.29 71.49L739.49 73.09ZM736.91 62.54L738.28 59.38L739.8 60.67ZM737.47 50.52L738.31 47.17L740.03 48.2ZM737.94 38.33L738.37 34.91L740.19 35.72ZM748.43 210.62L750.74 208.06L751.77 209.77ZM749.18 199.11L750.7 196.02L752.16 197.38ZM750.41 187.49L750.8 184.06L752.64 184.86ZM752.11 175.41L751.11 172.11L753.11 172.11ZM754.04 162.53L751.67 160.03L753.46 159.13ZM755.69 148.64L752.39 147.64L753.5 145.98ZM756.41 133.75L753.13 134.81L753.1 132.81ZM755.15 118.36L753.53 121.4L752.11 119.99ZM751.44 104.73L752.94 107.83L750.97 108.14ZM748.54 94.16L751.84 95.16L750.73 96.82ZM747.82 83.94L751.16 83.07L751.07 85.07ZM748.03 73.05L750.85 71.05L751.48 72.95ZM748.51 61.6L750.73 58.97L751.82 60.64ZM749.02 49.81L750.7 46.8L752.09 48.24ZM749.49 37.81L750.71 34.58L752.3 35.8ZM762.04 211.89L763.15 208.63L764.77 209.8ZM763.14 200.04L763.27 196.59L765.16 197.24ZM764.54 187.84L763.54 184.54L765.54 184.54ZM766.09 175.13L763.97 172.41L765.83 171.69ZM767.53 161.78L764.52 160.1L765.96 158.71ZM768.57 147.77L765.13 147.54L765.83 145.67ZM768.79 133.16L765.69 134.66L765.38 132.69ZM767.58 118.36L765.96 121.4L764.54 119.99ZM764.69 104.67L765.58 108.01L763.58 107.94ZM761.81 93.22L764.68 95.14L763.14 96.4ZM760.49 82.68L763.93 82.84L763.27 84.72ZM760.25 71.87L763.5 70.73L763.59 72.73ZM760.46 60.62L763.28 58.62L763.91 60.52ZM760.84 49.01L763.17 46.47L764.19 48.2ZM761.25 37.16L763.13 34.28L764.42 35.81ZM775.79 212.53L775.73 209.09L777.66 209.64ZM776.97 200.27L775.97 196.97L777.97 196.97ZM778.26 187.65L776.32 184.8L778.22 184.2ZM779.5 174.59L776.75 172.51L778.37 171.33ZM780.55 161.07L777.25 160.07L778.36 158.41ZM781.19 147.1L777.76 147.43L778.15 145.47ZM781.14 132.76L778.19 134.55L777.69 132.61ZM780.01 118.36L778.39 121.4L776.97 119.99ZM777.67 104.73L778.12 108.15L776.15 107.82ZM775.05 92.7L777.42 95.2L775.63 96.1ZM773.39 81.73L776.69 82.73L775.58 84.39ZM772.75 70.84L776.19 70.51L775.79 72.47ZM772.69 59.67L775.88 58.36L776.07 60.35ZM772.89 48.19L775.71 46.2L776.34 48.09ZM773.2 36.47L775.61 34L776.57 35.76ZM789.4 212.7L788.4 209.4L790.4 209.4ZM790.5 200.13L788.69 197.19L790.62 196.68ZM791.59 187.24L789.05 184.91L790.77 183.89ZM792.57 174.02L789.46 172.53L790.81 171.05ZM793.32 160.46L789.9 160.01L790.72 158.19ZM793.69 146.58L790.32 147.33L790.47 145.34ZM793.48 132.47L790.66 134.46L790.03 132.56ZM792.44 118.36L790.81 121.4L789.4 119.99ZM790.49 104.81L790.62 108.26L788.68 107.75ZM788.16 92.42L790.07 95.3L788.15 95.87ZM786.39 81.05L789.41 82.7L787.99 84.1ZM785.45 69.99L788.88 70.37L788.09 72.21ZM785.12 58.81L788.51 58.16L788.3 60.15ZM785.14 47.39L788.28 45.97L788.54 47.95ZM785.32 35.76L788.14 33.77L788.77 35.66Z"/></g>
<rect x="606.75" y="26.05" width="190.95" height="190.75" fill="none" stroke="#000" stroke-width="1.4"/>
<path d="M615.4 216.8v-2.8M615.4 26.05v2.8M606.75 208.4h2.8M797.7 208.4h-2.8M624.1 216.8v-1.7M624.1 26.05v1.7M606.75 199.7h1.7M797.7 199.7h-1.7M632.8 216.8v-1.7M632.8 26.05v1.7M606.75 191h1.7M797.7 191h-1.7M641.5 216.8v-1.7M641.5 26.05v1.7M606.75 182.3h1.7M797.7 182.3h-1.7M650.2 216.8v-1.7M650.2 26.05v1.7M606.75 173.6h1.7M797.7 173.6h-1.7M658.9 216.8v-2.8M658.9 26.05v2.8M606.75 164.9h2.8M797.7 164.9h-2.8M667.6 216.8v-1.7M667.6 26.05v1.7M606.75 156.2h1.7M797.7 156.2h-1.7M676.3 216.8v-1.7M676.3 26.05v1.7M606.75 147.5h1.7M797.7 147.5h-1.7M685 216.8v-1.7M685 26.05v1.7M606.75 138.8h1.7M797.7 138.8h-1.7M693.7 216.8v-1.7M693.7 26.05v1.7M606.75 130.1h1.7M797.7 130.1h-1.7M702.4 216.8v-2.8M702.4 26.05v2.8M606.75 121.4h2.8M797.7 121.4h-2.8M711.1 216.8v-1.7M711.1 26.05v1.7M606.75 112.7h1.7M797.7 112.7h-1.7M719.8 216.8v-1.7M719.8 26.05v1.7M606.75 104h1.7M797.7 104h-1.7M728.5 216.8v-1.7M728.5 26.05v1.7M606.75 95.3h1.7M797.7 95.3h-1.7M737.2 216.8v-1.7M737.2 26.05v1.7M606.75 86.6h1.7M797.7 86.6h-1.7M745.9 216.8v-2.8M745.9 26.05v2.8M606.75 77.9h2.8M797.7 77.9h-2.8M754.6 216.8v-1.7M754.6 26.05v1.7M606.75 69.2h1.7M797.7 69.2h-1.7M763.3 216.8v-1.7M763.3 26.05v1.7M606.75 60.5h1.7M797.7 60.5h-1.7M772 216.8v-1.7M772 26.05v1.7M606.75 51.8h1.7M797.7 51.8h-1.7M780.7 216.8v-1.7M780.7 26.05v1.7M606.75 43.1h1.7M797.7 43.1h-1.7M789.4 216.8v-2.8M789.4 26.05v2.8M606.75 34.4h2.8M797.7 34.4h-2.8" stroke="#000" stroke-width="0.9" fill="none"/>
<g transform="rotate(0.002)">
<text x="65.05" y="229.1" class="tl" text-anchor="middle">10</text>
<text x="58.35" y="229.1" class="tl" text-anchor="end">&#8722;</text>
<text x="107.4" y="229.1" class="tl" text-anchor="middle">5</text>
<text x="103.9" y="229.1" class="tl" text-anchor="end">&#8722;</text>
<text x="151.2" y="229.1" class="tl" text-anchor="middle">0</text>
<text x="193.55" y="229.1" class="tl" text-anchor="middle">5</text>
<text x="235.45" y="229.1" class="tl" text-anchor="middle">10</text>
<text transform="translate(53.6 39.1) rotate(-90)" class="tl" text-anchor="middle">10</text>
<text transform="translate(53.6 81.1) rotate(-90)" class="tl" text-anchor="middle">5</text>
<text transform="translate(53.6 123.1) rotate(-90)" class="tl" text-anchor="middle">0</text>
<text transform="translate(53.6 169.8) rotate(-90)" class="tl" text-anchor="middle">&#8722;5</text>
<text transform="translate(53.6 209.25) rotate(-90)" class="tl" text-anchor="middle">&#8722;10</text>
<text x="334.95" y="230.3" class="tl" text-anchor="middle">10</text>
<text x="328.25" y="230.3" class="tl" text-anchor="end">&#8722;</text>
<text x="379.75" y="230.3" class="tl" text-anchor="middle">5</text>
<text x="376.25" y="230.3" class="tl" text-anchor="end">&#8722;</text>
<text x="424.1" y="230.3" class="tl" text-anchor="middle">0</text>
<text x="467.45" y="230.3" class="tl" text-anchor="middle">5</text>
<text x="511.3" y="230.3" class="tl" text-anchor="middle">10</text>
<text transform="translate(321.2 38.75) rotate(-90)" class="tl" text-anchor="middle">10</text>
<text transform="translate(321.2 79.8) rotate(-90)" class="tl" text-anchor="middle">5</text>
<text transform="translate(321.2 124.3) rotate(-90)" class="tl" text-anchor="middle">0</text>
<text transform="translate(321.2 169.35) rotate(-90)" class="tl" text-anchor="middle">&#8722;5</text>
<text transform="translate(321.2 210.85) rotate(-90)" class="tl" text-anchor="middle">&#8722;10</text>
<text x="614.95" y="229" class="tl" text-anchor="middle">10</text>
<text x="608.25" y="229" class="tl" text-anchor="end">&#8722;</text>
<text x="658.1" y="229" class="tl" text-anchor="middle">5</text>
<text x="654.6" y="229" class="tl" text-anchor="end">&#8722;</text>
<text x="702.8" y="229" class="tl" text-anchor="middle">0</text>
<text x="746.8" y="229" class="tl" text-anchor="middle">5</text>
<text x="790" y="229" class="tl" text-anchor="middle">10</text>
<text transform="translate(602.3 35.95) rotate(-90)" class="tl" text-anchor="middle">10</text>
<text transform="translate(602.3 78.9) rotate(-90)" class="tl" text-anchor="middle">5</text>
<text transform="translate(602.3 123.3) rotate(-90)" class="tl" text-anchor="middle">0</text>
<text transform="translate(602.3 165.85) rotate(-90)" class="tl" text-anchor="middle">&#8722;5</text>
<text transform="translate(602.3 205.8) rotate(-90)" class="tl" text-anchor="middle">&#8722;10</text>
<rect x="2.15" y="2.55" width="29.2" height="28.7" fill="none" stroke="#000" stroke-width="1.3"/>
<text x="16.35" y="21.8" class="lt" text-anchor="middle">a</text>
<rect x="275.45" y="2.55" width="29.1" height="28.7" fill="none" stroke="#000" stroke-width="1.3"/>
<text x="291.25" y="23.6" class="lt" text-anchor="middle">b</text>
<rect x="555.45" y="2.55" width="29.1" height="28.7" fill="none" stroke="#000" stroke-width="1.3"/>
<text x="569.95" y="22.3" class="lt" text-anchor="middle">c</text>
<text id="aH" x="144.1" y="22.65" class="ti">H</text>
<text id="bN" x="391.55" y="15.55" class="nab">&#8711;</text>
<text id="bH" x="410.8" y="16.75" class="ti">H</text><text id="by" x="428.3" y="20.45" class="ti sub">y</text>
<text id="cN1" x="638.45" y="17.8" class="nab">&#8711;</text>
<text id="cH1" x="659.8" y="16.95" class="ti">H</text><text id="cy" x="679.15" y="19.45" class="ti sub">y</text>
<text id="cp" x="690.35" y="19.65" class="pl">+</text>
<text id="cN2" x="713.85" y="17.6" class="nab">&#8711;</text>
<text id="cH2" x="733.7" y="16.95" class="ti">H</text><text id="cx" x="751.45" y="20.45" class="ti sub">x</text>
<text x="149.25" y="247.6" class="ax" text-anchor="middle"><tspan font-style="italic">x</tspan> (nm)</text>
<text transform="translate(31.25 123.35) rotate(-90)" class="ax" text-anchor="middle"><tspan font-style="italic">y</tspan> (nm)</text>
<text x="425.1" y="247.7" class="ax" text-anchor="middle"><tspan font-style="italic">x</tspan> (nm)</text>
<text transform="translate(304.85 125.85) rotate(-90)" class="ax" text-anchor="middle"><tspan font-style="italic">y</tspan> (nm)</text>
<text x="704" y="246.8" class="ax" text-anchor="middle"><tspan font-style="italic">x</tspan> (nm)</text>
<text transform="translate(586.05 122.05) rotate(-90)" class="ax" text-anchor="middle"><tspan font-style="italic">y</tspan> (nm)</text>
<rect x="105.78" y="251.3" width="0.8" height="2.6" fill="#c8d4c8"/>
<rect x="152.85" y="251.3" width="0.8" height="2.6" fill="#c8d4c8"/>
<rect x="199.93" y="251.3" width="0.8" height="2.6" fill="#c8d4c8"/>
<rect x="59.1" y="253.9" width="47.38" height="8.2" fill="#7f449b"/>
<rect x="106.18" y="253.9" width="47.38" height="8.2" fill="#a8449b"/>
<rect x="153.25" y="253.9" width="47.38" height="8.2" fill="#cc389a"/>
<rect x="200.33" y="253.9" width="47.08" height="8.2" fill="#d12a2c"/>
<rect x="358.12" y="252.2" width="0.8" height="2.6" fill="#c8d4c8"/>
<rect x="398.54" y="252.2" width="0.8" height="2.6" fill="#c8d4c8"/>
<rect x="438.96" y="252.2" width="0.8" height="2.6" fill="#c8d4c8"/>
<rect x="479.38" y="252.2" width="0.8" height="2.6" fill="#c8d4c8"/>
<rect x="318.1" y="254.8" width="40.72" height="8.4" fill="#86c8d0"/>
<rect x="358.52" y="254.8" width="40.72" height="8.4" fill="#5877b9"/>
<rect x="398.94" y="254.8" width="40.72" height="8.4" fill="#363290"/>
<rect x="439.36" y="254.8" width="40.72" height="8.4" fill="#6a3796"/>
<rect x="479.78" y="254.8" width="40.42" height="8.4" fill="#d12a2c"/>
<rect x="649.62" y="251" width="0.8" height="2.6" fill="#c8d4c8"/>
<rect x="706.05" y="251" width="0.8" height="2.6" fill="#c8d4c8"/>
<rect x="762.48" y="251" width="0.8" height="2.6" fill="#c8d4c8"/>
<rect x="593.6" y="253.6" width="56.72" height="9.6" fill="#86c8d0"/>
<rect x="650.02" y="253.6" width="56.72" height="9.6" fill="#3b3292"/>
<rect x="706.45" y="253.6" width="56.72" height="9.6" fill="#6a3796"/>
<rect x="762.88" y="253.6" width="56.42" height="9.6" fill="#d12a2c"/>
<text x="38" y="274.8" class="cb">143 kA/m</text>
<text x="207.8" y="274.8" class="cb">4510 kA/m</text>
<text x="299.6" y="274.8" class="cb">2 x 10<tspan font-size="9.5" dy="-4">13</tspan><tspan dy="4"> A/m/m</tspan></text>
<text x="468.5" y="274.8" class="cb">2 x 10<tspan font-size="9.5" dy="-4">21</tspan><tspan dy="4"> A/m/m</tspan></text>
<text x="580.8" y="274.8" class="cb">4 x 10<tspan font-size="9.5" dy="-4">13</tspan><tspan dy="4"> A/m/m</tspan></text>
<text x="751.7" y="274.8" class="cb">4 x 10<tspan font-size="9.5" dy="-4">21</tspan><tspan dy="4"> A/m/m</tspan></text>
</g>
</svg></body></html>
